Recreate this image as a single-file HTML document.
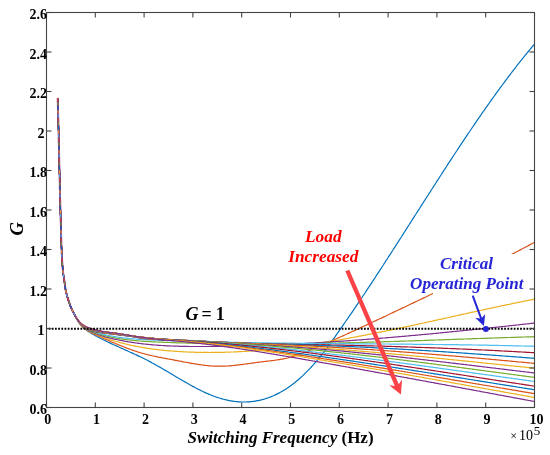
<!DOCTYPE html>
<html><head><meta charset="utf-8"><style>
html,body{margin:0;padding:0;background:#fff;}
svg{display:block;}
text{font-family:"Liberation Serif","Times New Roman",serif;}
</style></head><body>
<svg width="550" height="455" viewBox="0 0 550 455">
<rect width="550" height="455" fill="#fff"/>
<g fill="none" stroke-width="1.2" stroke-linejoin="round" stroke-linecap="round">
<path d="M57.7,98.6 L57.8,102.3 L57.9,105.9 L58.0,109.6 L58.1,113.3 L58.2,116.9 L58.3,120.6 L58.4,124.3 L58.5,128.0 L58.6,131.6 L58.7,135.3 L58.7,139.0 L58.8,142.6 L58.9,146.3 L59.0,150.0 L59.1,153.6 L59.2,157.3 L59.2,161.0 L59.3,164.7 L59.4,168.3 L59.5,172.0 L59.6,175.7 L59.7,179.3 L59.8,183.0 L59.8,186.7 L59.9,190.3 L60.0,194.0 L60.1,197.7 L60.2,201.3 L60.3,205.0 L60.4,208.7 L60.5,212.4 L60.6,216.0 L60.7,219.7 L60.8,223.4 L60.9,227.0 L61.0,230.7 L61.1,234.4 L61.2,238.0 L61.3,241.7 L61.4,245.4 L61.6,249.0 L61.7,252.7 L61.9,256.4 L62.1,260.1 L62.3,263.7 L62.6,267.4 L62.9,271.1 L63.4,274.7 L64.0,278.4 L64.5,282.1 L65.0,285.7 L65.5,289.4 L66.3,293.1 L67.3,296.8 L68.4,300.4 L69.7,304.1 L71.1,307.8 L72.8,311.4 L74.8,315.1 L75.3,316.2 L76.3,318.2 L77.3,320.1 L78.3,321.7 L79.3,323.2 L80.3,324.6 L81.3,325.7 L82.3,326.8 L83.3,327.7 L84.3,328.5 L85.3,329.3 L86.3,330.0 L87.3,330.7 L88.3,331.4 L89.3,332.0 L90.3,332.6 L91.3,333.3 L92.3,333.9 L93.3,334.4 L94.3,335.0 L95.3,335.6 L96.3,336.1 L97.3,336.7 L98.3,337.2 L99.3,337.7 L100.3,338.2 L101.3,338.7 L102.3,339.2 L103.3,339.7 L104.3,340.2 L105.3,340.7 L106.3,341.2 L107.3,341.7 L108.3,342.2 L109.3,342.6 L110.3,343.1 L111.3,343.6 L112.3,344.1 L113.3,344.5 L114.3,345.0 L115.3,345.4 L116.3,345.9 L117.3,346.3 L118.3,346.8 L119.3,347.2 L120.3,347.7 L121.3,348.1 L122.3,348.6 L123.3,349.0 L124.3,349.5 L125.3,349.9 L126.3,350.4 L127.3,350.8 L128.3,351.3 L129.3,351.7 L130.3,352.2 L131.3,352.6 L132.3,353.1 L133.3,353.6 L134.3,354.0 L135.3,354.5 L136.3,354.9 L137.3,355.4 L138.3,355.9 L139.3,356.4 L140.3,356.8 L141.3,357.3 L142.3,357.8 L143.3,358.3 L144.3,358.8 L145.3,359.3 L146.3,359.8 L147.3,360.3 L148.3,360.8 L149.3,361.4 L150.3,361.9 L151.3,362.4 L152.3,363.0 L153.3,363.5 L154.3,364.1 L155.3,364.6 L156.3,365.2 L157.3,365.7 L158.3,366.3 L159.3,366.9 L160.3,367.4 L161.3,368.0 L162.3,368.6 L163.3,369.2 L164.3,369.8 L165.3,370.4 L166.3,370.9 L167.3,371.5 L168.3,372.1 L169.3,372.7 L170.3,373.3 L171.3,373.9 L172.3,374.5 L173.3,375.1 L174.3,375.7 L175.3,376.3 L176.3,376.9 L177.3,377.5 L178.3,378.1 L179.3,378.7 L180.3,379.2 L181.3,379.8 L182.3,380.4 L183.3,381.0 L184.3,381.6 L185.3,382.1 L186.3,382.7 L187.3,383.3 L188.3,383.8 L189.3,384.4 L190.3,385.0 L191.3,385.5 L192.3,386.1 L193.3,386.6 L194.3,387.1 L195.3,387.7 L196.3,388.2 L197.3,388.7 L198.3,389.2 L199.3,389.7 L200.3,390.2 L201.3,390.7 L202.3,391.2 L203.3,391.7 L204.3,392.1 L205.3,392.6 L206.3,393.1 L207.3,393.5 L208.3,393.9 L209.3,394.4 L210.3,394.8 L211.3,395.2 L212.3,395.6 L213.3,396.0 L214.3,396.3 L215.3,396.7 L216.3,397.1 L217.3,397.4 L218.3,397.7 L219.3,398.0 L220.3,398.3 L221.3,398.6 L222.3,398.9 L223.3,399.2 L224.3,399.5 L225.3,399.7 L226.3,399.9 L227.3,400.2 L228.3,400.4 L229.3,400.6 L230.3,400.8 L231.3,400.9 L232.3,401.1 L233.3,401.2 L234.3,401.4 L235.3,401.5 L236.3,401.6 L237.3,401.7 L238.3,401.8 L239.3,401.9 L240.3,401.9 L241.3,402.0 L242.3,402.0 L243.3,402.0 L244.3,402.0 L245.3,402.0 L246.3,402.0 L247.3,401.9 L248.3,401.9 L249.3,401.8 L250.3,401.7 L251.3,401.6 L252.3,401.5 L253.3,401.4 L254.3,401.3 L255.3,401.1 L256.3,400.9 L257.3,400.7 L258.3,400.6 L259.3,400.3 L260.3,400.1 L261.3,399.9 L262.3,399.6 L263.3,399.3 L264.3,399.1 L265.3,398.8 L266.3,398.4 L267.3,398.1 L268.3,397.8 L269.3,397.4 L270.3,397.0 L271.3,396.6 L272.3,396.2 L273.3,395.8 L274.3,395.3 L275.3,394.9 L276.3,394.4 L277.3,393.9 L278.3,393.4 L279.3,392.9 L280.3,392.3 L281.3,391.8 L282.3,391.2 L283.3,390.6 L284.3,390.0 L285.3,389.4 L286.3,388.7 L287.3,388.1 L288.3,387.4 L289.3,386.7 L290.3,386.0 L291.3,385.3 L292.3,384.5 L293.3,383.7 L294.3,383.0 L295.3,382.2 L296.3,381.3 L297.3,380.5 L298.3,379.7 L299.3,378.8 L300.3,377.9 L301.3,377.0 L302.3,376.1 L303.3,375.1 L304.3,374.2 L305.3,373.2 L306.3,372.2 L307.3,371.2 L308.3,370.2 L309.3,369.1 L310.3,368.1 L311.3,367.0 L312.3,365.9 L313.3,364.8 L314.3,363.7 L315.3,362.5 L316.3,361.4 L317.3,360.2 L318.3,359.0 L319.3,357.8 L320.3,356.6 L321.3,355.4 L322.3,354.1 L323.3,352.8 L324.3,351.6 L325.3,350.3 L326.3,348.9 L327.3,347.6 L328.3,346.2 L329.3,344.9 L330.3,343.5 L331.3,342.1 L332.3,340.7 L333.3,339.2 L334.3,337.8 L335.3,336.4 L336.3,334.9 L337.3,333.5 L338.3,332.1 L339.3,330.6 L340.3,329.2 L341.3,327.7 L342.3,326.3 L343.3,324.9 L344.3,323.4 L345.3,322.0 L346.3,320.5 L347.3,319.1 L348.3,317.6 L349.3,316.2 L350.3,314.7 L351.3,313.3 L352.3,311.8 L353.3,310.3 L354.3,308.9 L355.3,307.4 L356.3,305.9 L357.3,304.4 L358.3,302.9 L359.3,301.4 L360.3,300.0 L361.3,298.5 L362.3,297.0 L363.3,295.5 L364.3,294.0 L365.3,292.5 L366.3,290.9 L367.3,289.4 L368.3,287.9 L369.3,286.4 L370.3,284.9 L371.3,283.4 L372.3,281.9 L373.3,280.3 L374.3,278.8 L375.3,277.3 L376.3,275.7 L377.3,274.2 L378.3,272.7 L379.3,271.1 L380.3,269.6 L381.3,268.1 L382.3,266.5 L383.3,265.0 L384.3,263.4 L385.3,261.9 L386.3,260.3 L387.3,258.8 L388.3,257.2 L389.3,255.7 L390.3,254.1 L391.3,252.6 L392.3,251.0 L393.3,249.5 L394.3,247.9 L395.3,246.4 L396.3,244.8 L397.3,243.2 L398.3,241.7 L399.3,240.1 L400.3,238.5 L401.3,237.0 L402.3,235.4 L403.3,233.9 L404.3,232.3 L405.3,230.7 L406.3,229.2 L407.3,227.6 L408.3,226.0 L409.3,224.5 L410.3,222.9 L411.3,221.3 L412.3,219.7 L413.3,218.2 L414.3,216.6 L415.3,215.0 L416.3,213.5 L417.3,211.9 L418.3,210.3 L419.3,208.8 L420.3,207.2 L421.3,205.6 L422.3,204.1 L423.3,202.5 L424.3,200.9 L425.3,199.4 L426.3,197.8 L427.3,196.3 L428.3,194.7 L429.3,193.1 L430.3,191.6 L431.3,190.0 L432.3,188.5 L433.3,186.9 L434.3,185.3 L435.3,183.8 L436.3,182.2 L437.3,180.7 L438.3,179.1 L439.3,177.6 L440.3,176.0 L441.3,174.5 L442.3,172.9 L443.3,171.4 L444.3,169.8 L445.3,168.3 L446.3,166.8 L447.3,165.2 L448.3,163.7 L449.3,162.2 L450.3,160.6 L451.3,159.1 L452.3,157.6 L453.3,156.0 L454.3,154.5 L455.3,153.0 L456.3,151.5 L457.3,150.0 L458.3,148.4 L459.3,146.9 L460.3,145.4 L461.3,143.9 L462.3,142.4 L463.3,140.9 L464.3,139.4 L465.3,137.9 L466.3,136.4 L467.3,134.9 L468.3,133.4 L469.3,132.0 L470.3,130.5 L471.3,129.0 L472.3,127.5 L473.3,126.1 L474.3,124.6 L475.3,123.1 L476.3,121.7 L477.3,120.2 L478.3,118.7 L479.3,117.3 L480.3,115.8 L481.3,114.4 L482.3,112.9 L483.3,111.5 L484.3,110.1 L485.3,108.6 L486.3,107.2 L487.3,105.8 L488.3,104.4 L489.3,103.0 L490.3,101.6 L491.3,100.1 L492.3,98.7 L493.3,97.4 L494.3,96.0 L495.3,94.6 L496.3,93.2 L497.3,91.8 L498.3,90.4 L499.3,89.1 L500.3,87.7 L501.3,86.3 L502.3,85.0 L503.3,83.6 L504.3,82.3 L505.3,80.9 L506.3,79.6 L507.3,78.3 L508.3,76.9 L509.3,75.6 L510.3,74.3 L511.3,73.0 L512.3,71.7 L513.3,70.4 L514.3,69.1 L515.3,67.8 L516.3,66.5 L517.3,65.2 L518.3,63.9 L519.3,62.7 L520.3,61.4 L521.3,60.2 L522.3,58.9 L523.3,57.7 L524.3,56.4 L525.3,55.2 L526.3,54.0 L527.3,52.7 L528.3,51.5 L529.3,50.3 L530.3,49.1 L531.3,47.9 L532.3,46.7 L533.3,45.5 L534.3,44.4 L534.5,44.1" stroke="#0072BD"/>
<path d="M57.7,98.6 L57.8,102.3 L57.9,105.9 L58.0,109.6 L58.1,113.3 L58.2,116.9 L58.3,120.6 L58.4,124.3 L58.5,128.0 L58.6,131.6 L58.7,135.3 L58.7,139.0 L58.8,142.6 L58.9,146.3 L59.0,150.0 L59.1,153.6 L59.2,157.3 L59.2,161.0 L59.3,164.7 L59.4,168.3 L59.5,172.0 L59.6,175.7 L59.7,179.3 L59.8,183.0 L59.8,186.7 L59.9,190.3 L60.0,194.0 L60.1,197.7 L60.2,201.3 L60.3,205.0 L60.4,208.7 L60.5,212.4 L60.6,216.0 L60.7,219.7 L60.8,223.4 L60.9,227.0 L61.0,230.7 L61.1,234.4 L61.2,238.0 L61.3,241.7 L61.4,245.4 L61.6,249.0 L61.7,252.7 L61.9,256.4 L62.1,260.1 L62.3,263.7 L62.6,267.4 L62.9,271.1 L63.4,274.7 L64.0,278.4 L64.5,282.1 L65.0,285.7 L65.5,289.4 L66.3,293.1 L67.3,296.8 L68.4,300.4 L69.7,304.1 L71.1,307.8 L72.8,311.4 L74.8,315.1 L75.3,316.1 L76.3,318.0 L77.3,319.8 L78.3,321.4 L79.3,323.0 L80.3,324.3 L81.3,325.6 L82.3,326.7 L83.3,327.6 L84.3,328.4 L85.3,329.1 L86.3,329.7 L87.3,330.3 L88.3,330.9 L89.3,331.5 L90.3,332.0 L91.3,332.6 L92.3,333.1 L93.3,333.6 L94.3,334.1 L95.3,334.6 L96.3,335.0 L97.3,335.5 L98.3,335.9 L99.3,336.4 L100.3,336.9 L101.3,337.3 L102.3,337.8 L103.3,338.2 L104.3,338.7 L105.3,339.1 L106.3,339.6 L107.3,340.0 L108.3,340.4 L109.3,340.9 L110.3,341.3 L111.3,341.8 L112.3,342.2 L113.3,342.6 L114.3,343.0 L115.3,343.5 L116.3,343.9 L117.3,344.3 L118.3,344.7 L119.3,345.1 L120.3,345.5 L121.3,345.9 L122.3,346.3 L123.3,346.7 L124.3,347.1 L125.3,347.5 L126.3,347.9 L127.3,348.3 L128.3,348.6 L129.3,349.0 L130.3,349.4 L131.3,349.7 L132.3,350.1 L133.3,350.4 L134.3,350.8 L135.3,351.1 L136.3,351.4 L137.3,351.7 L138.3,352.1 L139.3,352.4 L140.3,352.7 L141.3,353.0 L142.3,353.2 L143.3,353.5 L144.3,353.8 L145.3,354.1 L146.3,354.3 L147.3,354.6 L148.3,354.8 L149.3,355.1 L150.3,355.3 L151.3,355.5 L152.3,355.8 L153.3,356.0 L154.3,356.2 L155.3,356.4 L156.3,356.6 L157.3,356.8 L158.3,357.1 L159.3,357.3 L160.3,357.4 L161.3,357.6 L162.3,357.8 L163.3,358.0 L164.3,358.2 L165.3,358.4 L166.3,358.6 L167.3,358.8 L168.3,359.0 L169.3,359.1 L170.3,359.3 L171.3,359.5 L172.3,359.7 L173.3,359.9 L174.3,360.1 L175.3,360.3 L176.3,360.4 L177.3,360.6 L178.3,360.8 L179.3,361.0 L180.3,361.2 L181.3,361.4 L182.3,361.6 L183.3,361.8 L184.3,362.0 L185.3,362.2 L186.3,362.3 L187.3,362.5 L188.3,362.7 L189.3,362.9 L190.3,363.1 L191.3,363.3 L192.3,363.4 L193.3,363.6 L194.3,363.8 L195.3,363.9 L196.3,364.1 L197.3,364.3 L198.3,364.4 L199.3,364.6 L200.3,364.7 L201.3,364.9 L202.3,365.0 L203.3,365.1 L204.3,365.3 L205.3,365.4 L206.3,365.5 L207.3,365.6 L208.3,365.7 L209.3,365.8 L210.3,365.9 L211.3,365.9 L212.3,366.0 L213.3,366.1 L214.3,366.1 L215.3,366.2 L216.3,366.2 L217.3,366.2 L218.3,366.2 L219.3,366.2 L220.3,366.2 L221.3,366.2 L222.3,366.2 L223.3,366.2 L224.3,366.1 L225.3,366.1 L226.3,366.0 L227.3,366.0 L228.3,365.9 L229.3,365.8 L230.3,365.8 L231.3,365.7 L232.3,365.6 L233.3,365.5 L234.3,365.4 L235.3,365.3 L236.3,365.2 L237.3,365.1 L238.3,364.9 L239.3,364.8 L240.3,364.7 L241.3,364.6 L242.3,364.4 L243.3,364.3 L244.3,364.2 L245.3,364.0 L246.3,363.9 L247.3,363.8 L248.3,363.6 L249.3,363.5 L250.3,363.4 L251.3,363.2 L252.3,363.1 L253.3,362.9 L254.3,362.8 L255.3,362.7 L256.3,362.5 L257.3,362.4 L258.3,362.3 L259.3,362.1 L260.3,362.0 L261.3,361.9 L262.3,361.8 L263.3,361.7 L264.3,361.5 L265.3,361.4 L266.3,361.3 L267.3,361.2 L268.3,361.1 L269.3,361.0 L270.3,360.8 L271.3,360.7 L272.3,360.6 L273.3,360.5 L274.3,360.3 L275.3,360.2 L276.3,360.0 L277.3,359.9 L278.3,359.7 L279.3,359.6 L280.3,359.4 L281.3,359.2 L282.3,359.1 L283.3,358.9 L284.3,358.7 L285.3,358.5 L286.3,358.3 L287.3,358.0 L288.3,357.8 L289.3,357.5 L290.3,357.3 L291.3,357.0 L292.3,356.7 L293.3,356.4 L294.3,356.1 L295.3,355.8 L296.3,355.5 L297.3,355.1 L298.3,354.8 L299.3,354.4 L300.3,354.1 L301.3,353.7 L302.3,353.3 L303.3,352.9 L304.3,352.5 L305.3,352.1 L306.3,351.7 L307.3,351.3 L308.3,350.9 L309.3,350.5 L310.3,350.1 L311.3,349.7 L312.3,349.3 L313.3,348.8 L314.3,348.4 L315.3,348.0 L316.3,347.5 L317.3,347.1 L318.3,346.7 L319.3,346.2 L320.3,345.8 L321.3,345.4 L322.3,344.9 L323.3,344.5 L324.3,344.1 L325.3,343.6 L326.3,343.2 L327.3,342.8 L328.3,342.3 L329.3,341.9 L330.3,341.4 L331.3,341.0 L332.3,340.5 L333.3,340.1 L334.3,339.7 L335.3,339.2 L336.3,338.8 L337.3,338.3 L338.3,337.9 L339.3,337.4 L340.3,337.0 L341.3,336.5 L342.3,336.1 L343.3,335.6 L344.3,335.2 L345.3,334.7 L346.3,334.3 L347.3,333.8 L348.3,333.4 L349.3,332.9 L350.3,332.4 L351.3,332.0 L352.3,331.5 L353.3,331.1 L354.3,330.6 L355.3,330.2 L356.3,329.7 L357.3,329.2 L358.3,328.8 L359.3,328.3 L360.3,327.9 L361.3,327.4 L362.3,326.9 L363.3,326.5 L364.3,326.0 L365.3,325.5 L366.3,325.1 L367.3,324.6 L368.3,324.1 L369.3,323.7 L370.3,323.2 L371.3,322.7 L372.3,322.3 L373.3,321.8 L374.3,321.3 L375.3,320.9 L376.3,320.4 L377.3,319.9 L378.3,319.5 L379.3,319.0 L380.3,318.5 L381.3,318.1 L382.3,317.6 L383.3,317.1 L384.3,316.6 L385.3,316.2 L386.3,315.7 L387.3,315.2 L388.3,314.8 L389.3,314.3 L390.3,313.8 L391.3,313.3 L392.3,312.9 L393.3,312.4 L394.3,311.9 L395.3,311.4 L396.3,311.0 L397.3,310.5 L398.3,310.0 L399.3,309.5 L400.3,309.1 L401.3,308.6 L402.3,308.1 L403.3,307.6 L404.3,307.2 L405.3,306.7 L406.3,306.2 L407.3,305.7 L408.3,305.3 L409.3,304.8 L410.3,304.3 L411.3,303.8 L412.3,303.4 L413.3,302.9 L414.3,302.4 L415.3,301.9 L416.3,301.5 L417.3,301.0 L418.3,300.5 L419.3,300.0 L420.3,299.5 L421.3,299.1 L422.3,298.6 L423.3,298.1 L424.3,297.6 L425.3,297.2 L426.3,296.7 L427.3,296.2 L428.3,295.7 L429.3,295.2 L430.3,294.8 L431.3,294.3 L432.3,293.8 L433.3,293.3 L434.3,292.9 L435.3,292.4 L436.3,291.9 L437.3,291.4 L438.3,290.9 L439.3,290.5 L440.3,290.0 L441.3,289.5 L442.3,289.0 L443.3,288.5 L444.3,288.0 L445.3,287.6 L446.3,287.1 L447.3,286.6 L448.3,286.1 L449.3,285.6 L450.3,285.1 L451.3,284.7 L452.3,284.2 L453.3,283.7 L454.3,283.2 L455.3,282.7 L456.3,282.2 L457.3,281.7 L458.3,281.3 L459.3,280.8 L460.3,280.3 L461.3,279.8 L462.3,279.3 L463.3,278.8 L464.3,278.3 L465.3,277.8 L466.3,277.3 L467.3,276.8 L468.3,276.4 L469.3,275.9 L470.3,275.4 L471.3,274.9 L472.3,274.4 L473.3,273.9 L474.3,273.4 L475.3,272.9 L476.3,272.4 L477.3,271.9 L478.3,271.4 L479.3,270.9 L480.3,270.4 L481.3,269.9 L482.3,269.4 L483.3,268.9 L484.3,268.4 L485.3,267.9 L486.3,267.4 L487.3,266.9 L488.3,266.4 L489.3,265.9 L490.3,265.4 L491.3,264.9 L492.3,264.4 L493.3,263.9 L494.3,263.4 L495.3,262.9 L496.3,262.3 L497.3,261.8 L498.3,261.3 L499.3,260.8 L500.3,260.3 L501.3,259.8 L502.3,259.3 L503.3,258.8 L504.3,258.3 L505.3,257.7 L506.3,257.2 L507.3,256.7 L508.3,256.2 L509.3,255.7 L510.3,255.1 L511.3,254.6 L512.3,254.1 L513.3,253.6 L514.3,253.1 L515.3,252.5 L516.3,252.0 L517.3,251.5 L518.3,251.0 L519.3,250.4 L520.3,249.9 L521.3,249.4 L522.3,248.8 L523.3,248.3 L524.3,247.8 L525.3,247.2 L526.3,246.7 L527.3,246.2 L528.3,245.6 L529.3,245.1 L530.3,244.6 L531.3,244.0 L532.3,243.5 L533.3,243.0 L534.3,242.4 L534.5,242.3" stroke="#D95319"/>
<path d="M57.7,98.6 L57.8,102.3 L57.9,105.9 L58.0,109.6 L58.1,113.3 L58.2,116.9 L58.3,120.6 L58.4,124.3 L58.5,128.0 L58.6,131.6 L58.7,135.3 L58.7,139.0 L58.8,142.6 L58.9,146.3 L59.0,150.0 L59.1,153.6 L59.2,157.3 L59.2,161.0 L59.3,164.7 L59.4,168.3 L59.5,172.0 L59.6,175.7 L59.7,179.3 L59.8,183.0 L59.8,186.7 L59.9,190.3 L60.0,194.0 L60.1,197.7 L60.2,201.3 L60.3,205.0 L60.4,208.7 L60.5,212.4 L60.6,216.0 L60.7,219.7 L60.8,223.4 L60.9,227.0 L61.0,230.7 L61.1,234.4 L61.2,238.0 L61.3,241.7 L61.4,245.4 L61.6,249.0 L61.7,252.7 L61.9,256.4 L62.1,260.1 L62.3,263.7 L62.6,267.4 L62.9,271.1 L63.4,274.7 L64.0,278.4 L64.5,282.1 L65.0,285.7 L65.5,289.4 L66.3,293.1 L67.3,296.8 L68.4,300.4 L69.7,304.1 L71.1,307.8 L72.8,311.4 L74.8,315.1 L75.3,316.1 L76.3,317.9 L77.3,319.6 L78.3,321.3 L79.3,322.8 L80.3,324.2 L81.3,325.4 L82.3,326.5 L83.3,327.3 L84.3,328.1 L85.3,328.7 L86.3,329.3 L87.3,329.9 L88.3,330.5 L89.3,331.0 L90.3,331.6 L91.3,332.1 L92.3,332.6 L93.3,333.1 L94.3,333.5 L95.3,334.0 L96.3,334.5 L97.3,334.9 L98.3,335.3 L99.3,335.8 L100.3,336.2 L101.3,336.6 L102.3,336.9 L103.3,337.3 L104.3,337.7 L105.3,338.1 L106.3,338.4 L107.3,338.8 L108.3,339.1 L109.3,339.4 L110.3,339.7 L111.3,340.1 L112.3,340.4 L113.3,340.7 L114.3,341.0 L115.3,341.3 L116.3,341.6 L117.3,341.8 L118.3,342.1 L119.3,342.4 L120.3,342.7 L121.3,342.9 L122.3,343.2 L123.3,343.4 L124.3,343.7 L125.3,343.9 L126.3,344.2 L127.3,344.4 L128.3,344.6 L129.3,344.9 L130.3,345.1 L131.3,345.3 L132.3,345.5 L133.3,345.7 L134.3,345.9 L135.3,346.1 L136.3,346.3 L137.3,346.5 L138.3,346.7 L139.3,346.9 L140.3,347.1 L141.3,347.3 L142.3,347.4 L143.3,347.6 L144.3,347.8 L145.3,347.9 L146.3,348.1 L147.3,348.3 L148.3,348.4 L149.3,348.6 L150.3,348.7 L151.3,348.8 L152.3,349.0 L153.3,349.1 L154.3,349.2 L155.3,349.4 L156.3,349.5 L157.3,349.6 L158.3,349.7 L159.3,349.9 L160.3,350.0 L161.3,350.1 L162.3,350.2 L163.3,350.3 L164.3,350.4 L165.3,350.5 L166.3,350.6 L167.3,350.7 L168.3,350.8 L169.3,350.8 L170.3,350.9 L171.3,351.0 L172.3,351.1 L173.3,351.2 L174.3,351.2 L175.3,351.3 L176.3,351.4 L177.3,351.4 L178.3,351.5 L179.3,351.6 L180.3,351.6 L181.3,351.7 L182.3,351.7 L183.3,351.8 L184.3,351.8 L185.3,351.9 L186.3,351.9 L187.3,352.0 L188.3,352.0 L189.3,352.1 L190.3,352.1 L191.3,352.1 L192.3,352.2 L193.3,352.2 L194.3,352.2 L195.3,352.3 L196.3,352.3 L197.3,352.3 L198.3,352.3 L199.3,352.3 L200.3,352.4 L201.3,352.4 L202.3,352.4 L203.3,352.4 L204.3,352.4 L205.3,352.4 L206.3,352.4 L207.3,352.4 L208.3,352.4 L209.3,352.5 L210.3,352.5 L211.3,352.4 L212.3,352.4 L213.3,352.4 L214.3,352.4 L215.3,352.4 L216.3,352.4 L217.3,352.4 L218.3,352.4 L219.3,352.4 L220.3,352.4 L221.3,352.3 L222.3,352.3 L223.3,352.3 L224.3,352.3 L225.3,352.2 L226.3,352.2 L227.3,352.2 L228.3,352.2 L229.3,352.1 L230.3,352.1 L231.3,352.0 L232.3,352.0 L233.3,352.0 L234.3,351.9 L235.3,351.9 L236.3,351.8 L237.3,351.8 L238.3,351.7 L239.3,351.7 L240.3,351.6 L241.3,351.6 L242.3,351.5 L243.3,351.5 L244.3,351.4 L245.3,351.4 L246.3,351.3 L247.3,351.2 L248.3,351.2 L249.3,351.1 L250.3,351.0 L251.3,351.0 L252.3,350.9 L253.3,350.8 L254.3,350.8 L255.3,350.7 L256.3,350.6 L257.3,350.5 L258.3,350.5 L259.3,350.4 L260.3,350.3 L261.3,350.2 L262.3,350.1 L263.3,350.0 L264.3,349.9 L265.3,349.9 L266.3,349.8 L267.3,349.7 L268.3,349.6 L269.3,349.5 L270.3,349.4 L271.3,349.3 L272.3,349.2 L273.3,349.1 L274.3,349.0 L275.3,348.9 L276.3,348.8 L277.3,348.7 L278.3,348.6 L279.3,348.5 L280.3,348.4 L281.3,348.2 L282.3,348.1 L283.3,348.0 L284.3,347.9 L285.3,347.8 L286.3,347.7 L287.3,347.6 L288.3,347.4 L289.3,347.3 L290.3,347.2 L291.3,347.1 L292.3,346.9 L293.3,346.8 L294.3,346.7 L295.3,346.6 L296.3,346.4 L297.3,346.3 L298.3,346.2 L299.3,346.0 L300.3,345.9 L301.3,345.8 L302.3,345.6 L303.3,345.5 L304.3,345.4 L305.3,345.2 L306.3,345.1 L307.3,344.9 L308.3,344.8 L309.3,344.7 L310.3,344.5 L311.3,344.4 L312.3,344.2 L313.3,344.1 L314.3,343.9 L315.3,343.8 L316.3,343.6 L317.3,343.5 L318.3,343.3 L319.3,343.2 L320.3,343.0 L321.3,342.8 L322.3,342.7 L323.3,342.5 L324.3,342.4 L325.3,342.2 L326.3,342.0 L327.3,341.9 L328.3,341.7 L329.3,341.6 L330.3,341.4 L331.3,341.2 L332.3,341.1 L333.3,340.9 L334.3,340.7 L335.3,340.6 L336.3,340.4 L337.3,340.2 L338.3,340.0 L339.3,339.9 L340.3,339.7 L341.3,339.5 L342.3,339.3 L343.3,339.2 L344.3,339.0 L345.3,338.8 L346.3,338.6 L347.3,338.5 L348.3,338.3 L349.3,338.1 L350.3,337.9 L351.3,337.7 L352.3,337.5 L353.3,337.4 L354.3,337.2 L355.3,337.0 L356.3,336.8 L357.3,336.6 L358.3,336.4 L359.3,336.2 L360.3,336.1 L361.3,335.9 L362.3,335.7 L363.3,335.5 L364.3,335.3 L365.3,335.1 L366.3,334.9 L367.3,334.7 L368.3,334.5 L369.3,334.3 L370.3,334.1 L371.3,333.9 L372.3,333.7 L373.3,333.5 L374.3,333.3 L375.3,333.1 L376.3,332.9 L377.3,332.7 L378.3,332.5 L379.3,332.3 L380.3,332.1 L381.3,331.9 L382.3,331.7 L383.3,331.5 L384.3,331.3 L385.3,331.1 L386.3,330.9 L387.3,330.7 L388.3,330.5 L389.3,330.3 L390.3,330.1 L391.3,329.9 L392.3,329.7 L393.3,329.5 L394.3,329.3 L395.3,329.0 L396.3,328.8 L397.3,328.6 L398.3,328.4 L399.3,328.2 L400.3,328.0 L401.3,327.8 L402.3,327.6 L403.3,327.4 L404.3,327.1 L405.3,326.9 L406.3,326.7 L407.3,326.5 L408.3,326.3 L409.3,326.1 L410.3,325.9 L411.3,325.6 L412.3,325.4 L413.3,325.2 L414.3,325.0 L415.3,324.8 L416.3,324.6 L417.3,324.3 L418.3,324.1 L419.3,323.9 L420.3,323.7 L421.3,323.5 L422.3,323.3 L423.3,323.0 L424.3,322.8 L425.3,322.6 L426.3,322.4 L427.3,322.2 L428.3,321.9 L429.3,321.7 L430.3,321.5 L431.3,321.3 L432.3,321.1 L433.3,320.8 L434.3,320.6 L435.3,320.4 L436.3,320.2 L437.3,320.0 L438.3,319.7 L439.3,319.5 L440.3,319.3 L441.3,319.1 L442.3,318.9 L443.3,318.6 L444.3,318.4 L445.3,318.2 L446.3,318.0 L447.3,317.8 L448.3,317.5 L449.3,317.3 L450.3,317.1 L451.3,316.9 L452.3,316.6 L453.3,316.4 L454.3,316.2 L455.3,316.0 L456.3,315.8 L457.3,315.5 L458.3,315.3 L459.3,315.1 L460.3,314.9 L461.3,314.7 L462.3,314.4 L463.3,314.2 L464.3,314.0 L465.3,313.8 L466.3,313.6 L467.3,313.3 L468.3,313.1 L469.3,312.9 L470.3,312.7 L471.3,312.4 L472.3,312.2 L473.3,312.0 L474.3,311.8 L475.3,311.6 L476.3,311.4 L477.3,311.1 L478.3,310.9 L479.3,310.7 L480.3,310.5 L481.3,310.3 L482.3,310.0 L483.3,309.8 L484.3,309.6 L485.3,309.4 L486.3,309.2 L487.3,309.0 L488.3,308.7 L489.3,308.5 L490.3,308.3 L491.3,308.1 L492.3,307.9 L493.3,307.7 L494.3,307.4 L495.3,307.2 L496.3,307.0 L497.3,306.8 L498.3,306.6 L499.3,306.4 L500.3,306.2 L501.3,305.9 L502.3,305.7 L503.3,305.5 L504.3,305.3 L505.3,305.1 L506.3,304.9 L507.3,304.7 L508.3,304.5 L509.3,304.3 L510.3,304.1 L511.3,303.8 L512.3,303.6 L513.3,303.4 L514.3,303.2 L515.3,303.0 L516.3,302.8 L517.3,302.6 L518.3,302.4 L519.3,302.2 L520.3,302.0 L521.3,301.8 L522.3,301.6 L523.3,301.4 L524.3,301.2 L525.3,301.0 L526.3,300.8 L527.3,300.6 L528.3,300.4 L529.3,300.2 L530.3,300.0 L531.3,299.8 L532.3,299.6 L533.3,299.4 L534.3,299.2 L534.5,299.1" stroke="#EDB120"/>
<path d="M57.7,98.6 L57.8,102.3 L57.9,105.9 L58.0,109.6 L58.1,113.3 L58.2,116.9 L58.3,120.6 L58.4,124.3 L58.5,128.0 L58.6,131.6 L58.7,135.3 L58.7,139.0 L58.8,142.6 L58.9,146.3 L59.0,150.0 L59.1,153.6 L59.2,157.3 L59.2,161.0 L59.3,164.7 L59.4,168.3 L59.5,172.0 L59.6,175.7 L59.7,179.3 L59.8,183.0 L59.8,186.7 L59.9,190.3 L60.0,194.0 L60.1,197.7 L60.2,201.3 L60.3,205.0 L60.4,208.7 L60.5,212.4 L60.6,216.0 L60.7,219.7 L60.8,223.4 L60.9,227.0 L61.0,230.7 L61.1,234.4 L61.2,238.0 L61.3,241.7 L61.4,245.4 L61.6,249.0 L61.7,252.7 L61.9,256.4 L62.1,260.1 L62.3,263.7 L62.6,267.4 L62.9,271.1 L63.4,274.7 L64.0,278.4 L64.5,282.1 L65.0,285.7 L65.5,289.4 L66.3,293.1 L67.3,296.8 L68.4,300.4 L69.7,304.1 L71.1,307.8 L72.8,311.4 L74.8,315.1 L75.3,316.1 L76.3,317.9 L77.3,319.7 L78.3,321.3 L79.3,322.7 L80.3,324.0 L81.3,325.1 L82.3,326.1 L83.3,327.0 L84.3,327.7 L85.3,328.4 L86.3,329.0 L87.3,329.5 L88.3,330.1 L89.3,330.6 L90.3,331.1 L91.3,331.6 L92.3,332.1 L93.3,332.5 L94.3,333.0 L95.3,333.4 L96.3,333.8 L97.3,334.2 L98.3,334.6 L99.3,334.9 L100.3,335.3 L101.3,335.6 L102.3,335.9 L103.3,336.3 L104.3,336.6 L105.3,336.9 L106.3,337.1 L107.3,337.4 L108.3,337.7 L109.3,337.9 L110.3,338.2 L111.3,338.4 L112.3,338.6 L113.3,338.9 L114.3,339.1 L115.3,339.3 L116.3,339.5 L117.3,339.7 L118.3,340.0 L119.3,340.2 L120.3,340.4 L121.3,340.5 L122.3,340.7 L123.3,340.9 L124.3,341.1 L125.3,341.3 L126.3,341.5 L127.3,341.6 L128.3,341.8 L129.3,342.0 L130.3,342.1 L131.3,342.3 L132.3,342.4 L133.3,342.6 L134.3,342.7 L135.3,342.9 L136.3,343.0 L137.3,343.1 L138.3,343.3 L139.3,343.4 L140.3,343.5 L141.3,343.6 L142.3,343.8 L143.3,343.9 L144.3,344.0 L145.3,344.1 L146.3,344.2 L147.3,344.3 L148.3,344.4 L149.3,344.5 L150.3,344.6 L151.3,344.7 L152.3,344.8 L153.3,344.9 L154.3,345.0 L155.3,345.0 L156.3,345.1 L157.3,345.2 L158.3,345.3 L159.3,345.3 L160.3,345.4 L161.3,345.5 L162.3,345.5 L163.3,345.6 L164.3,345.6 L165.3,345.7 L166.3,345.8 L167.3,345.8 L168.3,345.9 L169.3,345.9 L170.3,345.9 L171.3,346.0 L172.3,346.0 L173.3,346.1 L174.3,346.1 L175.3,346.1 L176.3,346.2 L177.3,346.2 L178.3,346.2 L179.3,346.3 L180.3,346.3 L181.3,346.3 L182.3,346.3 L183.3,346.4 L184.3,346.4 L185.3,346.4 L186.3,346.4 L187.3,346.4 L188.3,346.4 L189.3,346.5 L190.3,346.5 L191.3,346.5 L192.3,346.5 L193.3,346.5 L194.3,346.5 L195.3,346.5 L196.3,346.5 L197.3,346.5 L198.3,346.5 L199.3,346.5 L200.3,346.5 L201.3,346.5 L202.3,346.5 L203.3,346.5 L204.3,346.5 L205.3,346.5 L206.3,346.5 L207.3,346.5 L208.3,346.5 L209.3,346.5 L210.3,346.5 L211.3,346.5 L212.3,346.4 L213.3,346.4 L214.3,346.4 L215.3,346.4 L216.3,346.4 L217.3,346.4 L218.3,346.4 L219.3,346.4 L220.3,346.4 L221.3,346.3 L222.3,346.3 L223.3,346.3 L224.3,346.3 L225.3,346.3 L226.3,346.3 L227.3,346.3 L228.3,346.2 L229.3,346.2 L230.3,346.2 L231.3,346.2 L232.3,346.2 L233.3,346.1 L234.3,346.1 L235.3,346.1 L236.3,346.1 L237.3,346.1 L238.3,346.0 L239.3,346.0 L240.3,346.0 L241.3,346.0 L242.3,345.9 L243.3,345.9 L244.3,345.9 L245.3,345.9 L246.3,345.8 L247.3,345.8 L248.3,345.8 L249.3,345.7 L250.3,345.7 L251.3,345.7 L252.3,345.7 L253.3,345.6 L254.3,345.6 L255.3,345.6 L256.3,345.5 L257.3,345.5 L258.3,345.5 L259.3,345.4 L260.3,345.4 L261.3,345.4 L262.3,345.3 L263.3,345.3 L264.3,345.3 L265.3,345.2 L266.3,345.2 L267.3,345.2 L268.3,345.1 L269.3,345.1 L270.3,345.0 L271.3,345.0 L272.3,345.0 L273.3,344.9 L274.3,344.9 L275.3,344.8 L276.3,344.8 L277.3,344.8 L278.3,344.7 L279.3,344.7 L280.3,344.6 L281.3,344.6 L282.3,344.5 L283.3,344.5 L284.3,344.5 L285.3,344.4 L286.3,344.4 L287.3,344.3 L288.3,344.3 L289.3,344.2 L290.3,344.2 L291.3,344.1 L292.3,344.1 L293.3,344.0 L294.3,344.0 L295.3,343.9 L296.3,343.9 L297.3,343.8 L298.3,343.8 L299.3,343.7 L300.3,343.7 L301.3,343.6 L302.3,343.6 L303.3,343.5 L304.3,343.5 L305.3,343.4 L306.3,343.4 L307.3,343.3 L308.3,343.2 L309.3,343.2 L310.3,343.1 L311.3,343.1 L312.3,343.0 L313.3,343.0 L314.3,342.9 L315.3,342.9 L316.3,342.8 L317.3,342.7 L318.3,342.7 L319.3,342.6 L320.3,342.6 L321.3,342.5 L322.3,342.4 L323.3,342.4 L324.3,342.3 L325.3,342.2 L326.3,342.2 L327.3,342.1 L328.3,342.1 L329.3,342.0 L330.3,341.9 L331.3,341.9 L332.3,341.8 L333.3,341.7 L334.3,341.7 L335.3,341.6 L336.3,341.5 L337.3,341.5 L338.3,341.4 L339.3,341.3 L340.3,341.3 L341.3,341.2 L342.3,341.1 L343.3,341.1 L344.3,341.0 L345.3,340.9 L346.3,340.9 L347.3,340.8 L348.3,340.7 L349.3,340.6 L350.3,340.6 L351.3,340.5 L352.3,340.4 L353.3,340.4 L354.3,340.3 L355.3,340.2 L356.3,340.1 L357.3,340.1 L358.3,340.0 L359.3,339.9 L360.3,339.8 L361.3,339.8 L362.3,339.7 L363.3,339.6 L364.3,339.5 L365.3,339.5 L366.3,339.4 L367.3,339.3 L368.3,339.2 L369.3,339.2 L370.3,339.1 L371.3,339.0 L372.3,338.9 L373.3,338.8 L374.3,338.8 L375.3,338.7 L376.3,338.6 L377.3,338.5 L378.3,338.4 L379.3,338.4 L380.3,338.3 L381.3,338.2 L382.3,338.1 L383.3,338.0 L384.3,338.0 L385.3,337.9 L386.3,337.8 L387.3,337.7 L388.3,337.6 L389.3,337.5 L390.3,337.5 L391.3,337.4 L392.3,337.3 L393.3,337.2 L394.3,337.1 L395.3,337.0 L396.3,336.9 L397.3,336.9 L398.3,336.8 L399.3,336.7 L400.3,336.6 L401.3,336.5 L402.3,336.4 L403.3,336.3 L404.3,336.3 L405.3,336.2 L406.3,336.1 L407.3,336.0 L408.3,335.9 L409.3,335.8 L410.3,335.7 L411.3,335.6 L412.3,335.5 L413.3,335.4 L414.3,335.4 L415.3,335.3 L416.3,335.2 L417.3,335.1 L418.3,335.0 L419.3,334.9 L420.3,334.8 L421.3,334.7 L422.3,334.6 L423.3,334.5 L424.3,334.4 L425.3,334.3 L426.3,334.3 L427.3,334.2 L428.3,334.1 L429.3,334.0 L430.3,333.9 L431.3,333.8 L432.3,333.7 L433.3,333.6 L434.3,333.5 L435.3,333.4 L436.3,333.3 L437.3,333.2 L438.3,333.1 L439.3,333.0 L440.3,332.9 L441.3,332.8 L442.3,332.7 L443.3,332.6 L444.3,332.5 L445.3,332.4 L446.3,332.3 L447.3,332.2 L448.3,332.1 L449.3,332.0 L450.3,331.9 L451.3,331.8 L452.3,331.7 L453.3,331.6 L454.3,331.5 L455.3,331.4 L456.3,331.3 L457.3,331.2 L458.3,331.1 L459.3,331.0 L460.3,330.9 L461.3,330.8 L462.3,330.7 L463.3,330.6 L464.3,330.5 L465.3,330.4 L466.3,330.3 L467.3,330.2 L468.3,330.1 L469.3,330.0 L470.3,329.9 L471.3,329.8 L472.3,329.7 L473.3,329.6 L474.3,329.5 L475.3,329.4 L476.3,329.3 L477.3,329.2 L478.3,329.1 L479.3,329.0 L480.3,328.9 L481.3,328.8 L482.3,328.7 L483.3,328.6 L484.3,328.5 L485.3,328.4 L486.3,328.3 L487.3,328.2 L488.3,328.1 L489.3,328.0 L490.3,327.9 L491.3,327.7 L492.3,327.6 L493.3,327.5 L494.3,327.4 L495.3,327.3 L496.3,327.2 L497.3,327.1 L498.3,327.0 L499.3,326.9 L500.3,326.8 L501.3,326.7 L502.3,326.6 L503.3,326.5 L504.3,326.4 L505.3,326.3 L506.3,326.2 L507.3,326.0 L508.3,325.9 L509.3,325.8 L510.3,325.7 L511.3,325.6 L512.3,325.5 L513.3,325.4 L514.3,325.3 L515.3,325.2 L516.3,325.1 L517.3,325.0 L518.3,324.9 L519.3,324.7 L520.3,324.6 L521.3,324.5 L522.3,324.4 L523.3,324.3 L524.3,324.2 L525.3,324.1 L526.3,324.0 L527.3,323.9 L528.3,323.8 L529.3,323.7 L530.3,323.5 L531.3,323.4 L532.3,323.3 L533.3,323.2 L534.3,323.1 L534.5,323.1" stroke="#7E2F8E"/>
<path d="M57.7,98.6 L57.8,102.3 L57.9,105.9 L58.0,109.6 L58.1,113.3 L58.2,116.9 L58.3,120.6 L58.4,124.3 L58.5,128.0 L58.6,131.6 L58.7,135.3 L58.7,139.0 L58.8,142.6 L58.9,146.3 L59.0,150.0 L59.1,153.6 L59.2,157.3 L59.2,161.0 L59.3,164.7 L59.4,168.3 L59.5,172.0 L59.6,175.7 L59.7,179.3 L59.8,183.0 L59.8,186.7 L59.9,190.3 L60.0,194.0 L60.1,197.7 L60.2,201.3 L60.3,205.0 L60.4,208.7 L60.5,212.4 L60.6,216.0 L60.7,219.7 L60.8,223.4 L60.9,227.0 L61.0,230.7 L61.1,234.4 L61.2,238.0 L61.3,241.7 L61.4,245.4 L61.6,249.0 L61.7,252.7 L61.9,256.4 L62.1,260.1 L62.3,263.7 L62.6,267.4 L62.9,271.1 L63.4,274.7 L64.0,278.4 L64.5,282.1 L65.0,285.7 L65.5,289.4 L66.3,293.1 L67.3,296.8 L68.4,300.4 L69.7,304.1 L71.1,307.8 L72.8,311.4 L74.8,315.1 L75.3,316.1 L76.3,318.0 L77.3,319.7 L78.3,321.2 L79.3,322.6 L80.3,323.8 L81.3,324.9 L82.3,325.8 L83.3,326.6 L84.3,327.4 L85.3,328.0 L86.3,328.6 L87.3,329.2 L88.3,329.7 L89.3,330.2 L90.3,330.7 L91.3,331.2 L92.3,331.6 L93.3,332.0 L94.3,332.4 L95.3,332.7 L96.3,333.1 L97.3,333.4 L98.3,333.7 L99.3,334.0 L100.3,334.3 L101.3,334.6 L102.3,334.9 L103.3,335.2 L104.3,335.4 L105.3,335.7 L106.3,335.9 L107.3,336.2 L108.3,336.4 L109.3,336.7 L110.3,336.9 L111.3,337.1 L112.3,337.3 L113.3,337.5 L114.3,337.7 L115.3,337.9 L116.3,338.1 L117.3,338.3 L118.3,338.4 L119.3,338.6 L120.3,338.8 L121.3,338.9 L122.3,339.1 L123.3,339.2 L124.3,339.4 L125.3,339.5 L126.3,339.6 L127.3,339.8 L128.3,339.9 L129.3,340.0 L130.3,340.1 L131.3,340.2 L132.3,340.3 L133.3,340.4 L134.3,340.5 L135.3,340.6 L136.3,340.7 L137.3,340.8 L138.3,340.9 L139.3,341.0 L140.3,341.0 L141.3,341.1 L142.3,341.2 L143.3,341.3 L144.3,341.3 L145.3,341.4 L146.3,341.5 L147.3,341.5 L148.3,341.6 L149.3,341.6 L150.3,341.7 L151.3,341.7 L152.3,341.8 L153.3,341.8 L154.3,341.9 L155.3,341.9 L156.3,342.0 L157.3,342.0 L158.3,342.1 L159.3,342.1 L160.3,342.1 L161.3,342.2 L162.3,342.2 L163.3,342.3 L164.3,342.3 L165.3,342.3 L166.3,342.4 L167.3,342.4 L168.3,342.5 L169.3,342.5 L170.3,342.5 L171.3,342.6 L172.3,342.6 L173.3,342.6 L174.3,342.7 L175.3,342.7 L176.3,342.8 L177.3,342.8 L178.3,342.8 L179.3,342.8 L180.3,342.9 L181.3,342.9 L182.3,342.9 L183.3,343.0 L184.3,343.0 L185.3,343.0 L186.3,343.1 L187.3,343.1 L188.3,343.1 L189.3,343.1 L190.3,343.2 L191.3,343.2 L192.3,343.2 L193.3,343.3 L194.3,343.3 L195.3,343.3 L196.3,343.3 L197.3,343.4 L198.3,343.4 L199.3,343.4 L200.3,343.4 L201.3,343.4 L202.3,343.5 L203.3,343.5 L204.3,343.5 L205.3,343.5 L206.3,343.5 L207.3,343.6 L208.3,343.6 L209.3,343.6 L210.3,343.6 L211.3,343.6 L212.3,343.7 L213.3,343.7 L214.3,343.7 L215.3,343.7 L216.3,343.7 L217.3,343.7 L218.3,343.8 L219.3,343.8 L220.3,343.8 L221.3,343.8 L222.3,343.8 L223.3,343.8 L224.3,343.8 L225.3,343.8 L226.3,343.9 L227.3,343.9 L228.3,343.9 L229.3,343.9 L230.3,343.9 L231.3,343.9 L232.3,343.9 L233.3,343.9 L234.3,343.9 L235.3,343.9 L236.3,343.9 L237.3,344.0 L238.3,344.0 L239.3,344.0 L240.3,344.0 L241.3,344.0 L242.3,344.0 L243.3,344.0 L244.3,344.0 L245.3,344.0 L246.3,344.0 L247.3,344.0 L248.3,344.0 L249.3,344.0 L250.3,344.0 L251.3,344.0 L252.3,344.0 L253.3,344.0 L254.3,344.0 L255.3,344.0 L256.3,344.0 L257.3,344.0 L258.3,344.0 L259.3,344.0 L260.3,344.0 L261.3,344.0 L262.3,344.0 L263.3,344.0 L264.3,344.0 L265.3,344.0 L266.3,344.0 L267.3,344.0 L268.3,344.0 L269.3,344.0 L270.3,344.0 L271.3,344.0 L272.3,344.0 L273.3,344.0 L274.3,344.0 L275.3,344.0 L276.3,343.9 L277.3,343.9 L278.3,343.9 L279.3,343.9 L280.3,343.9 L281.3,343.9 L282.3,343.9 L283.3,343.9 L284.3,343.9 L285.3,343.9 L286.3,343.9 L287.3,343.9 L288.3,343.8 L289.3,343.8 L290.3,343.8 L291.3,343.8 L292.3,343.8 L293.3,343.8 L294.3,343.8 L295.3,343.8 L296.3,343.7 L297.3,343.7 L298.3,343.7 L299.3,343.7 L300.3,343.7 L301.3,343.7 L302.3,343.7 L303.3,343.7 L304.3,343.6 L305.3,343.6 L306.3,343.6 L307.3,343.6 L308.3,343.6 L309.3,343.6 L310.3,343.5 L311.3,343.5 L312.3,343.5 L313.3,343.5 L314.3,343.5 L315.3,343.5 L316.3,343.4 L317.3,343.4 L318.3,343.4 L319.3,343.4 L320.3,343.4 L321.3,343.3 L322.3,343.3 L323.3,343.3 L324.3,343.3 L325.3,343.3 L326.3,343.2 L327.3,343.2 L328.3,343.2 L329.3,343.2 L330.3,343.2 L331.3,343.1 L332.3,343.1 L333.3,343.1 L334.3,343.1 L335.3,343.1 L336.3,343.0 L337.3,343.0 L338.3,343.0 L339.3,343.0 L340.3,342.9 L341.3,342.9 L342.3,342.9 L343.3,342.9 L344.3,342.8 L345.3,342.8 L346.3,342.8 L347.3,342.8 L348.3,342.7 L349.3,342.7 L350.3,342.7 L351.3,342.7 L352.3,342.6 L353.3,342.6 L354.3,342.6 L355.3,342.6 L356.3,342.5 L357.3,342.5 L358.3,342.5 L359.3,342.5 L360.3,342.4 L361.3,342.4 L362.3,342.4 L363.3,342.3 L364.3,342.3 L365.3,342.3 L366.3,342.3 L367.3,342.2 L368.3,342.2 L369.3,342.2 L370.3,342.1 L371.3,342.1 L372.3,342.1 L373.3,342.1 L374.3,342.0 L375.3,342.0 L376.3,342.0 L377.3,341.9 L378.3,341.9 L379.3,341.9 L380.3,341.9 L381.3,341.8 L382.3,341.8 L383.3,341.8 L384.3,341.7 L385.3,341.7 L386.3,341.7 L387.3,341.6 L388.3,341.6 L389.3,341.6 L390.3,341.5 L391.3,341.5 L392.3,341.5 L393.3,341.5 L394.3,341.4 L395.3,341.4 L396.3,341.4 L397.3,341.3 L398.3,341.3 L399.3,341.3 L400.3,341.2 L401.3,341.2 L402.3,341.2 L403.3,341.1 L404.3,341.1 L405.3,341.1 L406.3,341.0 L407.3,341.0 L408.3,341.0 L409.3,340.9 L410.3,340.9 L411.3,340.9 L412.3,340.8 L413.3,340.8 L414.3,340.8 L415.3,340.7 L416.3,340.7 L417.3,340.7 L418.3,340.6 L419.3,340.6 L420.3,340.6 L421.3,340.5 L422.3,340.5 L423.3,340.5 L424.3,340.4 L425.3,340.4 L426.3,340.4 L427.3,340.3 L428.3,340.3 L429.3,340.2 L430.3,340.2 L431.3,340.2 L432.3,340.1 L433.3,340.1 L434.3,340.1 L435.3,340.0 L436.3,340.0 L437.3,340.0 L438.3,339.9 L439.3,339.9 L440.3,339.9 L441.3,339.8 L442.3,339.8 L443.3,339.8 L444.3,339.7 L445.3,339.7 L446.3,339.7 L447.3,339.6 L448.3,339.6 L449.3,339.6 L450.3,339.5 L451.3,339.5 L452.3,339.4 L453.3,339.4 L454.3,339.4 L455.3,339.3 L456.3,339.3 L457.3,339.3 L458.3,339.2 L459.3,339.2 L460.3,339.2 L461.3,339.1 L462.3,339.1 L463.3,339.1 L464.3,339.0 L465.3,339.0 L466.3,339.0 L467.3,338.9 L468.3,338.9 L469.3,338.8 L470.3,338.8 L471.3,338.8 L472.3,338.7 L473.3,338.7 L474.3,338.7 L475.3,338.6 L476.3,338.6 L477.3,338.6 L478.3,338.5 L479.3,338.5 L480.3,338.5 L481.3,338.4 L482.3,338.4 L483.3,338.4 L484.3,338.3 L485.3,338.3 L486.3,338.3 L487.3,338.2 L488.3,338.2 L489.3,338.2 L490.3,338.1 L491.3,338.1 L492.3,338.1 L493.3,338.0 L494.3,338.0 L495.3,337.9 L496.3,337.9 L497.3,337.9 L498.3,337.8 L499.3,337.8 L500.3,337.8 L501.3,337.7 L502.3,337.7 L503.3,337.7 L504.3,337.6 L505.3,337.6 L506.3,337.6 L507.3,337.5 L508.3,337.5 L509.3,337.5 L510.3,337.5 L511.3,337.4 L512.3,337.4 L513.3,337.4 L514.3,337.3 L515.3,337.3 L516.3,337.3 L517.3,337.2 L518.3,337.2 L519.3,337.2 L520.3,337.1 L521.3,337.1 L522.3,337.1 L523.3,337.0 L524.3,337.0 L525.3,337.0 L526.3,336.9 L527.3,336.9 L528.3,336.9 L529.3,336.9 L530.3,336.8 L531.3,336.8 L532.3,336.8 L533.3,336.7 L534.3,336.7 L534.5,336.7" stroke="#77AC30"/>
<path d="M57.7,98.6 L57.8,102.3 L57.9,105.9 L58.0,109.6 L58.1,113.3 L58.2,116.9 L58.3,120.6 L58.4,124.3 L58.5,128.0 L58.6,131.6 L58.7,135.3 L58.7,139.0 L58.8,142.6 L58.9,146.3 L59.0,150.0 L59.1,153.6 L59.2,157.3 L59.2,161.0 L59.3,164.7 L59.4,168.3 L59.5,172.0 L59.6,175.7 L59.7,179.3 L59.8,183.0 L59.8,186.7 L59.9,190.3 L60.0,194.0 L60.1,197.7 L60.2,201.3 L60.3,205.0 L60.4,208.7 L60.5,212.4 L60.6,216.0 L60.7,219.7 L60.8,223.4 L60.9,227.0 L61.0,230.7 L61.1,234.4 L61.2,238.0 L61.3,241.7 L61.4,245.4 L61.6,249.0 L61.7,252.7 L61.9,256.4 L62.1,260.1 L62.3,263.7 L62.6,267.4 L62.9,271.1 L63.4,274.7 L64.0,278.4 L64.5,282.1 L65.0,285.7 L65.5,289.4 L66.3,293.1 L67.3,296.8 L68.4,300.4 L69.7,304.1 L71.1,307.8 L72.8,311.4 L74.8,315.1 L75.3,316.1 L76.3,318.0 L77.3,319.6 L78.3,321.1 L79.3,322.4 L80.3,323.6 L81.3,324.7 L82.3,325.6 L83.3,326.4 L84.3,327.1 L85.3,327.8 L86.3,328.4 L87.3,328.9 L88.3,329.5 L89.3,330.0 L90.3,330.4 L91.3,330.8 L92.3,331.2 L93.3,331.6 L94.3,331.9 L95.3,332.3 L96.3,332.6 L97.3,332.9 L98.3,333.1 L99.3,333.4 L100.3,333.6 L101.3,333.9 L102.3,334.1 L103.3,334.4 L104.3,334.6 L105.3,334.8 L106.3,335.0 L107.3,335.3 L108.3,335.5 L109.3,335.7 L110.3,335.8 L111.3,336.0 L112.3,336.2 L113.3,336.4 L114.3,336.6 L115.3,336.7 L116.3,336.9 L117.3,337.0 L118.3,337.2 L119.3,337.3 L120.3,337.5 L121.3,337.6 L122.3,337.7 L123.3,337.9 L124.3,338.0 L125.3,338.1 L126.3,338.2 L127.3,338.3 L128.3,338.4 L129.3,338.5 L130.3,338.6 L131.3,338.7 L132.3,338.8 L133.3,338.9 L134.3,339.0 L135.3,339.0 L136.3,339.1 L137.3,339.2 L138.3,339.3 L139.3,339.3 L140.3,339.4 L141.3,339.5 L142.3,339.5 L143.3,339.6 L144.3,339.6 L145.3,339.7 L146.3,339.7 L147.3,339.8 L148.3,339.8 L149.3,339.9 L150.3,339.9 L151.3,340.0 L152.3,340.0 L153.3,340.1 L154.3,340.1 L155.3,340.1 L156.3,340.2 L157.3,340.2 L158.3,340.3 L159.3,340.3 L160.3,340.3 L161.3,340.4 L162.3,340.4 L163.3,340.4 L164.3,340.5 L165.3,340.5 L166.3,340.5 L167.3,340.6 L168.3,340.6 L169.3,340.6 L170.3,340.7 L171.3,340.7 L172.3,340.8 L173.3,340.8 L174.3,340.8 L175.3,340.8 L176.3,340.9 L177.3,340.9 L178.3,340.9 L179.3,341.0 L180.3,341.0 L181.3,341.0 L182.3,341.1 L183.3,341.1 L184.3,341.1 L185.3,341.2 L186.3,341.2 L187.3,341.2 L188.3,341.3 L189.3,341.3 L190.3,341.3 L191.3,341.3 L192.3,341.4 L193.3,341.4 L194.3,341.4 L195.3,341.5 L196.3,341.5 L197.3,341.5 L198.3,341.5 L199.3,341.6 L200.3,341.6 L201.3,341.6 L202.3,341.6 L203.3,341.7 L204.3,341.7 L205.3,341.7 L206.3,341.7 L207.3,341.8 L208.3,341.8 L209.3,341.8 L210.3,341.8 L211.3,341.9 L212.3,341.9 L213.3,341.9 L214.3,341.9 L215.3,342.0 L216.3,342.0 L217.3,342.0 L218.3,342.0 L219.3,342.0 L220.3,342.1 L221.3,342.1 L222.3,342.1 L223.3,342.1 L224.3,342.2 L225.3,342.2 L226.3,342.2 L227.3,342.2 L228.3,342.2 L229.3,342.3 L230.3,342.3 L231.3,342.3 L232.3,342.3 L233.3,342.3 L234.3,342.4 L235.3,342.4 L236.3,342.4 L237.3,342.4 L238.3,342.4 L239.3,342.5 L240.3,342.5 L241.3,342.5 L242.3,342.5 L243.3,342.5 L244.3,342.5 L245.3,342.6 L246.3,342.6 L247.3,342.6 L248.3,342.6 L249.3,342.6 L250.3,342.6 L251.3,342.7 L252.3,342.7 L253.3,342.7 L254.3,342.7 L255.3,342.7 L256.3,342.7 L257.3,342.8 L258.3,342.8 L259.3,342.8 L260.3,342.8 L261.3,342.8 L262.3,342.8 L263.3,342.9 L264.3,342.9 L265.3,342.9 L266.3,342.9 L267.3,342.9 L268.3,342.9 L269.3,342.9 L270.3,343.0 L271.3,343.0 L272.3,343.0 L273.3,343.0 L274.3,343.0 L275.3,343.0 L276.3,343.0 L277.3,343.0 L278.3,343.1 L279.3,343.1 L280.3,343.1 L281.3,343.1 L282.3,343.1 L283.3,343.1 L284.3,343.1 L285.3,343.1 L286.3,343.2 L287.3,343.2 L288.3,343.2 L289.3,343.2 L290.3,343.2 L291.3,343.2 L292.3,343.2 L293.3,343.2 L294.3,343.2 L295.3,343.3 L296.3,343.3 L297.3,343.3 L298.3,343.3 L299.3,343.3 L300.3,343.3 L301.3,343.3 L302.3,343.3 L303.3,343.3 L304.3,343.4 L305.3,343.4 L306.3,343.4 L307.3,343.4 L308.3,343.4 L309.3,343.4 L310.3,343.4 L311.3,343.4 L312.3,343.4 L313.3,343.4 L314.3,343.4 L315.3,343.5 L316.3,343.5 L317.3,343.5 L318.3,343.5 L319.3,343.5 L320.3,343.5 L321.3,343.5 L322.3,343.5 L323.3,343.5 L324.3,343.5 L325.3,343.5 L326.3,343.6 L327.3,343.6 L328.3,343.6 L329.3,343.6 L330.3,343.6 L331.3,343.6 L332.3,343.6 L333.3,343.6 L334.3,343.6 L335.3,343.6 L336.3,343.6 L337.3,343.6 L338.3,343.7 L339.3,343.7 L340.3,343.7 L341.3,343.7 L342.3,343.7 L343.3,343.7 L344.3,343.7 L345.3,343.7 L346.3,343.7 L347.3,343.7 L348.3,343.7 L349.3,343.7 L350.3,343.7 L351.3,343.8 L352.3,343.8 L353.3,343.8 L354.3,343.8 L355.3,343.8 L356.3,343.8 L357.3,343.8 L358.3,343.8 L359.3,343.8 L360.3,343.8 L361.3,343.8 L362.3,343.8 L363.3,343.8 L364.3,343.9 L365.3,343.9 L366.3,343.9 L367.3,343.9 L368.3,343.9 L369.3,343.9 L370.3,343.9 L371.3,343.9 L372.3,343.9 L373.3,343.9 L374.3,343.9 L375.3,343.9 L376.3,343.9 L377.3,344.0 L378.3,344.0 L379.3,344.0 L380.3,344.0 L381.3,344.0 L382.3,344.0 L383.3,344.0 L384.3,344.0 L385.3,344.0 L386.3,344.0 L387.3,344.0 L388.3,344.0 L389.3,344.0 L390.3,344.1 L391.3,344.1 L392.3,344.1 L393.3,344.1 L394.3,344.1 L395.3,344.1 L396.3,344.1 L397.3,344.1 L398.3,344.1 L399.3,344.1 L400.3,344.1 L401.3,344.1 L402.3,344.2 L403.3,344.2 L404.3,344.2 L405.3,344.2 L406.3,344.2 L407.3,344.2 L408.3,344.2 L409.3,344.2 L410.3,344.2 L411.3,344.2 L412.3,344.2 L413.3,344.3 L414.3,344.3 L415.3,344.3 L416.3,344.3 L417.3,344.3 L418.3,344.3 L419.3,344.3 L420.3,344.3 L421.3,344.3 L422.3,344.3 L423.3,344.3 L424.3,344.4 L425.3,344.4 L426.3,344.4 L427.3,344.4 L428.3,344.4 L429.3,344.4 L430.3,344.4 L431.3,344.4 L432.3,344.4 L433.3,344.5 L434.3,344.5 L435.3,344.5 L436.3,344.5 L437.3,344.5 L438.3,344.5 L439.3,344.5 L440.3,344.5 L441.3,344.5 L442.3,344.6 L443.3,344.6 L444.3,344.6 L445.3,344.6 L446.3,344.6 L447.3,344.6 L448.3,344.6 L449.3,344.6 L450.3,344.7 L451.3,344.7 L452.3,344.7 L453.3,344.7 L454.3,344.7 L455.3,344.7 L456.3,344.7 L457.3,344.7 L458.3,344.8 L459.3,344.8 L460.3,344.8 L461.3,344.8 L462.3,344.8 L463.3,344.8 L464.3,344.8 L465.3,344.9 L466.3,344.9 L467.3,344.9 L468.3,344.9 L469.3,344.9 L470.3,344.9 L471.3,344.9 L472.3,345.0 L473.3,345.0 L474.3,345.0 L475.3,345.0 L476.3,345.0 L477.3,345.0 L478.3,345.1 L479.3,345.1 L480.3,345.1 L481.3,345.1 L482.3,345.1 L483.3,345.1 L484.3,345.2 L485.3,345.2 L486.3,345.2 L487.3,345.2 L488.3,345.2 L489.3,345.3 L490.3,345.3 L491.3,345.3 L492.3,345.3 L493.3,345.3 L494.3,345.4 L495.3,345.4 L496.3,345.4 L497.3,345.4 L498.3,345.4 L499.3,345.5 L500.3,345.5 L501.3,345.5 L502.3,345.5 L503.3,345.5 L504.3,345.6 L505.3,345.6 L506.3,345.6 L507.3,345.6 L508.3,345.6 L509.3,345.7 L510.3,345.7 L511.3,345.7 L512.3,345.7 L513.3,345.8 L514.3,345.8 L515.3,345.8 L516.3,345.8 L517.3,345.9 L518.3,345.9 L519.3,345.9 L520.3,345.9 L521.3,346.0 L522.3,346.0 L523.3,346.0 L524.3,346.0 L525.3,346.1 L526.3,346.1 L527.3,346.1 L528.3,346.1 L529.3,346.2 L530.3,346.2 L531.3,346.2 L532.3,346.2 L533.3,346.3 L534.3,346.3 L534.5,346.3" stroke="#4DBEEE"/>
<path d="M57.7,98.6 L57.8,102.3 L57.9,105.9 L58.0,109.6 L58.1,113.3 L58.2,116.9 L58.3,120.6 L58.4,124.3 L58.5,128.0 L58.6,131.6 L58.7,135.3 L58.7,139.0 L58.8,142.6 L58.9,146.3 L59.0,150.0 L59.1,153.6 L59.2,157.3 L59.2,161.0 L59.3,164.7 L59.4,168.3 L59.5,172.0 L59.6,175.7 L59.7,179.3 L59.8,183.0 L59.8,186.7 L59.9,190.3 L60.0,194.0 L60.1,197.7 L60.2,201.3 L60.3,205.0 L60.4,208.7 L60.5,212.4 L60.6,216.0 L60.7,219.7 L60.8,223.4 L60.9,227.0 L61.0,230.7 L61.1,234.4 L61.2,238.0 L61.3,241.7 L61.4,245.4 L61.6,249.0 L61.7,252.7 L61.9,256.4 L62.1,260.1 L62.3,263.7 L62.6,267.4 L62.9,271.1 L63.4,274.7 L64.0,278.4 L64.5,282.1 L65.0,285.7 L65.5,289.4 L66.3,293.1 L67.3,296.8 L68.4,300.4 L69.7,304.1 L71.1,307.8 L72.8,311.4 L74.8,315.1 L75.3,316.1 L76.3,317.9 L77.3,319.5 L78.3,320.9 L79.3,322.3 L80.3,323.4 L81.3,324.5 L82.3,325.4 L83.3,326.3 L84.3,327.0 L85.3,327.7 L86.3,328.3 L87.3,328.9 L88.3,329.3 L89.3,329.8 L90.3,330.2 L91.3,330.5 L92.3,330.9 L93.3,331.1 L94.3,331.4 L95.3,331.6 L96.3,331.8 L97.3,332.0 L98.3,332.2 L99.3,332.4 L100.3,332.5 L101.3,332.7 L102.3,332.8 L103.3,333.0 L104.3,333.1 L105.3,333.2 L106.3,333.4 L107.3,333.5 L108.3,333.6 L109.3,333.8 L110.3,333.9 L111.3,334.0 L112.3,334.1 L113.3,334.2 L114.3,334.4 L115.3,334.5 L116.3,334.6 L117.3,334.7 L118.3,334.8 L119.3,335.0 L120.3,335.1 L121.3,335.2 L122.3,335.3 L123.3,335.4 L124.3,335.6 L125.3,335.7 L126.3,335.8 L127.3,336.0 L128.3,336.1 L129.3,336.2 L130.3,336.4 L131.3,336.5 L132.3,336.7 L133.3,336.8 L134.3,337.0 L135.3,337.2 L136.3,337.3 L137.3,337.5 L138.3,337.6 L139.3,337.8 L140.3,337.9 L141.3,338.1 L142.3,338.2 L143.3,338.4 L144.3,338.5 L145.3,338.6 L146.3,338.7 L147.3,338.8 L148.3,339.0 L149.3,339.0 L150.3,339.1 L151.3,339.2 L152.3,339.3 L153.3,339.4 L154.3,339.4 L155.3,339.5 L156.3,339.5 L157.3,339.6 L158.3,339.6 L159.3,339.7 L160.3,339.7 L161.3,339.7 L162.3,339.8 L163.3,339.8 L164.3,339.9 L165.3,339.9 L166.3,339.9 L167.3,340.0 L168.3,340.0 L169.3,340.0 L170.3,340.1 L171.3,340.1 L172.3,340.1 L173.3,340.2 L174.3,340.2 L175.3,340.2 L176.3,340.3 L177.3,340.3 L178.3,340.3 L179.3,340.4 L180.3,340.4 L181.3,340.4 L182.3,340.5 L183.3,340.5 L184.3,340.5 L185.3,340.6 L186.3,340.6 L187.3,340.7 L188.3,340.7 L189.3,340.7 L190.3,340.8 L191.3,340.8 L192.3,340.8 L193.3,340.9 L194.3,340.9 L195.3,341.0 L196.3,341.0 L197.3,341.0 L198.3,341.1 L199.3,341.1 L200.3,341.2 L201.3,341.2 L202.3,341.3 L203.3,341.3 L204.3,341.4 L205.3,341.4 L206.3,341.4 L207.3,341.5 L208.3,341.5 L209.3,341.6 L210.3,341.6 L211.3,341.7 L212.3,341.7 L213.3,341.8 L214.3,341.8 L215.3,341.9 L216.3,341.9 L217.3,342.0 L218.3,342.0 L219.3,342.1 L220.3,342.1 L221.3,342.2 L222.3,342.2 L223.3,342.3 L224.3,342.3 L225.3,342.4 L226.3,342.4 L227.3,342.5 L228.3,342.5 L229.3,342.5 L230.3,342.6 L231.3,342.6 L232.3,342.7 L233.3,342.7 L234.3,342.8 L235.3,342.8 L236.3,342.9 L237.3,342.9 L238.3,342.9 L239.3,343.0 L240.3,343.0 L241.3,343.1 L242.3,343.1 L243.3,343.2 L244.3,343.2 L245.3,343.2 L246.3,343.3 L247.3,343.3 L248.3,343.3 L249.3,343.4 L250.3,343.4 L251.3,343.4 L252.3,343.5 L253.3,343.5 L254.3,343.5 L255.3,343.6 L256.3,343.6 L257.3,343.6 L258.3,343.7 L259.3,343.7 L260.3,343.7 L261.3,343.7 L262.3,343.8 L263.3,343.8 L264.3,343.8 L265.3,343.8 L266.3,343.9 L267.3,343.9 L268.3,343.9 L269.3,343.9 L270.3,343.9 L271.3,344.0 L272.3,344.0 L273.3,344.0 L274.3,344.0 L275.3,344.0 L276.3,344.1 L277.3,344.1 L278.3,344.1 L279.3,344.1 L280.3,344.1 L281.3,344.2 L282.3,344.2 L283.3,344.2 L284.3,344.2 L285.3,344.2 L286.3,344.2 L287.3,344.3 L288.3,344.3 L289.3,344.3 L290.3,344.3 L291.3,344.3 L292.3,344.3 L293.3,344.3 L294.3,344.4 L295.3,344.4 L296.3,344.4 L297.3,344.4 L298.3,344.4 L299.3,344.4 L300.3,344.4 L301.3,344.5 L302.3,344.5 L303.3,344.5 L304.3,344.5 L305.3,344.5 L306.3,344.5 L307.3,344.6 L308.3,344.6 L309.3,344.6 L310.3,344.6 L311.3,344.6 L312.3,344.6 L313.3,344.6 L314.3,344.7 L315.3,344.7 L316.3,344.7 L317.3,344.7 L318.3,344.7 L319.3,344.8 L320.3,344.8 L321.3,344.8 L322.3,344.8 L323.3,344.8 L324.3,344.8 L325.3,344.9 L326.3,344.9 L327.3,344.9 L328.3,344.9 L329.3,344.9 L330.3,345.0 L331.3,345.0 L332.3,345.0 L333.3,345.0 L334.3,345.0 L335.3,345.1 L336.3,345.1 L337.3,345.1 L338.3,345.1 L339.3,345.1 L340.3,345.2 L341.3,345.2 L342.3,345.2 L343.3,345.2 L344.3,345.2 L345.3,345.3 L346.3,345.3 L347.3,345.3 L348.3,345.3 L349.3,345.4 L350.3,345.4 L351.3,345.4 L352.3,345.4 L353.3,345.4 L354.3,345.5 L355.3,345.5 L356.3,345.5 L357.3,345.5 L358.3,345.6 L359.3,345.6 L360.3,345.6 L361.3,345.6 L362.3,345.7 L363.3,345.7 L364.3,345.7 L365.3,345.7 L366.3,345.8 L367.3,345.8 L368.3,345.8 L369.3,345.8 L370.3,345.9 L371.3,345.9 L372.3,345.9 L373.3,345.9 L374.3,346.0 L375.3,346.0 L376.3,346.0 L377.3,346.0 L378.3,346.1 L379.3,346.1 L380.3,346.1 L381.3,346.2 L382.3,346.2 L383.3,346.2 L384.3,346.2 L385.3,346.3 L386.3,346.3 L387.3,346.3 L388.3,346.4 L389.3,346.4 L390.3,346.4 L391.3,346.4 L392.3,346.5 L393.3,346.5 L394.3,346.5 L395.3,346.6 L396.3,346.6 L397.3,346.6 L398.3,346.7 L399.3,346.7 L400.3,346.7 L401.3,346.8 L402.3,346.8 L403.3,346.8 L404.3,346.9 L405.3,346.9 L406.3,346.9 L407.3,346.9 L408.3,347.0 L409.3,347.0 L410.3,347.0 L411.3,347.1 L412.3,347.1 L413.3,347.1 L414.3,347.2 L415.3,347.2 L416.3,347.3 L417.3,347.3 L418.3,347.3 L419.3,347.4 L420.3,347.4 L421.3,347.4 L422.3,347.5 L423.3,347.5 L424.3,347.5 L425.3,347.6 L426.3,347.6 L427.3,347.6 L428.3,347.7 L429.3,347.7 L430.3,347.8 L431.3,347.8 L432.3,347.8 L433.3,347.9 L434.3,347.9 L435.3,347.9 L436.3,348.0 L437.3,348.0 L438.3,348.1 L439.3,348.1 L440.3,348.1 L441.3,348.2 L442.3,348.2 L443.3,348.3 L444.3,348.3 L445.3,348.3 L446.3,348.4 L447.3,348.4 L448.3,348.5 L449.3,348.5 L450.3,348.5 L451.3,348.6 L452.3,348.6 L453.3,348.7 L454.3,348.7 L455.3,348.7 L456.3,348.8 L457.3,348.8 L458.3,348.9 L459.3,348.9 L460.3,349.0 L461.3,349.0 L462.3,349.0 L463.3,349.1 L464.3,349.1 L465.3,349.2 L466.3,349.2 L467.3,349.3 L468.3,349.3 L469.3,349.4 L470.3,349.4 L471.3,349.4 L472.3,349.5 L473.3,349.5 L474.3,349.6 L475.3,349.6 L476.3,349.7 L477.3,349.7 L478.3,349.8 L479.3,349.8 L480.3,349.9 L481.3,349.9 L482.3,350.0 L483.3,350.0 L484.3,350.0 L485.3,350.1 L486.3,350.1 L487.3,350.2 L488.3,350.2 L489.3,350.3 L490.3,350.3 L491.3,350.4 L492.3,350.4 L493.3,350.5 L494.3,350.5 L495.3,350.6 L496.3,350.6 L497.3,350.7 L498.3,350.7 L499.3,350.8 L500.3,350.8 L501.3,350.9 L502.3,351.0 L503.3,351.0 L504.3,351.1 L505.3,351.1 L506.3,351.2 L507.3,351.2 L508.3,351.3 L509.3,351.3 L510.3,351.4 L511.3,351.4 L512.3,351.5 L513.3,351.5 L514.3,351.6 L515.3,351.6 L516.3,351.7 L517.3,351.8 L518.3,351.8 L519.3,351.9 L520.3,351.9 L521.3,352.0 L522.3,352.0 L523.3,352.1 L524.3,352.1 L525.3,352.2 L526.3,352.3 L527.3,352.3 L528.3,352.4 L529.3,352.4 L530.3,352.5 L531.3,352.6 L532.3,352.6 L533.3,352.7 L534.3,352.7 L534.5,352.7" stroke="#A2142F"/>
<path d="M57.7,98.6 L57.8,102.3 L57.9,105.9 L58.0,109.6 L58.1,113.3 L58.2,116.9 L58.3,120.6 L58.4,124.3 L58.5,128.0 L58.6,131.6 L58.7,135.3 L58.7,139.0 L58.8,142.6 L58.9,146.3 L59.0,150.0 L59.1,153.6 L59.2,157.3 L59.2,161.0 L59.3,164.7 L59.4,168.3 L59.5,172.0 L59.6,175.7 L59.7,179.3 L59.8,183.0 L59.8,186.7 L59.9,190.3 L60.0,194.0 L60.1,197.7 L60.2,201.3 L60.3,205.0 L60.4,208.7 L60.5,212.4 L60.6,216.0 L60.7,219.7 L60.8,223.4 L60.9,227.0 L61.0,230.7 L61.1,234.4 L61.2,238.0 L61.3,241.7 L61.4,245.4 L61.6,249.0 L61.7,252.7 L61.9,256.4 L62.1,260.1 L62.3,263.7 L62.6,267.4 L62.9,271.1 L63.4,274.7 L64.0,278.4 L64.5,282.1 L65.0,285.7 L65.5,289.4 L66.3,293.1 L67.3,296.8 L68.4,300.4 L69.7,304.1 L71.1,307.8 L72.8,311.4 L74.8,315.1 L75.3,316.1 L76.3,317.8 L77.3,319.4 L78.3,320.9 L79.3,322.2 L80.3,323.4 L81.3,324.4 L82.3,325.3 L83.3,326.2 L84.3,326.9 L85.3,327.6 L86.3,328.2 L87.3,328.7 L88.3,329.2 L89.3,329.6 L90.3,330.0 L91.3,330.4 L92.3,330.7 L93.3,331.0 L94.3,331.2 L95.3,331.4 L96.3,331.6 L97.3,331.8 L98.3,332.0 L99.3,332.2 L100.3,332.3 L101.3,332.5 L102.3,332.6 L103.3,332.7 L104.3,332.9 L105.3,333.0 L106.3,333.2 L107.3,333.3 L108.3,333.4 L109.3,333.5 L110.3,333.7 L111.3,333.8 L112.3,333.9 L113.3,334.0 L114.3,334.2 L115.3,334.3 L116.3,334.4 L117.3,334.5 L118.3,334.6 L119.3,334.8 L120.3,334.9 L121.3,335.0 L122.3,335.1 L123.3,335.3 L124.3,335.4 L125.3,335.5 L126.3,335.7 L127.3,335.8 L128.3,335.9 L129.3,336.1 L130.3,336.2 L131.3,336.4 L132.3,336.5 L133.3,336.7 L134.3,336.8 L135.3,337.0 L136.3,337.1 L137.3,337.3 L138.3,337.5 L139.3,337.6 L140.3,337.8 L141.3,337.9 L142.3,338.0 L143.3,338.2 L144.3,338.3 L145.3,338.4 L146.3,338.6 L147.3,338.7 L148.3,338.8 L149.3,338.9 L150.3,339.0 L151.3,339.0 L152.3,339.1 L153.3,339.2 L154.3,339.2 L155.3,339.3 L156.3,339.3 L157.3,339.4 L158.3,339.4 L159.3,339.5 L160.3,339.5 L161.3,339.6 L162.3,339.6 L163.3,339.7 L164.3,339.7 L165.3,339.7 L166.3,339.8 L167.3,339.8 L168.3,339.9 L169.3,339.9 L170.3,339.9 L171.3,340.0 L172.3,340.0 L173.3,340.0 L174.3,340.1 L175.3,340.1 L176.3,340.1 L177.3,340.2 L178.3,340.2 L179.3,340.2 L180.3,340.3 L181.3,340.3 L182.3,340.3 L183.3,340.4 L184.3,340.4 L185.3,340.4 L186.3,340.5 L187.3,340.5 L188.3,340.6 L189.3,340.6 L190.3,340.6 L191.3,340.7 L192.3,340.7 L193.3,340.8 L194.3,340.8 L195.3,340.8 L196.3,340.9 L197.3,340.9 L198.3,341.0 L199.3,341.0 L200.3,341.1 L201.3,341.1 L202.3,341.1 L203.3,341.2 L204.3,341.2 L205.3,341.3 L206.3,341.3 L207.3,341.4 L208.3,341.4 L209.3,341.5 L210.3,341.5 L211.3,341.6 L212.3,341.6 L213.3,341.7 L214.3,341.7 L215.3,341.8 L216.3,341.8 L217.3,341.9 L218.3,341.9 L219.3,342.0 L220.3,342.0 L221.3,342.1 L222.3,342.1 L223.3,342.2 L224.3,342.2 L225.3,342.3 L226.3,342.3 L227.3,342.4 L228.3,342.4 L229.3,342.5 L230.3,342.5 L231.3,342.6 L232.3,342.6 L233.3,342.7 L234.3,342.7 L235.3,342.8 L236.3,342.8 L237.3,342.9 L238.3,342.9 L239.3,343.0 L240.3,343.0 L241.3,343.1 L242.3,343.1 L243.3,343.1 L244.3,343.2 L245.3,343.2 L246.3,343.3 L247.3,343.3 L248.3,343.4 L249.3,343.4 L250.3,343.4 L251.3,343.5 L252.3,343.5 L253.3,343.5 L254.3,343.6 L255.3,343.6 L256.3,343.7 L257.3,343.7 L258.3,343.7 L259.3,343.8 L260.3,343.8 L261.3,343.8 L262.3,343.9 L263.3,343.9 L264.3,343.9 L265.3,343.9 L266.3,344.0 L267.3,344.0 L268.3,344.0 L269.3,344.1 L270.3,344.1 L271.3,344.1 L272.3,344.1 L273.3,344.2 L274.3,344.2 L275.3,344.2 L276.3,344.2 L277.3,344.3 L278.3,344.3 L279.3,344.3 L280.3,344.4 L281.3,344.4 L282.3,344.4 L283.3,344.4 L284.3,344.5 L285.3,344.5 L286.3,344.5 L287.3,344.5 L288.3,344.6 L289.3,344.6 L290.3,344.6 L291.3,344.6 L292.3,344.7 L293.3,344.7 L294.3,344.7 L295.3,344.7 L296.3,344.8 L297.3,344.8 L298.3,344.8 L299.3,344.8 L300.3,344.9 L301.3,344.9 L302.3,344.9 L303.3,344.9 L304.3,345.0 L305.3,345.0 L306.3,345.0 L307.3,345.1 L308.3,345.1 L309.3,345.1 L310.3,345.1 L311.3,345.2 L312.3,345.2 L313.3,345.2 L314.3,345.3 L315.3,345.3 L316.3,345.3 L317.3,345.4 L318.3,345.4 L319.3,345.4 L320.3,345.5 L321.3,345.5 L322.3,345.5 L323.3,345.6 L324.3,345.6 L325.3,345.6 L326.3,345.7 L327.3,345.7 L328.3,345.7 L329.3,345.8 L330.3,345.8 L331.3,345.9 L332.3,345.9 L333.3,345.9 L334.3,346.0 L335.3,346.0 L336.3,346.0 L337.3,346.1 L338.3,346.1 L339.3,346.2 L340.3,346.2 L341.3,346.2 L342.3,346.3 L343.3,346.3 L344.3,346.4 L345.3,346.4 L346.3,346.4 L347.3,346.5 L348.3,346.5 L349.3,346.6 L350.3,346.6 L351.3,346.7 L352.3,346.7 L353.3,346.7 L354.3,346.8 L355.3,346.8 L356.3,346.9 L357.3,346.9 L358.3,347.0 L359.3,347.0 L360.3,347.1 L361.3,347.1 L362.3,347.2 L363.3,347.2 L364.3,347.2 L365.3,347.3 L366.3,347.3 L367.3,347.4 L368.3,347.4 L369.3,347.5 L370.3,347.5 L371.3,347.6 L372.3,347.6 L373.3,347.7 L374.3,347.7 L375.3,347.8 L376.3,347.8 L377.3,347.9 L378.3,347.9 L379.3,348.0 L380.3,348.0 L381.3,348.1 L382.3,348.1 L383.3,348.2 L384.3,348.2 L385.3,348.3 L386.3,348.3 L387.3,348.4 L388.3,348.5 L389.3,348.5 L390.3,348.6 L391.3,348.6 L392.3,348.7 L393.3,348.7 L394.3,348.8 L395.3,348.8 L396.3,348.9 L397.3,348.9 L398.3,349.0 L399.3,349.1 L400.3,349.1 L401.3,349.2 L402.3,349.2 L403.3,349.3 L404.3,349.3 L405.3,349.4 L406.3,349.5 L407.3,349.5 L408.3,349.6 L409.3,349.6 L410.3,349.7 L411.3,349.7 L412.3,349.8 L413.3,349.9 L414.3,349.9 L415.3,350.0 L416.3,350.0 L417.3,350.1 L418.3,350.2 L419.3,350.2 L420.3,350.3 L421.3,350.3 L422.3,350.4 L423.3,350.5 L424.3,350.5 L425.3,350.6 L426.3,350.7 L427.3,350.7 L428.3,350.8 L429.3,350.8 L430.3,350.9 L431.3,351.0 L432.3,351.0 L433.3,351.1 L434.3,351.2 L435.3,351.2 L436.3,351.3 L437.3,351.3 L438.3,351.4 L439.3,351.5 L440.3,351.5 L441.3,351.6 L442.3,351.7 L443.3,351.7 L444.3,351.8 L445.3,351.9 L446.3,351.9 L447.3,352.0 L448.3,352.1 L449.3,352.1 L450.3,352.2 L451.3,352.3 L452.3,352.3 L453.3,352.4 L454.3,352.5 L455.3,352.5 L456.3,352.6 L457.3,352.7 L458.3,352.7 L459.3,352.8 L460.3,352.9 L461.3,352.9 L462.3,353.0 L463.3,353.1 L464.3,353.2 L465.3,353.2 L466.3,353.3 L467.3,353.4 L468.3,353.4 L469.3,353.5 L470.3,353.6 L471.3,353.6 L472.3,353.7 L473.3,353.8 L474.3,353.9 L475.3,353.9 L476.3,354.0 L477.3,354.1 L478.3,354.1 L479.3,354.2 L480.3,354.3 L481.3,354.4 L482.3,354.4 L483.3,354.5 L484.3,354.6 L485.3,354.6 L486.3,354.7 L487.3,354.8 L488.3,354.9 L489.3,354.9 L490.3,355.0 L491.3,355.1 L492.3,355.1 L493.3,355.2 L494.3,355.3 L495.3,355.4 L496.3,355.4 L497.3,355.5 L498.3,355.6 L499.3,355.7 L500.3,355.7 L501.3,355.8 L502.3,355.9 L503.3,356.0 L504.3,356.0 L505.3,356.1 L506.3,356.2 L507.3,356.3 L508.3,356.3 L509.3,356.4 L510.3,356.5 L511.3,356.6 L512.3,356.6 L513.3,356.7 L514.3,356.8 L515.3,356.9 L516.3,356.9 L517.3,357.0 L518.3,357.1 L519.3,357.2 L520.3,357.2 L521.3,357.3 L522.3,357.4 L523.3,357.5 L524.3,357.6 L525.3,357.6 L526.3,357.7 L527.3,357.8 L528.3,357.9 L529.3,357.9 L530.3,358.0 L531.3,358.1 L532.3,358.2 L533.3,358.2 L534.3,358.3 L534.5,358.3" stroke="#0072BD"/>
<path d="M57.7,98.6 L57.8,102.3 L57.9,105.9 L58.0,109.6 L58.1,113.3 L58.2,116.9 L58.3,120.6 L58.4,124.3 L58.5,128.0 L58.6,131.6 L58.7,135.3 L58.7,139.0 L58.8,142.6 L58.9,146.3 L59.0,150.0 L59.1,153.6 L59.2,157.3 L59.2,161.0 L59.3,164.7 L59.4,168.3 L59.5,172.0 L59.6,175.7 L59.7,179.3 L59.8,183.0 L59.8,186.7 L59.9,190.3 L60.0,194.0 L60.1,197.7 L60.2,201.3 L60.3,205.0 L60.4,208.7 L60.5,212.4 L60.6,216.0 L60.7,219.7 L60.8,223.4 L60.9,227.0 L61.0,230.7 L61.1,234.4 L61.2,238.0 L61.3,241.7 L61.4,245.4 L61.6,249.0 L61.7,252.7 L61.9,256.4 L62.1,260.1 L62.3,263.7 L62.6,267.4 L62.9,271.1 L63.4,274.7 L64.0,278.4 L64.5,282.1 L65.0,285.7 L65.5,289.4 L66.3,293.1 L67.3,296.8 L68.4,300.4 L69.7,304.1 L71.1,307.8 L72.8,311.4 L74.8,315.1 L75.3,316.1 L76.3,317.8 L77.3,319.4 L78.3,320.9 L79.3,322.2 L80.3,323.4 L81.3,324.4 L82.3,325.3 L83.3,326.1 L84.3,326.8 L85.3,327.4 L86.3,328.0 L87.3,328.5 L88.3,329.0 L89.3,329.4 L90.3,329.8 L91.3,330.1 L92.3,330.5 L93.3,330.8 L94.3,331.0 L95.3,331.3 L96.3,331.5 L97.3,331.7 L98.3,331.9 L99.3,332.1 L100.3,332.3 L101.3,332.4 L102.3,332.6 L103.3,332.7 L104.3,332.9 L105.3,333.0 L106.3,333.1 L107.3,333.2 L108.3,333.4 L109.3,333.5 L110.3,333.6 L111.3,333.7 L112.3,333.8 L113.3,333.9 L114.3,334.0 L115.3,334.1 L116.3,334.2 L117.3,334.3 L118.3,334.4 L119.3,334.6 L120.3,334.7 L121.3,334.8 L122.3,334.9 L123.3,335.0 L124.3,335.1 L125.3,335.3 L126.3,335.4 L127.3,335.5 L128.3,335.7 L129.3,335.8 L130.3,336.0 L131.3,336.1 L132.3,336.3 L133.3,336.5 L134.3,336.6 L135.3,336.8 L136.3,337.0 L137.3,337.2 L138.3,337.3 L139.3,337.5 L140.3,337.7 L141.3,337.8 L142.3,338.0 L143.3,338.1 L144.3,338.3 L145.3,338.4 L146.3,338.5 L147.3,338.6 L148.3,338.7 L149.3,338.8 L150.3,338.9 L151.3,338.9 L152.3,339.0 L153.3,339.0 L154.3,339.1 L155.3,339.1 L156.3,339.1 L157.3,339.2 L158.3,339.2 L159.3,339.2 L160.3,339.2 L161.3,339.3 L162.3,339.3 L163.3,339.3 L164.3,339.3 L165.3,339.4 L166.3,339.4 L167.3,339.5 L168.3,339.5 L169.3,339.5 L170.3,339.6 L171.3,339.6 L172.3,339.7 L173.3,339.7 L174.3,339.8 L175.3,339.8 L176.3,339.9 L177.3,339.9 L178.3,340.0 L179.3,340.1 L180.3,340.1 L181.3,340.2 L182.3,340.2 L183.3,340.3 L184.3,340.3 L185.3,340.4 L186.3,340.4 L187.3,340.5 L188.3,340.6 L189.3,340.6 L190.3,340.7 L191.3,340.7 L192.3,340.8 L193.3,340.8 L194.3,340.9 L195.3,340.9 L196.3,341.0 L197.3,341.1 L198.3,341.1 L199.3,341.2 L200.3,341.2 L201.3,341.3 L202.3,341.3 L203.3,341.4 L204.3,341.4 L205.3,341.5 L206.3,341.5 L207.3,341.6 L208.3,341.6 L209.3,341.7 L210.3,341.7 L211.3,341.8 L212.3,341.8 L213.3,341.8 L214.3,341.9 L215.3,341.9 L216.3,342.0 L217.3,342.0 L218.3,342.1 L219.3,342.1 L220.3,342.2 L221.3,342.2 L222.3,342.3 L223.3,342.3 L224.3,342.3 L225.3,342.4 L226.3,342.4 L227.3,342.5 L228.3,342.5 L229.3,342.6 L230.3,342.6 L231.3,342.7 L232.3,342.7 L233.3,342.7 L234.3,342.8 L235.3,342.8 L236.3,342.9 L237.3,342.9 L238.3,342.9 L239.3,343.0 L240.3,343.0 L241.3,343.1 L242.3,343.1 L243.3,343.2 L244.3,343.2 L245.3,343.2 L246.3,343.3 L247.3,343.3 L248.3,343.4 L249.3,343.4 L250.3,343.4 L251.3,343.5 L252.3,343.5 L253.3,343.6 L254.3,343.6 L255.3,343.6 L256.3,343.7 L257.3,343.7 L258.3,343.8 L259.3,343.8 L260.3,343.8 L261.3,343.9 L262.3,343.9 L263.3,344.0 L264.3,344.0 L265.3,344.0 L266.3,344.1 L267.3,344.1 L268.3,344.2 L269.3,344.2 L270.3,344.2 L271.3,344.3 L272.3,344.3 L273.3,344.4 L274.3,344.4 L275.3,344.5 L276.3,344.5 L277.3,344.5 L278.3,344.6 L279.3,344.6 L280.3,344.7 L281.3,344.7 L282.3,344.8 L283.3,344.8 L284.3,344.8 L285.3,344.9 L286.3,344.9 L287.3,345.0 L288.3,345.0 L289.3,345.1 L290.3,345.1 L291.3,345.1 L292.3,345.2 L293.3,345.2 L294.3,345.3 L295.3,345.3 L296.3,345.4 L297.3,345.4 L298.3,345.5 L299.3,345.5 L300.3,345.6 L301.3,345.6 L302.3,345.6 L303.3,345.7 L304.3,345.7 L305.3,345.8 L306.3,345.8 L307.3,345.9 L308.3,345.9 L309.3,346.0 L310.3,346.0 L311.3,346.1 L312.3,346.1 L313.3,346.2 L314.3,346.2 L315.3,346.3 L316.3,346.3 L317.3,346.4 L318.3,346.5 L319.3,346.5 L320.3,346.6 L321.3,346.6 L322.3,346.7 L323.3,346.7 L324.3,346.8 L325.3,346.8 L326.3,346.9 L327.3,346.9 L328.3,347.0 L329.3,347.1 L330.3,347.1 L331.3,347.2 L332.3,347.2 L333.3,347.3 L334.3,347.3 L335.3,347.4 L336.3,347.5 L337.3,347.5 L338.3,347.6 L339.3,347.6 L340.3,347.7 L341.3,347.8 L342.3,347.8 L343.3,347.9 L344.3,347.9 L345.3,348.0 L346.3,348.1 L347.3,348.1 L348.3,348.2 L349.3,348.2 L350.3,348.3 L351.3,348.4 L352.3,348.4 L353.3,348.5 L354.3,348.6 L355.3,348.6 L356.3,348.7 L357.3,348.7 L358.3,348.8 L359.3,348.9 L360.3,348.9 L361.3,349.0 L362.3,349.1 L363.3,349.1 L364.3,349.2 L365.3,349.3 L366.3,349.3 L367.3,349.4 L368.3,349.5 L369.3,349.5 L370.3,349.6 L371.3,349.7 L372.3,349.7 L373.3,349.8 L374.3,349.9 L375.3,350.0 L376.3,350.0 L377.3,350.1 L378.3,350.2 L379.3,350.2 L380.3,350.3 L381.3,350.4 L382.3,350.4 L383.3,350.5 L384.3,350.6 L385.3,350.7 L386.3,350.7 L387.3,350.8 L388.3,350.9 L389.3,350.9 L390.3,351.0 L391.3,351.1 L392.3,351.2 L393.3,351.2 L394.3,351.3 L395.3,351.4 L396.3,351.5 L397.3,351.5 L398.3,351.6 L399.3,351.7 L400.3,351.8 L401.3,351.8 L402.3,351.9 L403.3,352.0 L404.3,352.1 L405.3,352.1 L406.3,352.2 L407.3,352.3 L408.3,352.4 L409.3,352.4 L410.3,352.5 L411.3,352.6 L412.3,352.7 L413.3,352.7 L414.3,352.8 L415.3,352.9 L416.3,353.0 L417.3,353.1 L418.3,353.1 L419.3,353.2 L420.3,353.3 L421.3,353.4 L422.3,353.5 L423.3,353.5 L424.3,353.6 L425.3,353.7 L426.3,353.8 L427.3,353.9 L428.3,353.9 L429.3,354.0 L430.3,354.1 L431.3,354.2 L432.3,354.3 L433.3,354.3 L434.3,354.4 L435.3,354.5 L436.3,354.6 L437.3,354.7 L438.3,354.8 L439.3,354.8 L440.3,354.9 L441.3,355.0 L442.3,355.1 L443.3,355.2 L444.3,355.3 L445.3,355.3 L446.3,355.4 L447.3,355.5 L448.3,355.6 L449.3,355.7 L450.3,355.8 L451.3,355.8 L452.3,355.9 L453.3,356.0 L454.3,356.1 L455.3,356.2 L456.3,356.3 L457.3,356.4 L458.3,356.4 L459.3,356.5 L460.3,356.6 L461.3,356.7 L462.3,356.8 L463.3,356.9 L464.3,357.0 L465.3,357.1 L466.3,357.1 L467.3,357.2 L468.3,357.3 L469.3,357.4 L470.3,357.5 L471.3,357.6 L472.3,357.7 L473.3,357.8 L474.3,357.8 L475.3,357.9 L476.3,358.0 L477.3,358.1 L478.3,358.2 L479.3,358.3 L480.3,358.4 L481.3,358.5 L482.3,358.6 L483.3,358.6 L484.3,358.7 L485.3,358.8 L486.3,358.9 L487.3,359.0 L488.3,359.1 L489.3,359.2 L490.3,359.3 L491.3,359.4 L492.3,359.5 L493.3,359.6 L494.3,359.6 L495.3,359.7 L496.3,359.8 L497.3,359.9 L498.3,360.0 L499.3,360.1 L500.3,360.2 L501.3,360.3 L502.3,360.4 L503.3,360.5 L504.3,360.6 L505.3,360.7 L506.3,360.7 L507.3,360.8 L508.3,360.9 L509.3,361.0 L510.3,361.1 L511.3,361.2 L512.3,361.3 L513.3,361.4 L514.3,361.5 L515.3,361.6 L516.3,361.7 L517.3,361.8 L518.3,361.9 L519.3,362.0 L520.3,362.0 L521.3,362.1 L522.3,362.2 L523.3,362.3 L524.3,362.4 L525.3,362.5 L526.3,362.6 L527.3,362.7 L528.3,362.8 L529.3,362.9 L530.3,363.0 L531.3,363.1 L532.3,363.2 L533.3,363.3 L534.3,363.4 L534.5,363.4" stroke="#D95319"/>
<path d="M57.7,98.6 L57.8,102.3 L57.9,105.9 L58.0,109.6 L58.1,113.3 L58.2,116.9 L58.3,120.6 L58.4,124.3 L58.5,128.0 L58.6,131.6 L58.7,135.3 L58.7,139.0 L58.8,142.6 L58.9,146.3 L59.0,150.0 L59.1,153.6 L59.2,157.3 L59.2,161.0 L59.3,164.7 L59.4,168.3 L59.5,172.0 L59.6,175.7 L59.7,179.3 L59.8,183.0 L59.8,186.7 L59.9,190.3 L60.0,194.0 L60.1,197.7 L60.2,201.3 L60.3,205.0 L60.4,208.7 L60.5,212.4 L60.6,216.0 L60.7,219.7 L60.8,223.4 L60.9,227.0 L61.0,230.7 L61.1,234.4 L61.2,238.0 L61.3,241.7 L61.4,245.4 L61.6,249.0 L61.7,252.7 L61.9,256.4 L62.1,260.1 L62.3,263.7 L62.6,267.4 L62.9,271.1 L63.4,274.7 L64.0,278.4 L64.5,282.1 L65.0,285.7 L65.5,289.4 L66.3,293.1 L67.3,296.8 L68.4,300.4 L69.7,304.1 L71.1,307.8 L72.8,311.4 L74.8,315.1 L75.3,316.1 L76.3,317.8 L77.3,319.4 L78.3,320.9 L79.3,322.1 L80.3,323.3 L81.3,324.3 L82.3,325.2 L83.3,326.0 L84.3,326.7 L85.3,327.3 L86.3,327.9 L87.3,328.4 L88.3,328.8 L89.3,329.3 L90.3,329.6 L91.3,330.0 L92.3,330.3 L93.3,330.6 L94.3,330.9 L95.3,331.1 L96.3,331.3 L97.3,331.5 L98.3,331.7 L99.3,331.9 L100.3,332.0 L101.3,332.2 L102.3,332.3 L103.3,332.5 L104.3,332.6 L105.3,332.7 L106.3,332.9 L107.3,333.0 L108.3,333.1 L109.3,333.3 L110.3,333.4 L111.3,333.5 L112.3,333.6 L113.3,333.7 L114.3,333.8 L115.3,333.9 L116.3,334.1 L117.3,334.2 L118.3,334.3 L119.3,334.4 L120.3,334.5 L121.3,334.6 L122.3,334.8 L123.3,334.9 L124.3,335.0 L125.3,335.1 L126.3,335.3 L127.3,335.4 L128.3,335.5 L129.3,335.7 L130.3,335.8 L131.3,336.0 L132.3,336.2 L133.3,336.3 L134.3,336.5 L135.3,336.7 L136.3,336.8 L137.3,337.0 L138.3,337.2 L139.3,337.4 L140.3,337.5 L141.3,337.7 L142.3,337.8 L143.3,338.0 L144.3,338.1 L145.3,338.2 L146.3,338.4 L147.3,338.5 L148.3,338.6 L149.3,338.7 L150.3,338.7 L151.3,338.8 L152.3,338.9 L153.3,338.9 L154.3,338.9 L155.3,339.0 L156.3,339.0 L157.3,339.1 L158.3,339.1 L159.3,339.1 L160.3,339.1 L161.3,339.2 L162.3,339.2 L163.3,339.3 L164.3,339.3 L165.3,339.3 L166.3,339.4 L167.3,339.4 L168.3,339.5 L169.3,339.5 L170.3,339.5 L171.3,339.6 L172.3,339.6 L173.3,339.7 L174.3,339.7 L175.3,339.8 L176.3,339.9 L177.3,339.9 L178.3,340.0 L179.3,340.0 L180.3,340.1 L181.3,340.1 L182.3,340.2 L183.3,340.2 L184.3,340.3 L185.3,340.3 L186.3,340.4 L187.3,340.5 L188.3,340.5 L189.3,340.6 L190.3,340.6 L191.3,340.7 L192.3,340.7 L193.3,340.8 L194.3,340.9 L195.3,340.9 L196.3,341.0 L197.3,341.0 L198.3,341.1 L199.3,341.1 L200.3,341.2 L201.3,341.2 L202.3,341.3 L203.3,341.3 L204.3,341.4 L205.3,341.5 L206.3,341.5 L207.3,341.6 L208.3,341.6 L209.3,341.7 L210.3,341.7 L211.3,341.8 L212.3,341.8 L213.3,341.9 L214.3,341.9 L215.3,342.0 L216.3,342.0 L217.3,342.1 L218.3,342.1 L219.3,342.2 L220.3,342.2 L221.3,342.3 L222.3,342.4 L223.3,342.4 L224.3,342.5 L225.3,342.5 L226.3,342.6 L227.3,342.6 L228.3,342.7 L229.3,342.7 L230.3,342.8 L231.3,342.8 L232.3,342.9 L233.3,342.9 L234.3,343.0 L235.3,343.0 L236.3,343.1 L237.3,343.1 L238.3,343.2 L239.3,343.2 L240.3,343.3 L241.3,343.3 L242.3,343.4 L243.3,343.4 L244.3,343.5 L245.3,343.5 L246.3,343.6 L247.3,343.7 L248.3,343.7 L249.3,343.8 L250.3,343.8 L251.3,343.9 L252.3,343.9 L253.3,344.0 L254.3,344.0 L255.3,344.1 L256.3,344.1 L257.3,344.2 L258.3,344.2 L259.3,344.3 L260.3,344.3 L261.3,344.4 L262.3,344.5 L263.3,344.5 L264.3,344.6 L265.3,344.6 L266.3,344.7 L267.3,344.7 L268.3,344.8 L269.3,344.8 L270.3,344.9 L271.3,344.9 L272.3,345.0 L273.3,345.1 L274.3,345.1 L275.3,345.2 L276.3,345.2 L277.3,345.3 L278.3,345.3 L279.3,345.4 L280.3,345.5 L281.3,345.5 L282.3,345.6 L283.3,345.6 L284.3,345.7 L285.3,345.8 L286.3,345.8 L287.3,345.9 L288.3,345.9 L289.3,346.0 L290.3,346.1 L291.3,346.1 L292.3,346.2 L293.3,346.2 L294.3,346.3 L295.3,346.4 L296.3,346.4 L297.3,346.5 L298.3,346.5 L299.3,346.6 L300.3,346.7 L301.3,346.7 L302.3,346.8 L303.3,346.9 L304.3,346.9 L305.3,347.0 L306.3,347.1 L307.3,347.1 L308.3,347.2 L309.3,347.3 L310.3,347.3 L311.3,347.4 L312.3,347.5 L313.3,347.5 L314.3,347.6 L315.3,347.7 L316.3,347.7 L317.3,347.8 L318.3,347.9 L319.3,348.0 L320.3,348.0 L321.3,348.1 L322.3,348.2 L323.3,348.2 L324.3,348.3 L325.3,348.4 L326.3,348.5 L327.3,348.5 L328.3,348.6 L329.3,348.7 L330.3,348.8 L331.3,348.8 L332.3,348.9 L333.3,349.0 L334.3,349.1 L335.3,349.1 L336.3,349.2 L337.3,349.3 L338.3,349.4 L339.3,349.4 L340.3,349.5 L341.3,349.6 L342.3,349.7 L343.3,349.7 L344.3,349.8 L345.3,349.9 L346.3,350.0 L347.3,350.1 L348.3,350.1 L349.3,350.2 L350.3,350.3 L351.3,350.4 L352.3,350.5 L353.3,350.5 L354.3,350.6 L355.3,350.7 L356.3,350.8 L357.3,350.9 L358.3,351.0 L359.3,351.0 L360.3,351.1 L361.3,351.2 L362.3,351.3 L363.3,351.4 L364.3,351.5 L365.3,351.5 L366.3,351.6 L367.3,351.7 L368.3,351.8 L369.3,351.9 L370.3,352.0 L371.3,352.1 L372.3,352.1 L373.3,352.2 L374.3,352.3 L375.3,352.4 L376.3,352.5 L377.3,352.6 L378.3,352.7 L379.3,352.8 L380.3,352.8 L381.3,352.9 L382.3,353.0 L383.3,353.1 L384.3,353.2 L385.3,353.3 L386.3,353.4 L387.3,353.5 L388.3,353.6 L389.3,353.6 L390.3,353.7 L391.3,353.8 L392.3,353.9 L393.3,354.0 L394.3,354.1 L395.3,354.2 L396.3,354.3 L397.3,354.4 L398.3,354.5 L399.3,354.6 L400.3,354.7 L401.3,354.7 L402.3,354.8 L403.3,354.9 L404.3,355.0 L405.3,355.1 L406.3,355.2 L407.3,355.3 L408.3,355.4 L409.3,355.5 L410.3,355.6 L411.3,355.7 L412.3,355.8 L413.3,355.9 L414.3,356.0 L415.3,356.1 L416.3,356.2 L417.3,356.3 L418.3,356.4 L419.3,356.4 L420.3,356.5 L421.3,356.6 L422.3,356.7 L423.3,356.8 L424.3,356.9 L425.3,357.0 L426.3,357.1 L427.3,357.2 L428.3,357.3 L429.3,357.4 L430.3,357.5 L431.3,357.6 L432.3,357.7 L433.3,357.8 L434.3,357.9 L435.3,358.0 L436.3,358.1 L437.3,358.2 L438.3,358.3 L439.3,358.4 L440.3,358.5 L441.3,358.6 L442.3,358.7 L443.3,358.8 L444.3,358.9 L445.3,359.0 L446.3,359.1 L447.3,359.2 L448.3,359.3 L449.3,359.4 L450.3,359.5 L451.3,359.6 L452.3,359.7 L453.3,359.8 L454.3,359.9 L455.3,360.0 L456.3,360.1 L457.3,360.2 L458.3,360.3 L459.3,360.4 L460.3,360.5 L461.3,360.6 L462.3,360.7 L463.3,360.8 L464.3,360.9 L465.3,361.0 L466.3,361.1 L467.3,361.2 L468.3,361.3 L469.3,361.4 L470.3,361.5 L471.3,361.6 L472.3,361.7 L473.3,361.8 L474.3,361.9 L475.3,362.0 L476.3,362.2 L477.3,362.3 L478.3,362.4 L479.3,362.5 L480.3,362.6 L481.3,362.7 L482.3,362.8 L483.3,362.9 L484.3,363.0 L485.3,363.1 L486.3,363.2 L487.3,363.3 L488.3,363.4 L489.3,363.5 L490.3,363.6 L491.3,363.7 L492.3,363.8 L493.3,363.9 L494.3,364.0 L495.3,364.1 L496.3,364.2 L497.3,364.3 L498.3,364.4 L499.3,364.5 L500.3,364.6 L501.3,364.7 L502.3,364.8 L503.3,364.9 L504.3,365.1 L505.3,365.2 L506.3,365.3 L507.3,365.4 L508.3,365.5 L509.3,365.6 L510.3,365.7 L511.3,365.8 L512.3,365.9 L513.3,366.0 L514.3,366.1 L515.3,366.2 L516.3,366.3 L517.3,366.4 L518.3,366.5 L519.3,366.6 L520.3,366.7 L521.3,366.8 L522.3,366.9 L523.3,367.0 L524.3,367.1 L525.3,367.2 L526.3,367.3 L527.3,367.5 L528.3,367.6 L529.3,367.7 L530.3,367.8 L531.3,367.9 L532.3,368.0 L533.3,368.1 L534.3,368.2 L534.5,368.2" stroke="#EDB120"/>
<path d="M57.7,98.6 L57.8,102.3 L57.9,105.9 L58.0,109.6 L58.1,113.3 L58.2,116.9 L58.3,120.6 L58.4,124.3 L58.5,128.0 L58.6,131.6 L58.7,135.3 L58.7,139.0 L58.8,142.6 L58.9,146.3 L59.0,150.0 L59.1,153.6 L59.2,157.3 L59.2,161.0 L59.3,164.7 L59.4,168.3 L59.5,172.0 L59.6,175.7 L59.7,179.3 L59.8,183.0 L59.8,186.7 L59.9,190.3 L60.0,194.0 L60.1,197.7 L60.2,201.3 L60.3,205.0 L60.4,208.7 L60.5,212.4 L60.6,216.0 L60.7,219.7 L60.8,223.4 L60.9,227.0 L61.0,230.7 L61.1,234.4 L61.2,238.0 L61.3,241.7 L61.4,245.4 L61.6,249.0 L61.7,252.7 L61.9,256.4 L62.1,260.1 L62.3,263.7 L62.6,267.4 L62.9,271.1 L63.4,274.7 L64.0,278.4 L64.5,282.1 L65.0,285.7 L65.5,289.4 L66.3,293.1 L67.3,296.8 L68.4,300.4 L69.7,304.1 L71.1,307.8 L72.8,311.4 L74.8,315.1 L75.3,316.1 L76.3,317.8 L77.3,319.4 L78.3,320.8 L79.3,322.1 L80.3,323.2 L81.3,324.2 L82.3,325.1 L83.3,325.8 L84.3,326.5 L85.3,327.2 L86.3,327.7 L87.3,328.2 L88.3,328.7 L89.3,329.1 L90.3,329.5 L91.3,329.8 L92.3,330.1 L93.3,330.4 L94.3,330.7 L95.3,330.9 L96.3,331.1 L97.3,331.3 L98.3,331.5 L99.3,331.7 L100.3,331.8 L101.3,332.0 L102.3,332.1 L103.3,332.3 L104.3,332.4 L105.3,332.5 L106.3,332.7 L107.3,332.8 L108.3,332.9 L109.3,333.1 L110.3,333.2 L111.3,333.3 L112.3,333.4 L113.3,333.5 L114.3,333.7 L115.3,333.8 L116.3,333.9 L117.3,334.0 L118.3,334.1 L119.3,334.2 L120.3,334.4 L121.3,334.5 L122.3,334.6 L123.3,334.7 L124.3,334.8 L125.3,335.0 L126.3,335.1 L127.3,335.3 L128.3,335.4 L129.3,335.5 L130.3,335.7 L131.3,335.9 L132.3,336.0 L133.3,336.2 L134.3,336.4 L135.3,336.5 L136.3,336.7 L137.3,336.9 L138.3,337.0 L139.3,337.2 L140.3,337.4 L141.3,337.5 L142.3,337.7 L143.3,337.8 L144.3,338.0 L145.3,338.1 L146.3,338.2 L147.3,338.3 L148.3,338.4 L149.3,338.5 L150.3,338.6 L151.3,338.6 L152.3,338.7 L153.3,338.8 L154.3,338.8 L155.3,338.9 L156.3,338.9 L157.3,338.9 L158.3,339.0 L159.3,339.0 L160.3,339.0 L161.3,339.1 L162.3,339.1 L163.3,339.2 L164.3,339.2 L165.3,339.2 L166.3,339.3 L167.3,339.3 L168.3,339.4 L169.3,339.4 L170.3,339.5 L171.3,339.5 L172.3,339.6 L173.3,339.6 L174.3,339.7 L175.3,339.7 L176.3,339.8 L177.3,339.8 L178.3,339.9 L179.3,339.9 L180.3,340.0 L181.3,340.0 L182.3,340.1 L183.3,340.2 L184.3,340.2 L185.3,340.3 L186.3,340.3 L187.3,340.4 L188.3,340.4 L189.3,340.5 L190.3,340.6 L191.3,340.6 L192.3,340.7 L193.3,340.7 L194.3,340.8 L195.3,340.9 L196.3,340.9 L197.3,341.0 L198.3,341.0 L199.3,341.1 L200.3,341.1 L201.3,341.2 L202.3,341.3 L203.3,341.3 L204.3,341.4 L205.3,341.4 L206.3,341.5 L207.3,341.5 L208.3,341.6 L209.3,341.7 L210.3,341.7 L211.3,341.8 L212.3,341.8 L213.3,341.9 L214.3,341.9 L215.3,342.0 L216.3,342.1 L217.3,342.1 L218.3,342.2 L219.3,342.2 L220.3,342.3 L221.3,342.3 L222.3,342.4 L223.3,342.5 L224.3,342.5 L225.3,342.6 L226.3,342.6 L227.3,342.7 L228.3,342.8 L229.3,342.8 L230.3,342.9 L231.3,342.9 L232.3,343.0 L233.3,343.0 L234.3,343.1 L235.3,343.2 L236.3,343.2 L237.3,343.3 L238.3,343.3 L239.3,343.4 L240.3,343.5 L241.3,343.5 L242.3,343.6 L243.3,343.6 L244.3,343.7 L245.3,343.8 L246.3,343.8 L247.3,343.9 L248.3,344.0 L249.3,344.0 L250.3,344.1 L251.3,344.1 L252.3,344.2 L253.3,344.3 L254.3,344.3 L255.3,344.4 L256.3,344.5 L257.3,344.5 L258.3,344.6 L259.3,344.6 L260.3,344.7 L261.3,344.8 L262.3,344.8 L263.3,344.9 L264.3,345.0 L265.3,345.0 L266.3,345.1 L267.3,345.2 L268.3,345.2 L269.3,345.3 L270.3,345.4 L271.3,345.4 L272.3,345.5 L273.3,345.6 L274.3,345.6 L275.3,345.7 L276.3,345.8 L277.3,345.8 L278.3,345.9 L279.3,346.0 L280.3,346.0 L281.3,346.1 L282.3,346.2 L283.3,346.3 L284.3,346.3 L285.3,346.4 L286.3,346.5 L287.3,346.5 L288.3,346.6 L289.3,346.7 L290.3,346.8 L291.3,346.8 L292.3,346.9 L293.3,347.0 L294.3,347.1 L295.3,347.1 L296.3,347.2 L297.3,347.3 L298.3,347.4 L299.3,347.4 L300.3,347.5 L301.3,347.6 L302.3,347.7 L303.3,347.8 L304.3,347.8 L305.3,347.9 L306.3,348.0 L307.3,348.1 L308.3,348.1 L309.3,348.2 L310.3,348.3 L311.3,348.4 L312.3,348.5 L313.3,348.6 L314.3,348.6 L315.3,348.7 L316.3,348.8 L317.3,348.9 L318.3,349.0 L319.3,349.1 L320.3,349.1 L321.3,349.2 L322.3,349.3 L323.3,349.4 L324.3,349.5 L325.3,349.6 L326.3,349.7 L327.3,349.8 L328.3,349.8 L329.3,349.9 L330.3,350.0 L331.3,350.1 L332.3,350.2 L333.3,350.3 L334.3,350.4 L335.3,350.5 L336.3,350.6 L337.3,350.7 L338.3,350.8 L339.3,350.8 L340.3,350.9 L341.3,351.0 L342.3,351.1 L343.3,351.2 L344.3,351.3 L345.3,351.4 L346.3,351.5 L347.3,351.6 L348.3,351.7 L349.3,351.8 L350.3,351.9 L351.3,352.0 L352.3,352.1 L353.3,352.2 L354.3,352.3 L355.3,352.4 L356.3,352.5 L357.3,352.6 L358.3,352.7 L359.3,352.8 L360.3,352.9 L361.3,353.0 L362.3,353.1 L363.3,353.2 L364.3,353.3 L365.3,353.4 L366.3,353.5 L367.3,353.6 L368.3,353.7 L369.3,353.8 L370.3,353.9 L371.3,354.0 L372.3,354.1 L373.3,354.2 L374.3,354.3 L375.3,354.4 L376.3,354.5 L377.3,354.6 L378.3,354.7 L379.3,354.8 L380.3,354.9 L381.3,355.0 L382.3,355.1 L383.3,355.3 L384.3,355.4 L385.3,355.5 L386.3,355.6 L387.3,355.7 L388.3,355.8 L389.3,355.9 L390.3,356.0 L391.3,356.1 L392.3,356.2 L393.3,356.3 L394.3,356.4 L395.3,356.5 L396.3,356.7 L397.3,356.8 L398.3,356.9 L399.3,357.0 L400.3,357.1 L401.3,357.2 L402.3,357.3 L403.3,357.4 L404.3,357.5 L405.3,357.6 L406.3,357.8 L407.3,357.9 L408.3,358.0 L409.3,358.1 L410.3,358.2 L411.3,358.3 L412.3,358.4 L413.3,358.5 L414.3,358.7 L415.3,358.8 L416.3,358.9 L417.3,359.0 L418.3,359.1 L419.3,359.2 L420.3,359.3 L421.3,359.5 L422.3,359.6 L423.3,359.7 L424.3,359.8 L425.3,359.9 L426.3,360.0 L427.3,360.1 L428.3,360.3 L429.3,360.4 L430.3,360.5 L431.3,360.6 L432.3,360.7 L433.3,360.8 L434.3,361.0 L435.3,361.1 L436.3,361.2 L437.3,361.3 L438.3,361.4 L439.3,361.5 L440.3,361.7 L441.3,361.8 L442.3,361.9 L443.3,362.0 L444.3,362.1 L445.3,362.2 L446.3,362.4 L447.3,362.5 L448.3,362.6 L449.3,362.7 L450.3,362.8 L451.3,363.0 L452.3,363.1 L453.3,363.2 L454.3,363.3 L455.3,363.4 L456.3,363.6 L457.3,363.7 L458.3,363.8 L459.3,363.9 L460.3,364.0 L461.3,364.1 L462.3,364.3 L463.3,364.4 L464.3,364.5 L465.3,364.6 L466.3,364.7 L467.3,364.9 L468.3,365.0 L469.3,365.1 L470.3,365.2 L471.3,365.3 L472.3,365.5 L473.3,365.6 L474.3,365.7 L475.3,365.8 L476.3,365.9 L477.3,366.1 L478.3,366.2 L479.3,366.3 L480.3,366.4 L481.3,366.5 L482.3,366.7 L483.3,366.8 L484.3,366.9 L485.3,367.0 L486.3,367.2 L487.3,367.3 L488.3,367.4 L489.3,367.5 L490.3,367.6 L491.3,367.8 L492.3,367.9 L493.3,368.0 L494.3,368.1 L495.3,368.2 L496.3,368.4 L497.3,368.5 L498.3,368.6 L499.3,368.7 L500.3,368.8 L501.3,369.0 L502.3,369.1 L503.3,369.2 L504.3,369.3 L505.3,369.4 L506.3,369.6 L507.3,369.7 L508.3,369.8 L509.3,369.9 L510.3,370.1 L511.3,370.2 L512.3,370.3 L513.3,370.4 L514.3,370.5 L515.3,370.7 L516.3,370.8 L517.3,370.9 L518.3,371.0 L519.3,371.1 L520.3,371.3 L521.3,371.4 L522.3,371.5 L523.3,371.6 L524.3,371.7 L525.3,371.9 L526.3,372.0 L527.3,372.1 L528.3,372.2 L529.3,372.3 L530.3,372.5 L531.3,372.6 L532.3,372.7 L533.3,372.8 L534.3,372.9 L534.5,373.0" stroke="#7E2F8E"/>
<path d="M57.7,98.6 L57.8,102.3 L57.9,105.9 L58.0,109.6 L58.1,113.3 L58.2,116.9 L58.3,120.6 L58.4,124.3 L58.5,128.0 L58.6,131.6 L58.7,135.3 L58.7,139.0 L58.8,142.6 L58.9,146.3 L59.0,150.0 L59.1,153.6 L59.2,157.3 L59.2,161.0 L59.3,164.7 L59.4,168.3 L59.5,172.0 L59.6,175.7 L59.7,179.3 L59.8,183.0 L59.8,186.7 L59.9,190.3 L60.0,194.0 L60.1,197.7 L60.2,201.3 L60.3,205.0 L60.4,208.7 L60.5,212.4 L60.6,216.0 L60.7,219.7 L60.8,223.4 L60.9,227.0 L61.0,230.7 L61.1,234.4 L61.2,238.0 L61.3,241.7 L61.4,245.4 L61.6,249.0 L61.7,252.7 L61.9,256.4 L62.1,260.1 L62.3,263.7 L62.6,267.4 L62.9,271.1 L63.4,274.7 L64.0,278.4 L64.5,282.1 L65.0,285.7 L65.5,289.4 L66.3,293.1 L67.3,296.8 L68.4,300.4 L69.7,304.1 L71.1,307.8 L72.8,311.4 L74.8,315.1 L75.3,316.0 L76.3,317.7 L77.3,319.3 L78.3,320.7 L79.3,322.0 L80.3,323.2 L81.3,324.2 L82.3,325.1 L83.3,325.8 L84.3,326.5 L85.3,327.0 L86.3,327.6 L87.3,328.0 L88.3,328.5 L89.3,328.9 L90.3,329.2 L91.3,329.6 L92.3,329.9 L93.3,330.2 L94.3,330.5 L95.3,330.7 L96.3,331.0 L97.3,331.2 L98.3,331.4 L99.3,331.5 L100.3,331.7 L101.3,331.9 L102.3,332.0 L103.3,332.2 L104.3,332.3 L105.3,332.4 L106.3,332.6 L107.3,332.7 L108.3,332.8 L109.3,332.9 L110.3,333.0 L111.3,333.1 L112.3,333.3 L113.3,333.4 L114.3,333.5 L115.3,333.6 L116.3,333.7 L117.3,333.8 L118.3,334.0 L119.3,334.1 L120.3,334.2 L121.3,334.4 L122.3,334.5 L123.3,334.7 L124.3,334.9 L125.3,335.0 L126.3,335.2 L127.3,335.3 L128.3,335.5 L129.3,335.6 L130.3,335.8 L131.3,335.9 L132.3,336.1 L133.3,336.2 L134.3,336.3 L135.3,336.5 L136.3,336.6 L137.3,336.7 L138.3,336.9 L139.3,337.0 L140.3,337.1 L141.3,337.2 L142.3,337.3 L143.3,337.4 L144.3,337.5 L145.3,337.6 L146.3,337.7 L147.3,337.8 L148.3,337.9 L149.3,338.0 L150.3,338.1 L151.3,338.2 L152.3,338.3 L153.3,338.4 L154.3,338.5 L155.3,338.6 L156.3,338.6 L157.3,338.7 L158.3,338.8 L159.3,338.9 L160.3,338.9 L161.3,339.0 L162.3,339.1 L163.3,339.1 L164.3,339.2 L165.3,339.3 L166.3,339.3 L167.3,339.4 L168.3,339.5 L169.3,339.5 L170.3,339.6 L171.3,339.6 L172.3,339.7 L173.3,339.8 L174.3,339.8 L175.3,339.9 L176.3,339.9 L177.3,340.0 L178.3,340.0 L179.3,340.1 L180.3,340.1 L181.3,340.2 L182.3,340.3 L183.3,340.3 L184.3,340.4 L185.3,340.4 L186.3,340.5 L187.3,340.5 L188.3,340.6 L189.3,340.6 L190.3,340.7 L191.3,340.7 L192.3,340.8 L193.3,340.8 L194.3,340.9 L195.3,340.9 L196.3,341.0 L197.3,341.1 L198.3,341.1 L199.3,341.2 L200.3,341.2 L201.3,341.3 L202.3,341.3 L203.3,341.4 L204.3,341.5 L205.3,341.5 L206.3,341.6 L207.3,341.6 L208.3,341.7 L209.3,341.8 L210.3,341.8 L211.3,341.9 L212.3,341.9 L213.3,342.0 L214.3,342.1 L215.3,342.1 L216.3,342.2 L217.3,342.2 L218.3,342.3 L219.3,342.4 L220.3,342.4 L221.3,342.5 L222.3,342.6 L223.3,342.6 L224.3,342.7 L225.3,342.8 L226.3,342.8 L227.3,342.9 L228.3,343.0 L229.3,343.0 L230.3,343.1 L231.3,343.2 L232.3,343.2 L233.3,343.3 L234.3,343.4 L235.3,343.4 L236.3,343.5 L237.3,343.6 L238.3,343.6 L239.3,343.7 L240.3,343.8 L241.3,343.8 L242.3,343.9 L243.3,344.0 L244.3,344.1 L245.3,344.1 L246.3,344.2 L247.3,344.3 L248.3,344.4 L249.3,344.4 L250.3,344.5 L251.3,344.6 L252.3,344.6 L253.3,344.7 L254.3,344.8 L255.3,344.9 L256.3,345.0 L257.3,345.0 L258.3,345.1 L259.3,345.2 L260.3,345.3 L261.3,345.3 L262.3,345.4 L263.3,345.5 L264.3,345.6 L265.3,345.7 L266.3,345.7 L267.3,345.8 L268.3,345.9 L269.3,346.0 L270.3,346.1 L271.3,346.1 L272.3,346.2 L273.3,346.3 L274.3,346.4 L275.3,346.5 L276.3,346.6 L277.3,346.6 L278.3,346.7 L279.3,346.8 L280.3,346.9 L281.3,347.0 L282.3,347.1 L283.3,347.2 L284.3,347.2 L285.3,347.3 L286.3,347.4 L287.3,347.5 L288.3,347.6 L289.3,347.7 L290.3,347.8 L291.3,347.9 L292.3,348.0 L293.3,348.0 L294.3,348.1 L295.3,348.2 L296.3,348.3 L297.3,348.4 L298.3,348.5 L299.3,348.6 L300.3,348.7 L301.3,348.8 L302.3,348.9 L303.3,349.0 L304.3,349.1 L305.3,349.2 L306.3,349.3 L307.3,349.4 L308.3,349.4 L309.3,349.5 L310.3,349.6 L311.3,349.7 L312.3,349.8 L313.3,349.9 L314.3,350.0 L315.3,350.1 L316.3,350.2 L317.3,350.3 L318.3,350.4 L319.3,350.5 L320.3,350.6 L321.3,350.7 L322.3,350.8 L323.3,350.9 L324.3,351.0 L325.3,351.2 L326.3,351.3 L327.3,351.4 L328.3,351.5 L329.3,351.6 L330.3,351.7 L331.3,351.8 L332.3,351.9 L333.3,352.0 L334.3,352.1 L335.3,352.2 L336.3,352.3 L337.3,352.4 L338.3,352.5 L339.3,352.6 L340.3,352.7 L341.3,352.9 L342.3,353.0 L343.3,353.1 L344.3,353.2 L345.3,353.3 L346.3,353.4 L347.3,353.5 L348.3,353.6 L349.3,353.7 L350.3,353.8 L351.3,354.0 L352.3,354.1 L353.3,354.2 L354.3,354.3 L355.3,354.4 L356.3,354.5 L357.3,354.6 L358.3,354.7 L359.3,354.9 L360.3,355.0 L361.3,355.1 L362.3,355.2 L363.3,355.3 L364.3,355.4 L365.3,355.6 L366.3,355.7 L367.3,355.8 L368.3,355.9 L369.3,356.0 L370.3,356.1 L371.3,356.3 L372.3,356.4 L373.3,356.5 L374.3,356.6 L375.3,356.7 L376.3,356.8 L377.3,357.0 L378.3,357.1 L379.3,357.2 L380.3,357.3 L381.3,357.4 L382.3,357.6 L383.3,357.7 L384.3,357.8 L385.3,357.9 L386.3,358.1 L387.3,358.2 L388.3,358.3 L389.3,358.4 L390.3,358.5 L391.3,358.7 L392.3,358.8 L393.3,358.9 L394.3,359.0 L395.3,359.2 L396.3,359.3 L397.3,359.4 L398.3,359.5 L399.3,359.6 L400.3,359.8 L401.3,359.9 L402.3,360.0 L403.3,360.1 L404.3,360.3 L405.3,360.4 L406.3,360.5 L407.3,360.6 L408.3,360.8 L409.3,360.9 L410.3,361.0 L411.3,361.2 L412.3,361.3 L413.3,361.4 L414.3,361.5 L415.3,361.7 L416.3,361.8 L417.3,361.9 L418.3,362.0 L419.3,362.2 L420.3,362.3 L421.3,362.4 L422.3,362.6 L423.3,362.7 L424.3,362.8 L425.3,362.9 L426.3,363.1 L427.3,363.2 L428.3,363.3 L429.3,363.5 L430.3,363.6 L431.3,363.7 L432.3,363.8 L433.3,364.0 L434.3,364.1 L435.3,364.2 L436.3,364.4 L437.3,364.5 L438.3,364.6 L439.3,364.8 L440.3,364.9 L441.3,365.0 L442.3,365.2 L443.3,365.3 L444.3,365.4 L445.3,365.5 L446.3,365.7 L447.3,365.8 L448.3,365.9 L449.3,366.1 L450.3,366.2 L451.3,366.3 L452.3,366.5 L453.3,366.6 L454.3,366.7 L455.3,366.9 L456.3,367.0 L457.3,367.1 L458.3,367.3 L459.3,367.4 L460.3,367.5 L461.3,367.7 L462.3,367.8 L463.3,367.9 L464.3,368.1 L465.3,368.2 L466.3,368.3 L467.3,368.5 L468.3,368.6 L469.3,368.7 L470.3,368.9 L471.3,369.0 L472.3,369.1 L473.3,369.3 L474.3,369.4 L475.3,369.5 L476.3,369.7 L477.3,369.8 L478.3,369.9 L479.3,370.1 L480.3,370.2 L481.3,370.3 L482.3,370.5 L483.3,370.6 L484.3,370.7 L485.3,370.9 L486.3,371.0 L487.3,371.1 L488.3,371.3 L489.3,371.4 L490.3,371.5 L491.3,371.7 L492.3,371.8 L493.3,371.9 L494.3,372.1 L495.3,372.2 L496.3,372.3 L497.3,372.5 L498.3,372.6 L499.3,372.7 L500.3,372.9 L501.3,373.0 L502.3,373.1 L503.3,373.3 L504.3,373.4 L505.3,373.5 L506.3,373.7 L507.3,373.8 L508.3,373.9 L509.3,374.1 L510.3,374.2 L511.3,374.3 L512.3,374.5 L513.3,374.6 L514.3,374.7 L515.3,374.9 L516.3,375.0 L517.3,375.1 L518.3,375.3 L519.3,375.4 L520.3,375.5 L521.3,375.7 L522.3,375.8 L523.3,375.9 L524.3,376.1 L525.3,376.2 L526.3,376.3 L527.3,376.5 L528.3,376.6 L529.3,376.7 L530.3,376.8 L531.3,377.0 L532.3,377.1 L533.3,377.2 L534.3,377.4 L534.5,377.4" stroke="#77AC30"/>
<path d="M57.7,98.6 L57.8,102.3 L57.9,105.9 L58.0,109.6 L58.1,113.3 L58.2,116.9 L58.3,120.6 L58.4,124.3 L58.5,128.0 L58.6,131.6 L58.7,135.3 L58.7,139.0 L58.8,142.6 L58.9,146.3 L59.0,150.0 L59.1,153.6 L59.2,157.3 L59.2,161.0 L59.3,164.7 L59.4,168.3 L59.5,172.0 L59.6,175.7 L59.7,179.3 L59.8,183.0 L59.8,186.7 L59.9,190.3 L60.0,194.0 L60.1,197.7 L60.2,201.3 L60.3,205.0 L60.4,208.7 L60.5,212.4 L60.6,216.0 L60.7,219.7 L60.8,223.4 L60.9,227.0 L61.0,230.7 L61.1,234.4 L61.2,238.0 L61.3,241.7 L61.4,245.4 L61.6,249.0 L61.7,252.7 L61.9,256.4 L62.1,260.1 L62.3,263.7 L62.6,267.4 L62.9,271.1 L63.4,274.7 L64.0,278.4 L64.5,282.1 L65.0,285.7 L65.5,289.4 L66.3,293.1 L67.3,296.8 L68.4,300.4 L69.7,304.1 L71.1,307.8 L72.8,311.4 L74.8,315.1 L75.3,316.0 L76.3,317.7 L77.3,319.3 L78.3,320.7 L79.3,322.0 L80.3,323.1 L81.3,324.1 L82.3,325.0 L83.3,325.7 L84.3,326.3 L85.3,326.9 L86.3,327.4 L87.3,327.9 L88.3,328.3 L89.3,328.7 L90.3,329.1 L91.3,329.4 L92.3,329.7 L93.3,330.0 L94.3,330.3 L95.3,330.6 L96.3,330.8 L97.3,331.0 L98.3,331.2 L99.3,331.4 L100.3,331.6 L101.3,331.7 L102.3,331.9 L103.3,332.0 L104.3,332.2 L105.3,332.3 L106.3,332.4 L107.3,332.5 L108.3,332.7 L109.3,332.8 L110.3,332.9 L111.3,333.0 L112.3,333.1 L113.3,333.2 L114.3,333.3 L115.3,333.5 L116.3,333.6 L117.3,333.7 L118.3,333.8 L119.3,334.0 L120.3,334.1 L121.3,334.3 L122.3,334.4 L123.3,334.6 L124.3,334.8 L125.3,334.9 L126.3,335.1 L127.3,335.2 L128.3,335.4 L129.3,335.6 L130.3,335.7 L131.3,335.9 L132.3,336.0 L133.3,336.2 L134.3,336.3 L135.3,336.4 L136.3,336.6 L137.3,336.7 L138.3,336.8 L139.3,336.9 L140.3,337.1 L141.3,337.2 L142.3,337.3 L143.3,337.4 L144.3,337.5 L145.3,337.6 L146.3,337.7 L147.3,337.8 L148.3,337.9 L149.3,338.0 L150.3,338.1 L151.3,338.2 L152.3,338.3 L153.3,338.4 L154.3,338.5 L155.3,338.6 L156.3,338.6 L157.3,338.7 L158.3,338.8 L159.3,338.9 L160.3,339.0 L161.3,339.0 L162.3,339.1 L163.3,339.2 L164.3,339.2 L165.3,339.3 L166.3,339.4 L167.3,339.5 L168.3,339.5 L169.3,339.6 L170.3,339.6 L171.3,339.7 L172.3,339.8 L173.3,339.8 L174.3,339.9 L175.3,340.0 L176.3,340.0 L177.3,340.1 L178.3,340.1 L179.3,340.2 L180.3,340.3 L181.3,340.3 L182.3,340.4 L183.3,340.4 L184.3,340.5 L185.3,340.5 L186.3,340.6 L187.3,340.7 L188.3,340.7 L189.3,340.8 L190.3,340.8 L191.3,340.9 L192.3,341.0 L193.3,341.0 L194.3,341.1 L195.3,341.2 L196.3,341.2 L197.3,341.3 L198.3,341.3 L199.3,341.4 L200.3,341.5 L201.3,341.5 L202.3,341.6 L203.3,341.7 L204.3,341.7 L205.3,341.8 L206.3,341.9 L207.3,342.0 L208.3,342.0 L209.3,342.1 L210.3,342.2 L211.3,342.2 L212.3,342.3 L213.3,342.4 L214.3,342.5 L215.3,342.5 L216.3,342.6 L217.3,342.7 L218.3,342.8 L219.3,342.8 L220.3,342.9 L221.3,343.0 L222.3,343.1 L223.3,343.1 L224.3,343.2 L225.3,343.3 L226.3,343.4 L227.3,343.5 L228.3,343.5 L229.3,343.6 L230.3,343.7 L231.3,343.8 L232.3,343.9 L233.3,343.9 L234.3,344.0 L235.3,344.1 L236.3,344.2 L237.3,344.3 L238.3,344.4 L239.3,344.5 L240.3,344.5 L241.3,344.6 L242.3,344.7 L243.3,344.8 L244.3,344.9 L245.3,345.0 L246.3,345.1 L247.3,345.2 L248.3,345.2 L249.3,345.3 L250.3,345.4 L251.3,345.5 L252.3,345.6 L253.3,345.7 L254.3,345.8 L255.3,345.9 L256.3,346.0 L257.3,346.1 L258.3,346.2 L259.3,346.3 L260.3,346.4 L261.3,346.5 L262.3,346.5 L263.3,346.6 L264.3,346.7 L265.3,346.8 L266.3,346.9 L267.3,347.0 L268.3,347.1 L269.3,347.2 L270.3,347.3 L271.3,347.4 L272.3,347.5 L273.3,347.6 L274.3,347.7 L275.3,347.8 L276.3,347.9 L277.3,348.0 L278.3,348.1 L279.3,348.2 L280.3,348.3 L281.3,348.4 L282.3,348.5 L283.3,348.6 L284.3,348.8 L285.3,348.9 L286.3,349.0 L287.3,349.1 L288.3,349.2 L289.3,349.3 L290.3,349.4 L291.3,349.5 L292.3,349.6 L293.3,349.7 L294.3,349.8 L295.3,349.9 L296.3,350.0 L297.3,350.1 L298.3,350.2 L299.3,350.4 L300.3,350.5 L301.3,350.6 L302.3,350.7 L303.3,350.8 L304.3,350.9 L305.3,351.0 L306.3,351.1 L307.3,351.2 L308.3,351.4 L309.3,351.5 L310.3,351.6 L311.3,351.7 L312.3,351.8 L313.3,351.9 L314.3,352.0 L315.3,352.2 L316.3,352.3 L317.3,352.4 L318.3,352.5 L319.3,352.6 L320.3,352.7 L321.3,352.9 L322.3,353.0 L323.3,353.1 L324.3,353.2 L325.3,353.3 L326.3,353.4 L327.3,353.6 L328.3,353.7 L329.3,353.8 L330.3,353.9 L331.3,354.0 L332.3,354.2 L333.3,354.3 L334.3,354.4 L335.3,354.5 L336.3,354.6 L337.3,354.8 L338.3,354.9 L339.3,355.0 L340.3,355.1 L341.3,355.2 L342.3,355.4 L343.3,355.5 L344.3,355.6 L345.3,355.7 L346.3,355.9 L347.3,356.0 L348.3,356.1 L349.3,356.2 L350.3,356.4 L351.3,356.5 L352.3,356.6 L353.3,356.7 L354.3,356.9 L355.3,357.0 L356.3,357.1 L357.3,357.2 L358.3,357.4 L359.3,357.5 L360.3,357.6 L361.3,357.7 L362.3,357.9 L363.3,358.0 L364.3,358.1 L365.3,358.2 L366.3,358.4 L367.3,358.5 L368.3,358.6 L369.3,358.8 L370.3,358.9 L371.3,359.0 L372.3,359.1 L373.3,359.3 L374.3,359.4 L375.3,359.5 L376.3,359.7 L377.3,359.8 L378.3,359.9 L379.3,360.1 L380.3,360.2 L381.3,360.3 L382.3,360.4 L383.3,360.6 L384.3,360.7 L385.3,360.8 L386.3,361.0 L387.3,361.1 L388.3,361.2 L389.3,361.4 L390.3,361.5 L391.3,361.6 L392.3,361.8 L393.3,361.9 L394.3,362.0 L395.3,362.2 L396.3,362.3 L397.3,362.4 L398.3,362.6 L399.3,362.7 L400.3,362.8 L401.3,363.0 L402.3,363.1 L403.3,363.2 L404.3,363.4 L405.3,363.5 L406.3,363.6 L407.3,363.8 L408.3,363.9 L409.3,364.1 L410.3,364.2 L411.3,364.3 L412.3,364.5 L413.3,364.6 L414.3,364.7 L415.3,364.9 L416.3,365.0 L417.3,365.1 L418.3,365.3 L419.3,365.4 L420.3,365.6 L421.3,365.7 L422.3,365.8 L423.3,366.0 L424.3,366.1 L425.3,366.2 L426.3,366.4 L427.3,366.5 L428.3,366.6 L429.3,366.8 L430.3,366.9 L431.3,367.1 L432.3,367.2 L433.3,367.3 L434.3,367.5 L435.3,367.6 L436.3,367.8 L437.3,367.9 L438.3,368.0 L439.3,368.2 L440.3,368.3 L441.3,368.4 L442.3,368.6 L443.3,368.7 L444.3,368.9 L445.3,369.0 L446.3,369.1 L447.3,369.3 L448.3,369.4 L449.3,369.6 L450.3,369.7 L451.3,369.8 L452.3,370.0 L453.3,370.1 L454.3,370.3 L455.3,370.4 L456.3,370.5 L457.3,370.7 L458.3,370.8 L459.3,371.0 L460.3,371.1 L461.3,371.2 L462.3,371.4 L463.3,371.5 L464.3,371.7 L465.3,371.8 L466.3,371.9 L467.3,372.1 L468.3,372.2 L469.3,372.4 L470.3,372.5 L471.3,372.6 L472.3,372.8 L473.3,372.9 L474.3,373.1 L475.3,373.2 L476.3,373.3 L477.3,373.5 L478.3,373.6 L479.3,373.8 L480.3,373.9 L481.3,374.0 L482.3,374.2 L483.3,374.3 L484.3,374.5 L485.3,374.6 L486.3,374.7 L487.3,374.9 L488.3,375.0 L489.3,375.2 L490.3,375.3 L491.3,375.4 L492.3,375.6 L493.3,375.7 L494.3,375.9 L495.3,376.0 L496.3,376.1 L497.3,376.3 L498.3,376.4 L499.3,376.6 L500.3,376.7 L501.3,376.9 L502.3,377.0 L503.3,377.1 L504.3,377.3 L505.3,377.4 L506.3,377.6 L507.3,377.7 L508.3,377.8 L509.3,378.0 L510.3,378.1 L511.3,378.2 L512.3,378.4 L513.3,378.5 L514.3,378.7 L515.3,378.8 L516.3,378.9 L517.3,379.1 L518.3,379.2 L519.3,379.4 L520.3,379.5 L521.3,379.6 L522.3,379.8 L523.3,379.9 L524.3,380.1 L525.3,380.2 L526.3,380.3 L527.3,380.5 L528.3,380.6 L529.3,380.8 L530.3,380.9 L531.3,381.0 L532.3,381.2 L533.3,381.3 L534.3,381.4 L534.5,381.5" stroke="#4DBEEE"/>
<path d="M57.7,98.6 L57.8,102.3 L57.9,105.9 L58.0,109.6 L58.1,113.3 L58.2,116.9 L58.3,120.6 L58.4,124.3 L58.5,128.0 L58.6,131.6 L58.7,135.3 L58.7,139.0 L58.8,142.6 L58.9,146.3 L59.0,150.0 L59.1,153.6 L59.2,157.3 L59.2,161.0 L59.3,164.7 L59.4,168.3 L59.5,172.0 L59.6,175.7 L59.7,179.3 L59.8,183.0 L59.8,186.7 L59.9,190.3 L60.0,194.0 L60.1,197.7 L60.2,201.3 L60.3,205.0 L60.4,208.7 L60.5,212.4 L60.6,216.0 L60.7,219.7 L60.8,223.4 L60.9,227.0 L61.0,230.7 L61.1,234.4 L61.2,238.0 L61.3,241.7 L61.4,245.4 L61.6,249.0 L61.7,252.7 L61.9,256.4 L62.1,260.1 L62.3,263.7 L62.6,267.4 L62.9,271.1 L63.4,274.7 L64.0,278.4 L64.5,282.1 L65.0,285.7 L65.5,289.4 L66.3,293.1 L67.3,296.8 L68.4,300.4 L69.7,304.1 L71.1,307.8 L72.8,311.4 L74.8,315.1 L75.3,316.0 L76.3,317.7 L77.3,319.2 L78.3,320.6 L79.3,321.9 L80.3,323.0 L81.3,324.0 L82.3,324.9 L83.3,325.6 L84.3,326.2 L85.3,326.8 L86.3,327.3 L87.3,327.7 L88.3,328.1 L89.3,328.5 L90.3,328.9 L91.3,329.2 L92.3,329.6 L93.3,329.9 L94.3,330.1 L95.3,330.4 L96.3,330.6 L97.3,330.8 L98.3,331.0 L99.3,331.2 L100.3,331.4 L101.3,331.6 L102.3,331.7 L103.3,331.9 L104.3,332.0 L105.3,332.1 L106.3,332.3 L107.3,332.4 L108.3,332.5 L109.3,332.6 L110.3,332.7 L111.3,332.8 L112.3,333.0 L113.3,333.1 L114.3,333.2 L115.3,333.3 L116.3,333.4 L117.3,333.6 L118.3,333.7 L119.3,333.9 L120.3,334.0 L121.3,334.2 L122.3,334.3 L123.3,334.5 L124.3,334.6 L125.3,334.8 L126.3,335.0 L127.3,335.1 L128.3,335.3 L129.3,335.4 L130.3,335.6 L131.3,335.8 L132.3,335.9 L133.3,336.1 L134.3,336.2 L135.3,336.3 L136.3,336.5 L137.3,336.6 L138.3,336.7 L139.3,336.9 L140.3,337.0 L141.3,337.1 L142.3,337.2 L143.3,337.3 L144.3,337.4 L145.3,337.6 L146.3,337.7 L147.3,337.8 L148.3,337.9 L149.3,338.0 L150.3,338.1 L151.3,338.2 L152.3,338.2 L153.3,338.3 L154.3,338.4 L155.3,338.5 L156.3,338.6 L157.3,338.7 L158.3,338.8 L159.3,338.8 L160.3,338.9 L161.3,339.0 L162.3,339.1 L163.3,339.1 L164.3,339.2 L165.3,339.3 L166.3,339.4 L167.3,339.4 L168.3,339.5 L169.3,339.6 L170.3,339.6 L171.3,339.7 L172.3,339.8 L173.3,339.8 L174.3,339.9 L175.3,340.0 L176.3,340.0 L177.3,340.1 L178.3,340.1 L179.3,340.2 L180.3,340.3 L181.3,340.3 L182.3,340.4 L183.3,340.5 L184.3,340.5 L185.3,340.6 L186.3,340.7 L187.3,340.7 L188.3,340.8 L189.3,340.8 L190.3,340.9 L191.3,341.0 L192.3,341.0 L193.3,341.1 L194.3,341.2 L195.3,341.3 L196.3,341.3 L197.3,341.4 L198.3,341.5 L199.3,341.5 L200.3,341.6 L201.3,341.7 L202.3,341.8 L203.3,341.8 L204.3,341.9 L205.3,342.0 L206.3,342.1 L207.3,342.1 L208.3,342.2 L209.3,342.3 L210.3,342.4 L211.3,342.4 L212.3,342.5 L213.3,342.6 L214.3,342.7 L215.3,342.8 L216.3,342.9 L217.3,342.9 L218.3,343.0 L219.3,343.1 L220.3,343.2 L221.3,343.3 L222.3,343.4 L223.3,343.5 L224.3,343.5 L225.3,343.6 L226.3,343.7 L227.3,343.8 L228.3,343.9 L229.3,344.0 L230.3,344.1 L231.3,344.2 L232.3,344.3 L233.3,344.4 L234.3,344.5 L235.3,344.5 L236.3,344.6 L237.3,344.7 L238.3,344.8 L239.3,344.9 L240.3,345.0 L241.3,345.1 L242.3,345.2 L243.3,345.3 L244.3,345.4 L245.3,345.5 L246.3,345.6 L247.3,345.7 L248.3,345.8 L249.3,345.9 L250.3,346.0 L251.3,346.1 L252.3,346.2 L253.3,346.3 L254.3,346.4 L255.3,346.5 L256.3,346.7 L257.3,346.8 L258.3,346.9 L259.3,347.0 L260.3,347.1 L261.3,347.2 L262.3,347.3 L263.3,347.4 L264.3,347.5 L265.3,347.6 L266.3,347.7 L267.3,347.8 L268.3,348.0 L269.3,348.1 L270.3,348.2 L271.3,348.3 L272.3,348.4 L273.3,348.5 L274.3,348.6 L275.3,348.7 L276.3,348.9 L277.3,349.0 L278.3,349.1 L279.3,349.2 L280.3,349.3 L281.3,349.4 L282.3,349.6 L283.3,349.7 L284.3,349.8 L285.3,349.9 L286.3,350.0 L287.3,350.1 L288.3,350.3 L289.3,350.4 L290.3,350.5 L291.3,350.6 L292.3,350.8 L293.3,350.9 L294.3,351.0 L295.3,351.1 L296.3,351.2 L297.3,351.4 L298.3,351.5 L299.3,351.6 L300.3,351.7 L301.3,351.9 L302.3,352.0 L303.3,352.1 L304.3,352.2 L305.3,352.4 L306.3,352.5 L307.3,352.6 L308.3,352.7 L309.3,352.9 L310.3,353.0 L311.3,353.1 L312.3,353.2 L313.3,353.4 L314.3,353.5 L315.3,353.6 L316.3,353.8 L317.3,353.9 L318.3,354.0 L319.3,354.2 L320.3,354.3 L321.3,354.4 L322.3,354.5 L323.3,354.7 L324.3,354.8 L325.3,354.9 L326.3,355.1 L327.3,355.2 L328.3,355.3 L329.3,355.5 L330.3,355.6 L331.3,355.7 L332.3,355.9 L333.3,356.0 L334.3,356.1 L335.3,356.3 L336.3,356.4 L337.3,356.6 L338.3,356.7 L339.3,356.8 L340.3,357.0 L341.3,357.1 L342.3,357.2 L343.3,357.4 L344.3,357.5 L345.3,357.6 L346.3,357.8 L347.3,357.9 L348.3,358.1 L349.3,358.2 L350.3,358.3 L351.3,358.5 L352.3,358.6 L353.3,358.8 L354.3,358.9 L355.3,359.0 L356.3,359.2 L357.3,359.3 L358.3,359.5 L359.3,359.6 L360.3,359.7 L361.3,359.9 L362.3,360.0 L363.3,360.2 L364.3,360.3 L365.3,360.5 L366.3,360.6 L367.3,360.7 L368.3,360.9 L369.3,361.0 L370.3,361.2 L371.3,361.3 L372.3,361.5 L373.3,361.6 L374.3,361.7 L375.3,361.9 L376.3,362.0 L377.3,362.2 L378.3,362.3 L379.3,362.5 L380.3,362.6 L381.3,362.8 L382.3,362.9 L383.3,363.1 L384.3,363.2 L385.3,363.4 L386.3,363.5 L387.3,363.6 L388.3,363.8 L389.3,363.9 L390.3,364.1 L391.3,364.2 L392.3,364.4 L393.3,364.5 L394.3,364.7 L395.3,364.8 L396.3,365.0 L397.3,365.1 L398.3,365.3 L399.3,365.4 L400.3,365.6 L401.3,365.7 L402.3,365.9 L403.3,366.0 L404.3,366.2 L405.3,366.3 L406.3,366.5 L407.3,366.6 L408.3,366.8 L409.3,366.9 L410.3,367.1 L411.3,367.2 L412.3,367.4 L413.3,367.5 L414.3,367.7 L415.3,367.8 L416.3,368.0 L417.3,368.1 L418.3,368.3 L419.3,368.4 L420.3,368.6 L421.3,368.7 L422.3,368.9 L423.3,369.0 L424.3,369.2 L425.3,369.3 L426.3,369.5 L427.3,369.6 L428.3,369.8 L429.3,370.0 L430.3,370.1 L431.3,370.3 L432.3,370.4 L433.3,370.6 L434.3,370.7 L435.3,370.9 L436.3,371.0 L437.3,371.2 L438.3,371.3 L439.3,371.5 L440.3,371.6 L441.3,371.8 L442.3,371.9 L443.3,372.1 L444.3,372.3 L445.3,372.4 L446.3,372.6 L447.3,372.7 L448.3,372.9 L449.3,373.0 L450.3,373.2 L451.3,373.3 L452.3,373.5 L453.3,373.6 L454.3,373.8 L455.3,374.0 L456.3,374.1 L457.3,374.3 L458.3,374.4 L459.3,374.6 L460.3,374.7 L461.3,374.9 L462.3,375.0 L463.3,375.2 L464.3,375.3 L465.3,375.5 L466.3,375.7 L467.3,375.8 L468.3,376.0 L469.3,376.1 L470.3,376.3 L471.3,376.4 L472.3,376.6 L473.3,376.7 L474.3,376.9 L475.3,377.0 L476.3,377.2 L477.3,377.4 L478.3,377.5 L479.3,377.7 L480.3,377.8 L481.3,378.0 L482.3,378.1 L483.3,378.3 L484.3,378.4 L485.3,378.6 L486.3,378.8 L487.3,378.9 L488.3,379.1 L489.3,379.2 L490.3,379.4 L491.3,379.5 L492.3,379.7 L493.3,379.8 L494.3,380.0 L495.3,380.1 L496.3,380.3 L497.3,380.5 L498.3,380.6 L499.3,380.8 L500.3,380.9 L501.3,381.1 L502.3,381.2 L503.3,381.4 L504.3,381.5 L505.3,381.7 L506.3,381.8 L507.3,382.0 L508.3,382.1 L509.3,382.3 L510.3,382.5 L511.3,382.6 L512.3,382.8 L513.3,382.9 L514.3,383.1 L515.3,383.2 L516.3,383.4 L517.3,383.5 L518.3,383.7 L519.3,383.8 L520.3,384.0 L521.3,384.1 L522.3,384.3 L523.3,384.4 L524.3,384.6 L525.3,384.8 L526.3,384.9 L527.3,385.1 L528.3,385.2 L529.3,385.4 L530.3,385.5 L531.3,385.7 L532.3,385.8 L533.3,386.0 L534.3,386.1 L534.5,386.2" stroke="#A2142F"/>
<path d="M57.7,98.6 L57.8,102.3 L57.9,105.9 L58.0,109.6 L58.1,113.3 L58.2,116.9 L58.3,120.6 L58.4,124.3 L58.5,128.0 L58.6,131.6 L58.7,135.3 L58.7,139.0 L58.8,142.6 L58.9,146.3 L59.0,150.0 L59.1,153.6 L59.2,157.3 L59.2,161.0 L59.3,164.7 L59.4,168.3 L59.5,172.0 L59.6,175.7 L59.7,179.3 L59.8,183.0 L59.8,186.7 L59.9,190.3 L60.0,194.0 L60.1,197.7 L60.2,201.3 L60.3,205.0 L60.4,208.7 L60.5,212.4 L60.6,216.0 L60.7,219.7 L60.8,223.4 L60.9,227.0 L61.0,230.7 L61.1,234.4 L61.2,238.0 L61.3,241.7 L61.4,245.4 L61.6,249.0 L61.7,252.7 L61.9,256.4 L62.1,260.1 L62.3,263.7 L62.6,267.4 L62.9,271.1 L63.4,274.7 L64.0,278.4 L64.5,282.1 L65.0,285.7 L65.5,289.4 L66.3,293.1 L67.3,296.8 L68.4,300.4 L69.7,304.1 L71.1,307.8 L72.8,311.4 L74.8,315.1 L75.3,316.0 L76.3,317.7 L77.3,319.2 L78.3,320.6 L79.3,321.8 L80.3,323.0 L81.3,323.9 L82.3,324.8 L83.3,325.5 L84.3,326.1 L85.3,326.6 L86.3,327.1 L87.3,327.6 L88.3,328.0 L89.3,328.4 L90.3,328.7 L91.3,329.1 L92.3,329.4 L93.3,329.7 L94.3,330.0 L95.3,330.2 L96.3,330.5 L97.3,330.7 L98.3,330.9 L99.3,331.1 L100.3,331.3 L101.3,331.4 L102.3,331.6 L103.3,331.7 L104.3,331.9 L105.3,332.0 L106.3,332.2 L107.3,332.3 L108.3,332.4 L109.3,332.5 L110.3,332.6 L111.3,332.8 L112.3,332.9 L113.3,333.0 L114.3,333.1 L115.3,333.2 L116.3,333.4 L117.3,333.5 L118.3,333.6 L119.3,333.8 L120.3,333.9 L121.3,334.1 L122.3,334.3 L123.3,334.4 L124.3,334.6 L125.3,334.7 L126.3,334.9 L127.3,335.1 L128.3,335.2 L129.3,335.4 L130.3,335.6 L131.3,335.7 L132.3,335.9 L133.3,336.0 L134.3,336.2 L135.3,336.3 L136.3,336.5 L137.3,336.6 L138.3,336.7 L139.3,336.9 L140.3,337.0 L141.3,337.1 L142.3,337.2 L143.3,337.4 L144.3,337.5 L145.3,337.6 L146.3,337.7 L147.3,337.8 L148.3,337.9 L149.3,338.0 L150.3,338.1 L151.3,338.2 L152.3,338.3 L153.3,338.4 L154.3,338.5 L155.3,338.6 L156.3,338.7 L157.3,338.8 L158.3,338.9 L159.3,339.0 L160.3,339.0 L161.3,339.1 L162.3,339.2 L163.3,339.3 L164.3,339.4 L165.3,339.4 L166.3,339.5 L167.3,339.6 L168.3,339.7 L169.3,339.7 L170.3,339.8 L171.3,339.9 L172.3,340.0 L173.3,340.0 L174.3,340.1 L175.3,340.2 L176.3,340.2 L177.3,340.3 L178.3,340.4 L179.3,340.5 L180.3,340.5 L181.3,340.6 L182.3,340.7 L183.3,340.7 L184.3,340.8 L185.3,340.9 L186.3,341.0 L187.3,341.0 L188.3,341.1 L189.3,341.2 L190.3,341.3 L191.3,341.3 L192.3,341.4 L193.3,341.5 L194.3,341.6 L195.3,341.6 L196.3,341.7 L197.3,341.8 L198.3,341.9 L199.3,342.0 L200.3,342.1 L201.3,342.1 L202.3,342.2 L203.3,342.3 L204.3,342.4 L205.3,342.5 L206.3,342.6 L207.3,342.7 L208.3,342.8 L209.3,342.9 L210.3,342.9 L211.3,343.0 L212.3,343.1 L213.3,343.2 L214.3,343.3 L215.3,343.4 L216.3,343.5 L217.3,343.6 L218.3,343.7 L219.3,343.8 L220.3,343.9 L221.3,344.0 L222.3,344.1 L223.3,344.2 L224.3,344.3 L225.3,344.4 L226.3,344.5 L227.3,344.6 L228.3,344.7 L229.3,344.8 L230.3,344.9 L231.3,345.0 L232.3,345.1 L233.3,345.2 L234.3,345.4 L235.3,345.5 L236.3,345.6 L237.3,345.7 L238.3,345.8 L239.3,345.9 L240.3,346.0 L241.3,346.1 L242.3,346.2 L243.3,346.4 L244.3,346.5 L245.3,346.6 L246.3,346.7 L247.3,346.8 L248.3,346.9 L249.3,347.1 L250.3,347.2 L251.3,347.3 L252.3,347.4 L253.3,347.5 L254.3,347.6 L255.3,347.8 L256.3,347.9 L257.3,348.0 L258.3,348.1 L259.3,348.3 L260.3,348.4 L261.3,348.5 L262.3,348.6 L263.3,348.7 L264.3,348.9 L265.3,349.0 L266.3,349.1 L267.3,349.2 L268.3,349.4 L269.3,349.5 L270.3,349.6 L271.3,349.8 L272.3,349.9 L273.3,350.0 L274.3,350.1 L275.3,350.3 L276.3,350.4 L277.3,350.5 L278.3,350.7 L279.3,350.8 L280.3,350.9 L281.3,351.1 L282.3,351.2 L283.3,351.3 L284.3,351.4 L285.3,351.6 L286.3,351.7 L287.3,351.8 L288.3,352.0 L289.3,352.1 L290.3,352.3 L291.3,352.4 L292.3,352.5 L293.3,352.7 L294.3,352.8 L295.3,352.9 L296.3,353.1 L297.3,353.2 L298.3,353.3 L299.3,353.5 L300.3,353.6 L301.3,353.8 L302.3,353.9 L303.3,354.0 L304.3,354.2 L305.3,354.3 L306.3,354.4 L307.3,354.6 L308.3,354.7 L309.3,354.9 L310.3,355.0 L311.3,355.1 L312.3,355.3 L313.3,355.4 L314.3,355.6 L315.3,355.7 L316.3,355.9 L317.3,356.0 L318.3,356.1 L319.3,356.3 L320.3,356.4 L321.3,356.6 L322.3,356.7 L323.3,356.8 L324.3,357.0 L325.3,357.1 L326.3,357.3 L327.3,357.4 L328.3,357.6 L329.3,357.7 L330.3,357.9 L331.3,358.0 L332.3,358.1 L333.3,358.3 L334.3,358.4 L335.3,358.6 L336.3,358.7 L337.3,358.9 L338.3,359.0 L339.3,359.2 L340.3,359.3 L341.3,359.5 L342.3,359.6 L343.3,359.8 L344.3,359.9 L345.3,360.0 L346.3,360.2 L347.3,360.3 L348.3,360.5 L349.3,360.6 L350.3,360.8 L351.3,360.9 L352.3,361.1 L353.3,361.2 L354.3,361.4 L355.3,361.5 L356.3,361.7 L357.3,361.8 L358.3,362.0 L359.3,362.1 L360.3,362.3 L361.3,362.4 L362.3,362.6 L363.3,362.7 L364.3,362.9 L365.3,363.0 L366.3,363.2 L367.3,363.3 L368.3,363.5 L369.3,363.6 L370.3,363.8 L371.3,363.9 L372.3,364.1 L373.3,364.2 L374.3,364.4 L375.3,364.6 L376.3,364.7 L377.3,364.9 L378.3,365.0 L379.3,365.2 L380.3,365.3 L381.3,365.5 L382.3,365.6 L383.3,365.8 L384.3,365.9 L385.3,366.1 L386.3,366.2 L387.3,366.4 L388.3,366.5 L389.3,366.7 L390.3,366.9 L391.3,367.0 L392.3,367.2 L393.3,367.3 L394.3,367.5 L395.3,367.6 L396.3,367.8 L397.3,367.9 L398.3,368.1 L399.3,368.3 L400.3,368.4 L401.3,368.6 L402.3,368.7 L403.3,368.9 L404.3,369.0 L405.3,369.2 L406.3,369.3 L407.3,369.5 L408.3,369.7 L409.3,369.8 L410.3,370.0 L411.3,370.1 L412.3,370.3 L413.3,370.4 L414.3,370.6 L415.3,370.8 L416.3,370.9 L417.3,371.1 L418.3,371.2 L419.3,371.4 L420.3,371.5 L421.3,371.7 L422.3,371.9 L423.3,372.0 L424.3,372.2 L425.3,372.3 L426.3,372.5 L427.3,372.7 L428.3,372.8 L429.3,373.0 L430.3,373.1 L431.3,373.3 L432.3,373.4 L433.3,373.6 L434.3,373.8 L435.3,373.9 L436.3,374.1 L437.3,374.2 L438.3,374.4 L439.3,374.6 L440.3,374.7 L441.3,374.9 L442.3,375.0 L443.3,375.2 L444.3,375.4 L445.3,375.5 L446.3,375.7 L447.3,375.8 L448.3,376.0 L449.3,376.1 L450.3,376.3 L451.3,376.5 L452.3,376.6 L453.3,376.8 L454.3,376.9 L455.3,377.1 L456.3,377.3 L457.3,377.4 L458.3,377.6 L459.3,377.7 L460.3,377.9 L461.3,378.1 L462.3,378.2 L463.3,378.4 L464.3,378.5 L465.3,378.7 L466.3,378.9 L467.3,379.0 L468.3,379.2 L469.3,379.3 L470.3,379.5 L471.3,379.7 L472.3,379.8 L473.3,380.0 L474.3,380.1 L475.3,380.3 L476.3,380.5 L477.3,380.6 L478.3,380.8 L479.3,380.9 L480.3,381.1 L481.3,381.3 L482.3,381.4 L483.3,381.6 L484.3,381.7 L485.3,381.9 L486.3,382.1 L487.3,382.2 L488.3,382.4 L489.3,382.5 L490.3,382.7 L491.3,382.9 L492.3,383.0 L493.3,383.2 L494.3,383.3 L495.3,383.5 L496.3,383.7 L497.3,383.8 L498.3,384.0 L499.3,384.1 L500.3,384.3 L501.3,384.5 L502.3,384.6 L503.3,384.8 L504.3,384.9 L505.3,385.1 L506.3,385.3 L507.3,385.4 L508.3,385.6 L509.3,385.7 L510.3,385.9 L511.3,386.1 L512.3,386.2 L513.3,386.4 L514.3,386.5 L515.3,386.7 L516.3,386.9 L517.3,387.0 L518.3,387.2 L519.3,387.3 L520.3,387.5 L521.3,387.6 L522.3,387.8 L523.3,388.0 L524.3,388.1 L525.3,388.3 L526.3,388.4 L527.3,388.6 L528.3,388.8 L529.3,388.9 L530.3,389.1 L531.3,389.2 L532.3,389.4 L533.3,389.6 L534.3,389.7 L534.5,389.7" stroke="#0072BD"/>
<path d="M57.7,98.6 L57.8,102.3 L57.9,105.9 L58.0,109.6 L58.1,113.3 L58.2,116.9 L58.3,120.6 L58.4,124.3 L58.5,128.0 L58.6,131.6 L58.7,135.3 L58.7,139.0 L58.8,142.6 L58.9,146.3 L59.0,150.0 L59.1,153.6 L59.2,157.3 L59.2,161.0 L59.3,164.7 L59.4,168.3 L59.5,172.0 L59.6,175.7 L59.7,179.3 L59.8,183.0 L59.8,186.7 L59.9,190.3 L60.0,194.0 L60.1,197.7 L60.2,201.3 L60.3,205.0 L60.4,208.7 L60.5,212.4 L60.6,216.0 L60.7,219.7 L60.8,223.4 L60.9,227.0 L61.0,230.7 L61.1,234.4 L61.2,238.0 L61.3,241.7 L61.4,245.4 L61.6,249.0 L61.7,252.7 L61.9,256.4 L62.1,260.1 L62.3,263.7 L62.6,267.4 L62.9,271.1 L63.4,274.7 L64.0,278.4 L64.5,282.1 L65.0,285.7 L65.5,289.4 L66.3,293.1 L67.3,296.8 L68.4,300.4 L69.7,304.1 L71.1,307.8 L72.8,311.4 L74.8,315.1 L75.3,316.0 L76.3,317.6 L77.3,319.2 L78.3,320.5 L79.3,321.8 L80.3,322.9 L81.3,323.9 L82.3,324.7 L83.3,325.4 L84.3,326.0 L85.3,326.5 L86.3,327.0 L87.3,327.4 L88.3,327.8 L89.3,328.2 L90.3,328.5 L91.3,328.9 L92.3,329.2 L93.3,329.5 L94.3,329.8 L95.3,330.0 L96.3,330.3 L97.3,330.5 L98.3,330.7 L99.3,330.9 L100.3,331.1 L101.3,331.3 L102.3,331.5 L103.3,331.6 L104.3,331.8 L105.3,331.9 L106.3,332.1 L107.3,332.2 L108.3,332.3 L109.3,332.4 L110.3,332.6 L111.3,332.7 L112.3,332.8 L113.3,332.9 L114.3,333.0 L115.3,333.2 L116.3,333.3 L117.3,333.4 L118.3,333.6 L119.3,333.7 L120.3,333.9 L121.3,334.0 L122.3,334.2 L123.3,334.3 L124.3,334.5 L125.3,334.7 L126.3,334.9 L127.3,335.0 L128.3,335.2 L129.3,335.4 L130.3,335.5 L131.3,335.7 L132.3,335.8 L133.3,336.0 L134.3,336.1 L135.3,336.3 L136.3,336.4 L137.3,336.6 L138.3,336.7 L139.3,336.8 L140.3,337.0 L141.3,337.1 L142.3,337.2 L143.3,337.3 L144.3,337.5 L145.3,337.6 L146.3,337.7 L147.3,337.8 L148.3,337.9 L149.3,338.0 L150.3,338.1 L151.3,338.2 L152.3,338.3 L153.3,338.4 L154.3,338.5 L155.3,338.6 L156.3,338.7 L157.3,338.8 L158.3,338.9 L159.3,339.0 L160.3,339.1 L161.3,339.2 L162.3,339.3 L163.3,339.4 L164.3,339.5 L165.3,339.5 L166.3,339.6 L167.3,339.7 L168.3,339.8 L169.3,339.9 L170.3,339.9 L171.3,340.0 L172.3,340.1 L173.3,340.2 L174.3,340.3 L175.3,340.3 L176.3,340.4 L177.3,340.5 L178.3,340.6 L179.3,340.6 L180.3,340.7 L181.3,340.8 L182.3,340.9 L183.3,341.0 L184.3,341.0 L185.3,341.1 L186.3,341.2 L187.3,341.3 L188.3,341.4 L189.3,341.4 L190.3,341.5 L191.3,341.6 L192.3,341.7 L193.3,341.8 L194.3,341.9 L195.3,342.0 L196.3,342.1 L197.3,342.1 L198.3,342.2 L199.3,342.3 L200.3,342.4 L201.3,342.5 L202.3,342.6 L203.3,342.7 L204.3,342.8 L205.3,342.9 L206.3,343.0 L207.3,343.1 L208.3,343.2 L209.3,343.3 L210.3,343.4 L211.3,343.5 L212.3,343.6 L213.3,343.7 L214.3,343.8 L215.3,343.9 L216.3,344.0 L217.3,344.1 L218.3,344.2 L219.3,344.4 L220.3,344.5 L221.3,344.6 L222.3,344.7 L223.3,344.8 L224.3,344.9 L225.3,345.0 L226.3,345.1 L227.3,345.3 L228.3,345.4 L229.3,345.5 L230.3,345.6 L231.3,345.7 L232.3,345.8 L233.3,346.0 L234.3,346.1 L235.3,346.2 L236.3,346.3 L237.3,346.4 L238.3,346.6 L239.3,346.7 L240.3,346.8 L241.3,346.9 L242.3,347.1 L243.3,347.2 L244.3,347.3 L245.3,347.4 L246.3,347.6 L247.3,347.7 L248.3,347.8 L249.3,348.0 L250.3,348.1 L251.3,348.2 L252.3,348.3 L253.3,348.5 L254.3,348.6 L255.3,348.7 L256.3,348.9 L257.3,349.0 L258.3,349.1 L259.3,349.3 L260.3,349.4 L261.3,349.5 L262.3,349.7 L263.3,349.8 L264.3,350.0 L265.3,350.1 L266.3,350.2 L267.3,350.4 L268.3,350.5 L269.3,350.7 L270.3,350.8 L271.3,350.9 L272.3,351.1 L273.3,351.2 L274.3,351.4 L275.3,351.5 L276.3,351.6 L277.3,351.8 L278.3,351.9 L279.3,352.1 L280.3,352.2 L281.3,352.4 L282.3,352.5 L283.3,352.6 L284.3,352.8 L285.3,352.9 L286.3,353.1 L287.3,353.2 L288.3,353.4 L289.3,353.5 L290.3,353.7 L291.3,353.8 L292.3,354.0 L293.3,354.1 L294.3,354.3 L295.3,354.4 L296.3,354.6 L297.3,354.7 L298.3,354.9 L299.3,355.0 L300.3,355.2 L301.3,355.3 L302.3,355.5 L303.3,355.6 L304.3,355.8 L305.3,355.9 L306.3,356.1 L307.3,356.2 L308.3,356.4 L309.3,356.5 L310.3,356.7 L311.3,356.8 L312.3,357.0 L313.3,357.1 L314.3,357.3 L315.3,357.4 L316.3,357.6 L317.3,357.7 L318.3,357.9 L319.3,358.1 L320.3,358.2 L321.3,358.4 L322.3,358.5 L323.3,358.7 L324.3,358.8 L325.3,359.0 L326.3,359.1 L327.3,359.3 L328.3,359.4 L329.3,359.6 L330.3,359.8 L331.3,359.9 L332.3,360.1 L333.3,360.2 L334.3,360.4 L335.3,360.5 L336.3,360.7 L337.3,360.9 L338.3,361.0 L339.3,361.2 L340.3,361.3 L341.3,361.5 L342.3,361.6 L343.3,361.8 L344.3,362.0 L345.3,362.1 L346.3,362.3 L347.3,362.4 L348.3,362.6 L349.3,362.8 L350.3,362.9 L351.3,363.1 L352.3,363.2 L353.3,363.4 L354.3,363.5 L355.3,363.7 L356.3,363.9 L357.3,364.0 L358.3,364.2 L359.3,364.4 L360.3,364.5 L361.3,364.7 L362.3,364.8 L363.3,365.0 L364.3,365.2 L365.3,365.3 L366.3,365.5 L367.3,365.6 L368.3,365.8 L369.3,366.0 L370.3,366.1 L371.3,366.3 L372.3,366.5 L373.3,366.6 L374.3,366.8 L375.3,366.9 L376.3,367.1 L377.3,367.3 L378.3,367.4 L379.3,367.6 L380.3,367.8 L381.3,367.9 L382.3,368.1 L383.3,368.2 L384.3,368.4 L385.3,368.6 L386.3,368.7 L387.3,368.9 L388.3,369.1 L389.3,369.2 L390.3,369.4 L391.3,369.6 L392.3,369.7 L393.3,369.9 L394.3,370.1 L395.3,370.2 L396.3,370.4 L397.3,370.5 L398.3,370.7 L399.3,370.9 L400.3,371.0 L401.3,371.2 L402.3,371.4 L403.3,371.5 L404.3,371.7 L405.3,371.9 L406.3,372.0 L407.3,372.2 L408.3,372.4 L409.3,372.5 L410.3,372.7 L411.3,372.9 L412.3,373.0 L413.3,373.2 L414.3,373.4 L415.3,373.5 L416.3,373.7 L417.3,373.9 L418.3,374.0 L419.3,374.2 L420.3,374.4 L421.3,374.5 L422.3,374.7 L423.3,374.9 L424.3,375.0 L425.3,375.2 L426.3,375.4 L427.3,375.5 L428.3,375.7 L429.3,375.9 L430.3,376.0 L431.3,376.2 L432.3,376.4 L433.3,376.5 L434.3,376.7 L435.3,376.9 L436.3,377.1 L437.3,377.2 L438.3,377.4 L439.3,377.6 L440.3,377.7 L441.3,377.9 L442.3,378.1 L443.3,378.2 L444.3,378.4 L445.3,378.6 L446.3,378.7 L447.3,378.9 L448.3,379.1 L449.3,379.2 L450.3,379.4 L451.3,379.6 L452.3,379.8 L453.3,379.9 L454.3,380.1 L455.3,380.3 L456.3,380.4 L457.3,380.6 L458.3,380.8 L459.3,380.9 L460.3,381.1 L461.3,381.3 L462.3,381.4 L463.3,381.6 L464.3,381.8 L465.3,381.9 L466.3,382.1 L467.3,382.3 L468.3,382.5 L469.3,382.6 L470.3,382.8 L471.3,383.0 L472.3,383.1 L473.3,383.3 L474.3,383.5 L475.3,383.6 L476.3,383.8 L477.3,384.0 L478.3,384.1 L479.3,384.3 L480.3,384.5 L481.3,384.7 L482.3,384.8 L483.3,385.0 L484.3,385.2 L485.3,385.3 L486.3,385.5 L487.3,385.7 L488.3,385.8 L489.3,386.0 L490.3,386.2 L491.3,386.4 L492.3,386.5 L493.3,386.7 L494.3,386.9 L495.3,387.0 L496.3,387.2 L497.3,387.4 L498.3,387.5 L499.3,387.7 L500.3,387.9 L501.3,388.0 L502.3,388.2 L503.3,388.4 L504.3,388.6 L505.3,388.7 L506.3,388.9 L507.3,389.1 L508.3,389.2 L509.3,389.4 L510.3,389.6 L511.3,389.7 L512.3,389.9 L513.3,390.1 L514.3,390.2 L515.3,390.4 L516.3,390.6 L517.3,390.7 L518.3,390.9 L519.3,391.1 L520.3,391.3 L521.3,391.4 L522.3,391.6 L523.3,391.8 L524.3,391.9 L525.3,392.1 L526.3,392.3 L527.3,392.4 L528.3,392.6 L529.3,392.8 L530.3,392.9 L531.3,393.1 L532.3,393.3 L533.3,393.4 L534.3,393.6 L534.5,393.6" stroke="#D95319"/>
<path d="M57.7,98.6 L57.8,102.3 L57.9,105.9 L58.0,109.6 L58.1,113.3 L58.2,116.9 L58.3,120.6 L58.4,124.3 L58.5,128.0 L58.6,131.6 L58.7,135.3 L58.7,139.0 L58.8,142.6 L58.9,146.3 L59.0,150.0 L59.1,153.6 L59.2,157.3 L59.2,161.0 L59.3,164.7 L59.4,168.3 L59.5,172.0 L59.6,175.7 L59.7,179.3 L59.8,183.0 L59.8,186.7 L59.9,190.3 L60.0,194.0 L60.1,197.7 L60.2,201.3 L60.3,205.0 L60.4,208.7 L60.5,212.4 L60.6,216.0 L60.7,219.7 L60.8,223.4 L60.9,227.0 L61.0,230.7 L61.1,234.4 L61.2,238.0 L61.3,241.7 L61.4,245.4 L61.6,249.0 L61.7,252.7 L61.9,256.4 L62.1,260.1 L62.3,263.7 L62.6,267.4 L62.9,271.1 L63.4,274.7 L64.0,278.4 L64.5,282.1 L65.0,285.7 L65.5,289.4 L66.3,293.1 L67.3,296.8 L68.4,300.4 L69.7,304.1 L71.1,307.8 L72.8,311.4 L74.8,315.1 L75.3,316.0 L76.3,317.7 L77.3,319.2 L78.3,320.5 L79.3,321.7 L80.3,322.8 L81.3,323.7 L82.3,324.5 L83.3,325.2 L84.3,325.9 L85.3,326.4 L86.3,326.9 L87.3,327.3 L88.3,327.7 L89.3,328.1 L90.3,328.4 L91.3,328.7 L92.3,329.0 L93.3,329.3 L94.3,329.5 L95.3,329.8 L96.3,330.1 L97.3,330.3 L98.3,330.5 L99.3,330.8 L100.3,331.0 L101.3,331.2 L102.3,331.3 L103.3,331.5 L104.3,331.7 L105.3,331.8 L106.3,332.0 L107.3,332.1 L108.3,332.2 L109.3,332.3 L110.3,332.5 L111.3,332.6 L112.3,332.7 L113.3,332.8 L114.3,333.0 L115.3,333.1 L116.3,333.2 L117.3,333.3 L118.3,333.5 L119.3,333.6 L120.3,333.8 L121.3,333.9 L122.3,334.1 L123.3,334.3 L124.3,334.4 L125.3,334.6 L126.3,334.8 L127.3,335.0 L128.3,335.1 L129.3,335.3 L130.3,335.5 L131.3,335.6 L132.3,335.8 L133.3,335.9 L134.3,336.1 L135.3,336.2 L136.3,336.4 L137.3,336.5 L138.3,336.7 L139.3,336.8 L140.3,336.9 L141.3,337.1 L142.3,337.2 L143.3,337.3 L144.3,337.4 L145.3,337.6 L146.3,337.7 L147.3,337.8 L148.3,337.9 L149.3,338.0 L150.3,338.1 L151.3,338.2 L152.3,338.4 L153.3,338.5 L154.3,338.6 L155.3,338.7 L156.3,338.8 L157.3,338.9 L158.3,339.0 L159.3,339.1 L160.3,339.1 L161.3,339.2 L162.3,339.3 L163.3,339.4 L164.3,339.5 L165.3,339.6 L166.3,339.7 L167.3,339.8 L168.3,339.9 L169.3,340.0 L170.3,340.0 L171.3,340.1 L172.3,340.2 L173.3,340.3 L174.3,340.4 L175.3,340.5 L176.3,340.5 L177.3,340.6 L178.3,340.7 L179.3,340.8 L180.3,340.9 L181.3,341.0 L182.3,341.1 L183.3,341.1 L184.3,341.2 L185.3,341.3 L186.3,341.4 L187.3,341.5 L188.3,341.6 L189.3,341.7 L190.3,341.8 L191.3,341.8 L192.3,341.9 L193.3,342.0 L194.3,342.1 L195.3,342.2 L196.3,342.3 L197.3,342.4 L198.3,342.5 L199.3,342.6 L200.3,342.7 L201.3,342.8 L202.3,342.9 L203.3,343.0 L204.3,343.1 L205.3,343.2 L206.3,343.4 L207.3,343.5 L208.3,343.6 L209.3,343.7 L210.3,343.8 L211.3,343.9 L212.3,344.0 L213.3,344.1 L214.3,344.2 L215.3,344.4 L216.3,344.5 L217.3,344.6 L218.3,344.7 L219.3,344.8 L220.3,344.9 L221.3,345.1 L222.3,345.2 L223.3,345.3 L224.3,345.4 L225.3,345.6 L226.3,345.7 L227.3,345.8 L228.3,345.9 L229.3,346.1 L230.3,346.2 L231.3,346.3 L232.3,346.4 L233.3,346.6 L234.3,346.7 L235.3,346.8 L236.3,347.0 L237.3,347.1 L238.3,347.2 L239.3,347.4 L240.3,347.5 L241.3,347.6 L242.3,347.8 L243.3,347.9 L244.3,348.0 L245.3,348.2 L246.3,348.3 L247.3,348.5 L248.3,348.6 L249.3,348.7 L250.3,348.9 L251.3,349.0 L252.3,349.2 L253.3,349.3 L254.3,349.4 L255.3,349.6 L256.3,349.7 L257.3,349.9 L258.3,350.0 L259.3,350.2 L260.3,350.3 L261.3,350.5 L262.3,350.6 L263.3,350.8 L264.3,350.9 L265.3,351.1 L266.3,351.2 L267.3,351.4 L268.3,351.5 L269.3,351.7 L270.3,351.8 L271.3,352.0 L272.3,352.1 L273.3,352.3 L274.3,352.4 L275.3,352.6 L276.3,352.7 L277.3,352.9 L278.3,353.0 L279.3,353.2 L280.3,353.4 L281.3,353.5 L282.3,353.7 L283.3,353.8 L284.3,354.0 L285.3,354.1 L286.3,354.3 L287.3,354.5 L288.3,354.6 L289.3,354.8 L290.3,354.9 L291.3,355.1 L292.3,355.2 L293.3,355.4 L294.3,355.6 L295.3,355.7 L296.3,355.9 L297.3,356.0 L298.3,356.2 L299.3,356.4 L300.3,356.5 L301.3,356.7 L302.3,356.9 L303.3,357.0 L304.3,357.2 L305.3,357.3 L306.3,357.5 L307.3,357.7 L308.3,357.8 L309.3,358.0 L310.3,358.2 L311.3,358.3 L312.3,358.5 L313.3,358.7 L314.3,358.8 L315.3,359.0 L316.3,359.1 L317.3,359.3 L318.3,359.5 L319.3,359.6 L320.3,359.8 L321.3,360.0 L322.3,360.1 L323.3,360.3 L324.3,360.5 L325.3,360.6 L326.3,360.8 L327.3,361.0 L328.3,361.1 L329.3,361.3 L330.3,361.5 L331.3,361.6 L332.3,361.8 L333.3,362.0 L334.3,362.1 L335.3,362.3 L336.3,362.5 L337.3,362.6 L338.3,362.8 L339.3,363.0 L340.3,363.1 L341.3,363.3 L342.3,363.5 L343.3,363.7 L344.3,363.8 L345.3,364.0 L346.3,364.2 L347.3,364.3 L348.3,364.5 L349.3,364.7 L350.3,364.8 L351.3,365.0 L352.3,365.2 L353.3,365.4 L354.3,365.5 L355.3,365.7 L356.3,365.9 L357.3,366.0 L358.3,366.2 L359.3,366.4 L360.3,366.6 L361.3,366.7 L362.3,366.9 L363.3,367.1 L364.3,367.2 L365.3,367.4 L366.3,367.6 L367.3,367.8 L368.3,367.9 L369.3,368.1 L370.3,368.3 L371.3,368.4 L372.3,368.6 L373.3,368.8 L374.3,369.0 L375.3,369.1 L376.3,369.3 L377.3,369.5 L378.3,369.7 L379.3,369.8 L380.3,370.0 L381.3,370.2 L382.3,370.4 L383.3,370.5 L384.3,370.7 L385.3,370.9 L386.3,371.1 L387.3,371.2 L388.3,371.4 L389.3,371.6 L390.3,371.8 L391.3,371.9 L392.3,372.1 L393.3,372.3 L394.3,372.5 L395.3,372.6 L396.3,372.8 L397.3,373.0 L398.3,373.2 L399.3,373.3 L400.3,373.5 L401.3,373.7 L402.3,373.9 L403.3,374.0 L404.3,374.2 L405.3,374.4 L406.3,374.6 L407.3,374.7 L408.3,374.9 L409.3,375.1 L410.3,375.3 L411.3,375.5 L412.3,375.6 L413.3,375.8 L414.3,376.0 L415.3,376.2 L416.3,376.3 L417.3,376.5 L418.3,376.7 L419.3,376.9 L420.3,377.0 L421.3,377.2 L422.3,377.4 L423.3,377.6 L424.3,377.8 L425.3,377.9 L426.3,378.1 L427.3,378.3 L428.3,378.5 L429.3,378.6 L430.3,378.8 L431.3,379.0 L432.3,379.2 L433.3,379.4 L434.3,379.5 L435.3,379.7 L436.3,379.9 L437.3,380.1 L438.3,380.3 L439.3,380.4 L440.3,380.6 L441.3,380.8 L442.3,381.0 L443.3,381.1 L444.3,381.3 L445.3,381.5 L446.3,381.7 L447.3,381.9 L448.3,382.0 L449.3,382.2 L450.3,382.4 L451.3,382.6 L452.3,382.8 L453.3,382.9 L454.3,383.1 L455.3,383.3 L456.3,383.5 L457.3,383.7 L458.3,383.8 L459.3,384.0 L460.3,384.2 L461.3,384.4 L462.3,384.6 L463.3,384.7 L464.3,384.9 L465.3,385.1 L466.3,385.3 L467.3,385.5 L468.3,385.6 L469.3,385.8 L470.3,386.0 L471.3,386.2 L472.3,386.3 L473.3,386.5 L474.3,386.7 L475.3,386.9 L476.3,387.1 L477.3,387.2 L478.3,387.4 L479.3,387.6 L480.3,387.8 L481.3,388.0 L482.3,388.1 L483.3,388.3 L484.3,388.5 L485.3,388.7 L486.3,388.9 L487.3,389.0 L488.3,389.2 L489.3,389.4 L490.3,389.6 L491.3,389.8 L492.3,389.9 L493.3,390.1 L494.3,390.3 L495.3,390.5 L496.3,390.7 L497.3,390.8 L498.3,391.0 L499.3,391.2 L500.3,391.4 L501.3,391.6 L502.3,391.7 L503.3,391.9 L504.3,392.1 L505.3,392.3 L506.3,392.5 L507.3,392.6 L508.3,392.8 L509.3,393.0 L510.3,393.2 L511.3,393.4 L512.3,393.5 L513.3,393.7 L514.3,393.9 L515.3,394.1 L516.3,394.2 L517.3,394.4 L518.3,394.6 L519.3,394.8 L520.3,395.0 L521.3,395.1 L522.3,395.3 L523.3,395.5 L524.3,395.7 L525.3,395.9 L526.3,396.0 L527.3,396.2 L528.3,396.4 L529.3,396.6 L530.3,396.8 L531.3,396.9 L532.3,397.1 L533.3,397.3 L534.3,397.5 L534.5,397.5" stroke="#EDB120"/>
<path d="M57.7,98.6 L57.8,102.3 L57.9,105.9 L58.0,109.6 L58.1,113.3 L58.2,116.9 L58.3,120.6 L58.4,124.3 L58.5,128.0 L58.6,131.6 L58.7,135.3 L58.7,139.0 L58.8,142.6 L58.9,146.3 L59.0,150.0 L59.1,153.6 L59.2,157.3 L59.2,161.0 L59.3,164.7 L59.4,168.3 L59.5,172.0 L59.6,175.7 L59.7,179.3 L59.8,183.0 L59.8,186.7 L59.9,190.3 L60.0,194.0 L60.1,197.7 L60.2,201.3 L60.3,205.0 L60.4,208.7 L60.5,212.4 L60.6,216.0 L60.7,219.7 L60.8,223.4 L60.9,227.0 L61.0,230.7 L61.1,234.4 L61.2,238.0 L61.3,241.7 L61.4,245.4 L61.6,249.0 L61.7,252.7 L61.9,256.4 L62.1,260.1 L62.3,263.7 L62.6,267.4 L62.9,271.1 L63.4,274.7 L64.0,278.4 L64.5,282.1 L65.0,285.7 L65.5,289.4 L66.3,293.1 L67.3,296.8 L68.4,300.4 L69.7,304.1 L71.1,307.8 L72.8,311.4 L74.8,315.1 L75.3,316.0 L76.3,317.6 L77.3,319.1 L78.3,320.5 L79.3,321.7 L80.3,322.7 L81.3,323.6 L82.3,324.4 L83.3,325.1 L84.3,325.8 L85.3,326.3 L86.3,326.8 L87.3,327.2 L88.3,327.5 L89.3,327.9 L90.3,328.2 L91.3,328.5 L92.3,328.8 L93.3,329.1 L94.3,329.4 L95.3,329.7 L96.3,329.9 L97.3,330.2 L98.3,330.5 L99.3,330.7 L100.3,330.9 L101.3,331.1 L102.3,331.3 L103.3,331.5 L104.3,331.7 L105.3,331.8 L106.3,332.0 L107.3,332.1 L108.3,332.3 L109.3,332.4 L110.3,332.5 L111.3,332.6 L112.3,332.7 L113.3,332.9 L114.3,333.0 L115.3,333.1 L116.3,333.2 L117.3,333.4 L118.3,333.5 L119.3,333.7 L120.3,333.8 L121.3,334.0 L122.3,334.1 L123.3,334.3 L124.3,334.5 L125.3,334.7 L126.3,334.8 L127.3,335.0 L128.3,335.2 L129.3,335.4 L130.3,335.5 L131.3,335.7 L132.3,335.9 L133.3,336.0 L134.3,336.2 L135.3,336.3 L136.3,336.5 L137.3,336.6 L138.3,336.8 L139.3,336.9 L140.3,337.1 L141.3,337.2 L142.3,337.3 L143.3,337.5 L144.3,337.6 L145.3,337.7 L146.3,337.9 L147.3,338.0 L148.3,338.1 L149.3,338.2 L150.3,338.4 L151.3,338.5 L152.3,338.6 L153.3,338.7 L154.3,338.8 L155.3,338.9 L156.3,339.0 L157.3,339.1 L158.3,339.2 L159.3,339.4 L160.3,339.5 L161.3,339.6 L162.3,339.7 L163.3,339.8 L164.3,339.9 L165.3,340.0 L166.3,340.1 L167.3,340.2 L168.3,340.3 L169.3,340.4 L170.3,340.5 L171.3,340.6 L172.3,340.6 L173.3,340.7 L174.3,340.8 L175.3,340.9 L176.3,341.0 L177.3,341.1 L178.3,341.2 L179.3,341.3 L180.3,341.4 L181.3,341.5 L182.3,341.6 L183.3,341.7 L184.3,341.8 L185.3,341.9 L186.3,342.0 L187.3,342.1 L188.3,342.2 L189.3,342.3 L190.3,342.4 L191.3,342.5 L192.3,342.6 L193.3,342.7 L194.3,342.9 L195.3,343.0 L196.3,343.1 L197.3,343.2 L198.3,343.3 L199.3,343.4 L200.3,343.5 L201.3,343.6 L202.3,343.8 L203.3,343.9 L204.3,344.0 L205.3,344.1 L206.3,344.2 L207.3,344.4 L208.3,344.5 L209.3,344.6 L210.3,344.7 L211.3,344.9 L212.3,345.0 L213.3,345.1 L214.3,345.2 L215.3,345.4 L216.3,345.5 L217.3,345.6 L218.3,345.8 L219.3,345.9 L220.3,346.0 L221.3,346.2 L222.3,346.3 L223.3,346.4 L224.3,346.6 L225.3,346.7 L226.3,346.9 L227.3,347.0 L228.3,347.1 L229.3,347.3 L230.3,347.4 L231.3,347.6 L232.3,347.7 L233.3,347.8 L234.3,348.0 L235.3,348.1 L236.3,348.3 L237.3,348.4 L238.3,348.6 L239.3,348.7 L240.3,348.9 L241.3,349.0 L242.3,349.2 L243.3,349.3 L244.3,349.5 L245.3,349.6 L246.3,349.8 L247.3,349.9 L248.3,350.1 L249.3,350.2 L250.3,350.4 L251.3,350.6 L252.3,350.7 L253.3,350.9 L254.3,351.0 L255.3,351.2 L256.3,351.4 L257.3,351.5 L258.3,351.7 L259.3,351.8 L260.3,352.0 L261.3,352.2 L262.3,352.3 L263.3,352.5 L264.3,352.6 L265.3,352.8 L266.3,353.0 L267.3,353.1 L268.3,353.3 L269.3,353.5 L270.3,353.6 L271.3,353.8 L272.3,354.0 L273.3,354.1 L274.3,354.3 L275.3,354.5 L276.3,354.6 L277.3,354.8 L278.3,355.0 L279.3,355.1 L280.3,355.3 L281.3,355.5 L282.3,355.6 L283.3,355.8 L284.3,356.0 L285.3,356.2 L286.3,356.3 L287.3,356.5 L288.3,356.7 L289.3,356.8 L290.3,357.0 L291.3,357.2 L292.3,357.4 L293.3,357.5 L294.3,357.7 L295.3,357.9 L296.3,358.1 L297.3,358.2 L298.3,358.4 L299.3,358.6 L300.3,358.7 L301.3,358.9 L302.3,359.1 L303.3,359.3 L304.3,359.4 L305.3,359.6 L306.3,359.8 L307.3,360.0 L308.3,360.1 L309.3,360.3 L310.3,360.5 L311.3,360.7 L312.3,360.8 L313.3,361.0 L314.3,361.2 L315.3,361.4 L316.3,361.5 L317.3,361.7 L318.3,361.9 L319.3,362.1 L320.3,362.3 L321.3,362.4 L322.3,362.6 L323.3,362.8 L324.3,363.0 L325.3,363.1 L326.3,363.3 L327.3,363.5 L328.3,363.7 L329.3,363.8 L330.3,364.0 L331.3,364.2 L332.3,364.4 L333.3,364.6 L334.3,364.7 L335.3,364.9 L336.3,365.1 L337.3,365.3 L338.3,365.4 L339.3,365.6 L340.3,365.8 L341.3,366.0 L342.3,366.2 L343.3,366.3 L344.3,366.5 L345.3,366.7 L346.3,366.9 L347.3,367.0 L348.3,367.2 L349.3,367.4 L350.3,367.6 L351.3,367.8 L352.3,367.9 L353.3,368.1 L354.3,368.3 L355.3,368.5 L356.3,368.7 L357.3,368.8 L358.3,369.0 L359.3,369.2 L360.3,369.4 L361.3,369.6 L362.3,369.7 L363.3,369.9 L364.3,370.1 L365.3,370.3 L366.3,370.5 L367.3,370.6 L368.3,370.8 L369.3,371.0 L370.3,371.2 L371.3,371.4 L372.3,371.5 L373.3,371.7 L374.3,371.9 L375.3,372.1 L376.3,372.3 L377.3,372.4 L378.3,372.6 L379.3,372.8 L380.3,373.0 L381.3,373.2 L382.3,373.4 L383.3,373.5 L384.3,373.7 L385.3,373.9 L386.3,374.1 L387.3,374.3 L388.3,374.4 L389.3,374.6 L390.3,374.8 L391.3,375.0 L392.3,375.2 L393.3,375.4 L394.3,375.5 L395.3,375.7 L396.3,375.9 L397.3,376.1 L398.3,376.3 L399.3,376.5 L400.3,376.6 L401.3,376.8 L402.3,377.0 L403.3,377.2 L404.3,377.4 L405.3,377.5 L406.3,377.7 L407.3,377.9 L408.3,378.1 L409.3,378.3 L410.3,378.5 L411.3,378.6 L412.3,378.8 L413.3,379.0 L414.3,379.2 L415.3,379.4 L416.3,379.6 L417.3,379.8 L418.3,379.9 L419.3,380.1 L420.3,380.3 L421.3,380.5 L422.3,380.7 L423.3,380.9 L424.3,381.0 L425.3,381.2 L426.3,381.4 L427.3,381.6 L428.3,381.8 L429.3,382.0 L430.3,382.1 L431.3,382.3 L432.3,382.5 L433.3,382.7 L434.3,382.9 L435.3,383.1 L436.3,383.3 L437.3,383.4 L438.3,383.6 L439.3,383.8 L440.3,384.0 L441.3,384.2 L442.3,384.4 L443.3,384.5 L444.3,384.7 L445.3,384.9 L446.3,385.1 L447.3,385.3 L448.3,385.5 L449.3,385.7 L450.3,385.8 L451.3,386.0 L452.3,386.2 L453.3,386.4 L454.3,386.6 L455.3,386.8 L456.3,387.0 L457.3,387.1 L458.3,387.3 L459.3,387.5 L460.3,387.7 L461.3,387.9 L462.3,388.1 L463.3,388.3 L464.3,388.4 L465.3,388.6 L466.3,388.8 L467.3,389.0 L468.3,389.2 L469.3,389.4 L470.3,389.6 L471.3,389.7 L472.3,389.9 L473.3,390.1 L474.3,390.3 L475.3,390.5 L476.3,390.7 L477.3,390.9 L478.3,391.0 L479.3,391.2 L480.3,391.4 L481.3,391.6 L482.3,391.8 L483.3,392.0 L484.3,392.2 L485.3,392.3 L486.3,392.5 L487.3,392.7 L488.3,392.9 L489.3,393.1 L490.3,393.3 L491.3,393.5 L492.3,393.6 L493.3,393.8 L494.3,394.0 L495.3,394.2 L496.3,394.4 L497.3,394.6 L498.3,394.8 L499.3,395.0 L500.3,395.1 L501.3,395.3 L502.3,395.5 L503.3,395.7 L504.3,395.9 L505.3,396.1 L506.3,396.3 L507.3,396.4 L508.3,396.6 L509.3,396.8 L510.3,397.0 L511.3,397.2 L512.3,397.4 L513.3,397.6 L514.3,397.8 L515.3,397.9 L516.3,398.1 L517.3,398.3 L518.3,398.5 L519.3,398.7 L520.3,398.9 L521.3,399.1 L522.3,399.2 L523.3,399.4 L524.3,399.6 L525.3,399.8 L526.3,400.0 L527.3,400.2 L528.3,400.4 L529.3,400.5 L530.3,400.7 L531.3,400.9 L532.3,401.1 L533.3,401.3 L534.3,401.5 L534.5,401.5" stroke="#7E2F8E"/>
<path d="M57.7,98.6 L57.8,102.3 L57.9,105.9 L58.0,109.6 L58.1,113.3 L58.2,116.9 L58.3,120.6 L58.4,124.3 L58.5,128.0 L58.6,131.6 L58.7,135.3 L58.7,139.0 L58.8,142.6 L58.9,146.3 L59.0,150.0 L59.1,153.6 L59.2,157.3 L59.2,161.0 L59.3,164.7 L59.4,168.3 L59.5,172.0 L59.6,175.7 L59.7,179.3 L59.8,183.0 L59.8,186.7 L59.9,190.3 L60.0,194.0 L60.1,197.7 L60.2,201.3 L60.3,205.0 L60.4,208.7 L60.5,212.4 L60.6,216.0 L60.7,219.7 L60.8,223.4 L60.9,227.0 L61.0,230.7 L61.1,234.4 L61.2,238.0 L61.3,241.7 L61.4,245.4 L61.6,249.0 L61.7,252.7 L61.9,256.4 L62.1,260.1 L62.3,263.7 L62.6,267.4 L62.9,271.1 L63.4,274.7 L64.0,278.4 L64.5,282.1 L65.0,285.7 L65.5,289.4 L66.3,293.1 L67.3,296.8 L68.4,300.4 L69.7,304.1 L71.1,307.8 L72.8,311.4 L74.8,315.1" stroke="#7E2F8E" stroke-width="1.9"/>
<path d="M57.7,98.6 L57.8,102.3 L57.9,105.9 L58.0,109.6 L58.1,113.3 L58.2,116.9 L58.3,120.6 L58.4,124.3 L58.5,128.0 L58.6,131.6 L58.7,135.3 L58.7,139.0 L58.8,142.6 L58.9,146.3 L59.0,150.0 L59.1,153.6 L59.2,157.3 L59.2,161.0 L59.3,164.7 L59.4,168.3 L59.5,172.0 L59.6,175.7 L59.7,179.3 L59.8,183.0 L59.8,186.7 L59.9,190.3 L60.0,194.0 L60.1,197.7 L60.2,201.3 L60.3,205.0 L60.4,208.7 L60.5,212.4 L60.6,216.0 L60.7,219.7 L60.8,223.4 L60.9,227.0 L61.0,230.7 L61.1,234.4 L61.2,238.0 L61.3,241.7 L61.4,245.4 L61.6,249.0 L61.7,252.7 L61.9,256.4 L62.1,260.1 L62.3,263.7 L62.6,267.4 L62.9,271.1 L63.4,274.7 L64.0,278.4 L64.5,282.1 L65.0,285.7 L65.5,289.4 L66.3,293.1 L67.3,296.8 L68.4,300.4 L69.7,304.1 L71.1,307.8 L72.8,311.4 L74.8,315.1" stroke="#D95319" stroke-width="1.0" stroke-dasharray="2.5 17.5" stroke-dashoffset="0"/>
<path d="M57.7,98.6 L57.8,102.3 L57.9,105.9 L58.0,109.6 L58.1,113.3 L58.2,116.9 L58.3,120.6 L58.4,124.3 L58.5,128.0 L58.6,131.6 L58.7,135.3 L58.7,139.0 L58.8,142.6 L58.9,146.3 L59.0,150.0 L59.1,153.6 L59.2,157.3 L59.2,161.0 L59.3,164.7 L59.4,168.3 L59.5,172.0 L59.6,175.7 L59.7,179.3 L59.8,183.0 L59.8,186.7 L59.9,190.3 L60.0,194.0 L60.1,197.7 L60.2,201.3 L60.3,205.0 L60.4,208.7 L60.5,212.4 L60.6,216.0 L60.7,219.7 L60.8,223.4 L60.9,227.0 L61.0,230.7 L61.1,234.4 L61.2,238.0 L61.3,241.7 L61.4,245.4 L61.6,249.0 L61.7,252.7 L61.9,256.4 L62.1,260.1 L62.3,263.7 L62.6,267.4 L62.9,271.1 L63.4,274.7 L64.0,278.4 L64.5,282.1 L65.0,285.7 L65.5,289.4 L66.3,293.1 L67.3,296.8 L68.4,300.4 L69.7,304.1 L71.1,307.8 L72.8,311.4 L74.8,315.1" stroke="#4DBEEE" stroke-width="1.0" stroke-dasharray="2.5 17.5" stroke-dashoffset="4"/>
<path d="M57.7,98.6 L57.8,102.3 L57.9,105.9 L58.0,109.6 L58.1,113.3 L58.2,116.9 L58.3,120.6 L58.4,124.3 L58.5,128.0 L58.6,131.6 L58.7,135.3 L58.7,139.0 L58.8,142.6 L58.9,146.3 L59.0,150.0 L59.1,153.6 L59.2,157.3 L59.2,161.0 L59.3,164.7 L59.4,168.3 L59.5,172.0 L59.6,175.7 L59.7,179.3 L59.8,183.0 L59.8,186.7 L59.9,190.3 L60.0,194.0 L60.1,197.7 L60.2,201.3 L60.3,205.0 L60.4,208.7 L60.5,212.4 L60.6,216.0 L60.7,219.7 L60.8,223.4 L60.9,227.0 L61.0,230.7 L61.1,234.4 L61.2,238.0 L61.3,241.7 L61.4,245.4 L61.6,249.0 L61.7,252.7 L61.9,256.4 L62.1,260.1 L62.3,263.7 L62.6,267.4 L62.9,271.1 L63.4,274.7 L64.0,278.4 L64.5,282.1 L65.0,285.7 L65.5,289.4 L66.3,293.1 L67.3,296.8 L68.4,300.4 L69.7,304.1 L71.1,307.8 L72.8,311.4 L74.8,315.1" stroke="#EDB120" stroke-width="1.0" stroke-dasharray="2.5 17.5" stroke-dashoffset="8"/>
<path d="M57.7,98.6 L57.8,102.3 L57.9,105.9 L58.0,109.6 L58.1,113.3 L58.2,116.9 L58.3,120.6 L58.4,124.3 L58.5,128.0 L58.6,131.6 L58.7,135.3 L58.7,139.0 L58.8,142.6 L58.9,146.3 L59.0,150.0 L59.1,153.6 L59.2,157.3 L59.2,161.0 L59.3,164.7 L59.4,168.3 L59.5,172.0 L59.6,175.7 L59.7,179.3 L59.8,183.0 L59.8,186.7 L59.9,190.3 L60.0,194.0 L60.1,197.7 L60.2,201.3 L60.3,205.0 L60.4,208.7 L60.5,212.4 L60.6,216.0 L60.7,219.7 L60.8,223.4 L60.9,227.0 L61.0,230.7 L61.1,234.4 L61.2,238.0 L61.3,241.7 L61.4,245.4 L61.6,249.0 L61.7,252.7 L61.9,256.4 L62.1,260.1 L62.3,263.7 L62.6,267.4 L62.9,271.1 L63.4,274.7 L64.0,278.4 L64.5,282.1 L65.0,285.7 L65.5,289.4 L66.3,293.1 L67.3,296.8 L68.4,300.4 L69.7,304.1 L71.1,307.8 L72.8,311.4 L74.8,315.1" stroke="#0072BD" stroke-width="1.0" stroke-dasharray="2.5 17.5" stroke-dashoffset="12"/>
<path d="M57.7,98.6 L57.8,102.3 L57.9,105.9 L58.0,109.6 L58.1,113.3 L58.2,116.9 L58.3,120.6 L58.4,124.3 L58.5,128.0 L58.6,131.6 L58.7,135.3 L58.7,139.0 L58.8,142.6 L58.9,146.3 L59.0,150.0 L59.1,153.6 L59.2,157.3 L59.2,161.0 L59.3,164.7 L59.4,168.3 L59.5,172.0 L59.6,175.7 L59.7,179.3 L59.8,183.0 L59.8,186.7 L59.9,190.3 L60.0,194.0 L60.1,197.7 L60.2,201.3 L60.3,205.0 L60.4,208.7 L60.5,212.4 L60.6,216.0 L60.7,219.7 L60.8,223.4 L60.9,227.0 L61.0,230.7 L61.1,234.4 L61.2,238.0 L61.3,241.7 L61.4,245.4 L61.6,249.0 L61.7,252.7 L61.9,256.4 L62.1,260.1 L62.3,263.7 L62.6,267.4 L62.9,271.1 L63.4,274.7 L64.0,278.4 L64.5,282.1 L65.0,285.7 L65.5,289.4 L66.3,293.1 L67.3,296.8 L68.4,300.4 L69.7,304.1 L71.1,307.8 L72.8,311.4 L74.8,315.1" stroke="#77AC30" stroke-width="1.0" stroke-dasharray="2.5 17.5" stroke-dashoffset="16"/>
</g>
<line x1="46.5" y1="328.7" x2="534.5" y2="328.7" stroke="#000" stroke-width="1.9" stroke-dasharray="1.8 1.386" stroke-dashoffset="1.1"/>
<g stroke="#444" stroke-width="1.1" fill="none">
<rect x="46.5" y="12.5" width="488.0" height="395.0"/>
<line x1="46.5" y1="407.5" x2="46.5" y2="402.5"/>
<line x1="46.5" y1="12.5" x2="46.5" y2="17.5"/>
<line x1="95.3" y1="407.5" x2="95.3" y2="402.5"/>
<line x1="95.3" y1="12.5" x2="95.3" y2="17.5"/>
<line x1="144.1" y1="407.5" x2="144.1" y2="402.5"/>
<line x1="144.1" y1="12.5" x2="144.1" y2="17.5"/>
<line x1="192.9" y1="407.5" x2="192.9" y2="402.5"/>
<line x1="192.9" y1="12.5" x2="192.9" y2="17.5"/>
<line x1="241.7" y1="407.5" x2="241.7" y2="402.5"/>
<line x1="241.7" y1="12.5" x2="241.7" y2="17.5"/>
<line x1="290.5" y1="407.5" x2="290.5" y2="402.5"/>
<line x1="290.5" y1="12.5" x2="290.5" y2="17.5"/>
<line x1="339.3" y1="407.5" x2="339.3" y2="402.5"/>
<line x1="339.3" y1="12.5" x2="339.3" y2="17.5"/>
<line x1="388.1" y1="407.5" x2="388.1" y2="402.5"/>
<line x1="388.1" y1="12.5" x2="388.1" y2="17.5"/>
<line x1="436.9" y1="407.5" x2="436.9" y2="402.5"/>
<line x1="436.9" y1="12.5" x2="436.9" y2="17.5"/>
<line x1="485.7" y1="407.5" x2="485.7" y2="402.5"/>
<line x1="485.7" y1="12.5" x2="485.7" y2="17.5"/>
<line x1="534.5" y1="407.5" x2="534.5" y2="402.5"/>
<line x1="534.5" y1="12.5" x2="534.5" y2="17.5"/>
<line x1="46.5" y1="407.5" x2="51.5" y2="407.5"/>
<line x1="534.5" y1="407.5" x2="529.5" y2="407.5"/>
<line x1="46.5" y1="368.0" x2="51.5" y2="368.0"/>
<line x1="534.5" y1="368.0" x2="529.5" y2="368.0"/>
<line x1="46.5" y1="328.5" x2="51.5" y2="328.5"/>
<line x1="534.5" y1="328.5" x2="529.5" y2="328.5"/>
<line x1="46.5" y1="289.0" x2="51.5" y2="289.0"/>
<line x1="534.5" y1="289.0" x2="529.5" y2="289.0"/>
<line x1="46.5" y1="249.5" x2="51.5" y2="249.5"/>
<line x1="534.5" y1="249.5" x2="529.5" y2="249.5"/>
<line x1="46.5" y1="210.0" x2="51.5" y2="210.0"/>
<line x1="534.5" y1="210.0" x2="529.5" y2="210.0"/>
<line x1="46.5" y1="170.5" x2="51.5" y2="170.5"/>
<line x1="534.5" y1="170.5" x2="529.5" y2="170.5"/>
<line x1="46.5" y1="131.0" x2="51.5" y2="131.0"/>
<line x1="534.5" y1="131.0" x2="529.5" y2="131.0"/>
<line x1="46.5" y1="91.5" x2="51.5" y2="91.5"/>
<line x1="534.5" y1="91.5" x2="529.5" y2="91.5"/>
<line x1="46.5" y1="52.0" x2="51.5" y2="52.0"/>
<line x1="534.5" y1="52.0" x2="529.5" y2="52.0"/>
<line x1="46.5" y1="12.5" x2="51.5" y2="12.5"/>
<line x1="534.5" y1="12.5" x2="529.5" y2="12.5"/>
</g>
<g font-size="14" font-weight="bold" fill="#000">
<text x="47.0" y="414.3" text-anchor="end">0.6</text>
<text x="47.0" y="374.8" text-anchor="end">0.8</text>
<text x="44.6" y="335.3" text-anchor="end">1</text>
<text x="47.0" y="295.8" text-anchor="end">1.2</text>
<text x="47.0" y="256.3" text-anchor="end">1.4</text>
<text x="47.0" y="216.8" text-anchor="end">1.6</text>
<text x="47.0" y="177.3" text-anchor="end">1.8</text>
<text x="44.6" y="137.8" text-anchor="end">2</text>
<text x="47.0" y="98.3" text-anchor="end">2.2</text>
<text x="47.0" y="58.8" text-anchor="end">2.4</text>
<text x="47.0" y="19.3" text-anchor="end">2.6</text>
<text x="47.8" y="423.7" text-anchor="middle">0</text>
<text x="96.6" y="423.7" text-anchor="middle">1</text>
<text x="145.4" y="423.7" text-anchor="middle">2</text>
<text x="194.2" y="423.7" text-anchor="middle">3</text>
<text x="243.0" y="423.7" text-anchor="middle">4</text>
<text x="291.8" y="423.7" text-anchor="middle">5</text>
<text x="340.6" y="423.7" text-anchor="middle">6</text>
<text x="389.4" y="423.7" text-anchor="middle">7</text>
<text x="438.2" y="423.7" text-anchor="middle">8</text>
<text x="487.0" y="423.7" text-anchor="middle">9</text>
<text x="536.6" y="423.7" text-anchor="middle">10</text>
</g>
<text x="510.2" y="439.6" font-size="12" fill="#000">&#215;</text>
<text x="519" y="439.8" font-size="14" fill="#000">10</text>
<text x="533.8" y="434.8" font-size="13" fill="#000">5</text>
<text x="187.5" y="443" font-size="17" font-weight="bold" font-style="italic" fill="#000">Switching Frequency <tspan font-style="normal">(Hz)</tspan></text>
<text transform="translate(22.6,235.4) rotate(-90)" font-size="18.5" font-weight="bold" font-style="italic" fill="#000">G</text>
<g font-size="18" font-weight="bold" fill="#000">
<text x="185.6" y="320.3" font-style="italic">G</text>
<text x="201.5" y="320.3">=</text>
<text x="215.8" y="320.3">1</text>
</g>
<g font-size="17.3" font-weight="bold" font-style="italic" fill="#FF0000" text-anchor="middle">
<text x="323.3" y="242.2">Load</text>
<text x="323.3" y="262.2">Increased</text>
</g>
<rect x="433" y="254" width="94" height="40" fill="#fff"/>
<g font-size="17.1" font-weight="bold" font-style="italic" fill="#2626D6" text-anchor="middle">
<text x="466.5" y="268.8">Critical</text>
<text x="466.8" y="289.2">Operating Point</text>
</g>
<path d="M349.27,269.65 L398.79,384.29 L402.05,379.61 L400.90,394.60 L389.20,385.17 L394.84,386.00 L345.33,271.35 Z" fill="#FB4246"/>
<path d="M473.64,295.35 L481.93,317.77 L485.16,314.13 L483.90,326.00 L475.22,317.80 L480.05,318.47 L471.76,296.05 Z" fill="#2626D6"/>
<circle cx="485.9" cy="328.9" r="3.0" fill="#2626D6"/>
</svg>
</body></html>
